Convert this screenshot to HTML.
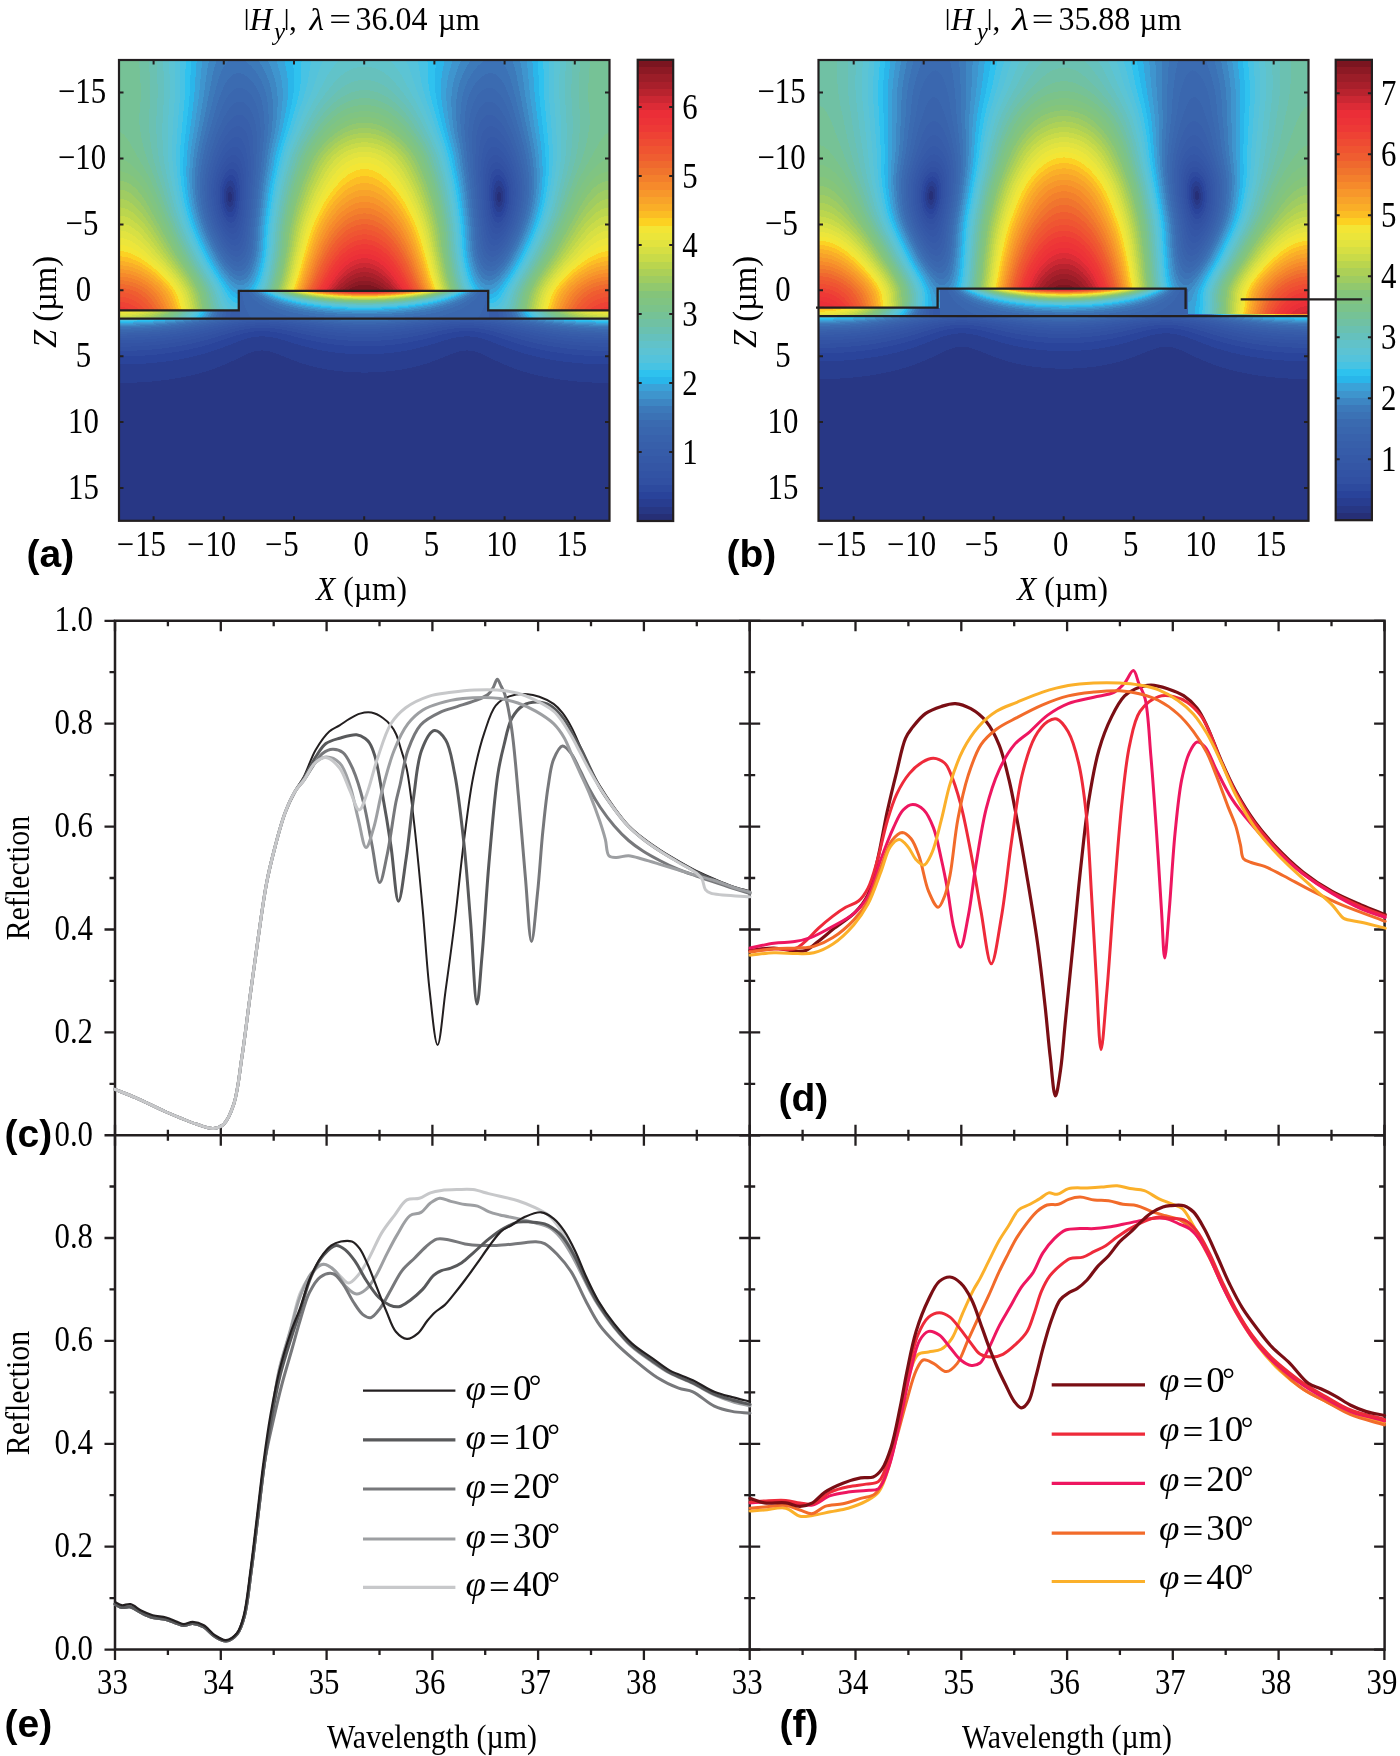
<!DOCTYPE html>
<html><head><meta charset="utf-8"><title>Figure</title>
<style>html,body{margin:0;padding:0;background:#fff}body{position:relative;width:1400px;height:1756px;overflow:hidden}canvas{position:absolute;display:block}</style>
</head><body>
<svg width="1400" height="1756" style="position:absolute;left:0;top:0" shape-rendering="crispEdges"><path fill="#78c096" d="M119.0 60.0h20.6v10.6h-20.6zM589.5 60.0h20.6v10.6h-20.6zM119.0 70.0h20.6v10.6h-20.6zM589.5 70.0h20.6v10.6h-20.6zM119.0 80.0h20.6v10.6h-20.6zM589.5 80.0h20.6v10.6h-20.6zM119.0 90.1h20.6v10.6h-20.6zM589.5 90.1h20.6v10.6h-20.6zM119.0 100.1h20.6v10.6h-20.6zM589.5 100.1h20.6v10.6h-20.6zM119.0 110.1h20.6v10.6h-20.6zM589.5 110.1h20.6v10.6h-20.6zM119.0 120.1h20.6v10.6h-20.6zM589.5 120.1h20.6v10.6h-20.6zM129.0 130.1h10.6v10.6h-10.6zM309.2 130.1h10.6v10.6h-10.6zM409.3 130.1h10.6v10.6h-10.6zM589.5 130.1h10.6v10.6h-10.6zM129.0 140.1h10.6v10.6h-10.6zM589.5 140.1h10.6v10.6h-10.6zM149.0 180.2h10.6v10.6h-10.6zM569.5 180.2h10.6v10.6h-10.6zM1058.5 80.0h10.6v10.6h-10.6zM818.5 110.1h10.6v10.6h-10.6zM1298.5 110.1h10.6v10.6h-10.6zM818.5 120.1h10.6v10.6h-10.6zM1298.5 120.1h10.6v10.6h-10.6zM818.5 130.1h20.6v10.6h-20.6zM1298.5 130.1h10.6v10.6h-10.6zM828.5 140.1h10.6v10.6h-10.6zM998.5 140.1h10.6v10.6h-10.6zM1288.5 140.1h10.6v10.6h-10.6zM838.5 160.2h10.6v10.6h-10.6zM1278.5 160.2h10.6v10.6h-10.6zM988.5 170.2h10.6v10.6h-10.6zM848.5 180.2h10.6v10.6h-10.6zM1268.5 180.2h10.6v10.6h-10.6zM978.5 210.3h10.6v10.6h-10.6zM878.5 240.3h10.6v10.6h-10.6zM1228.5 260.3h10.6v10.6h-10.6zM637.7 311.4h36.1v6.6h-36.1zM1335.7 310.9h36.8v6.6h-36.8z"/><path fill="#72c0a2" d="M139.0 60.0h10.6v10.6h-10.6zM579.5 60.0h10.6v10.6h-10.6zM139.0 70.0h10.6v10.6h-10.6zM579.5 70.0h10.6v10.6h-10.6zM139.0 80.0h10.6v10.6h-10.6zM579.5 80.0h10.6v10.6h-10.6zM139.0 90.1h10.6v10.6h-10.6zM349.2 90.1h30.6v10.6h-30.6zM579.5 90.1h10.6v10.6h-10.6zM139.0 100.1h10.6v10.6h-10.6zM579.5 100.1h10.6v10.6h-10.6zM139.0 110.1h10.6v10.6h-10.6zM319.2 110.1h10.6v10.6h-10.6zM399.3 110.1h10.6v10.6h-10.6zM579.5 110.1h10.6v10.6h-10.6zM139.0 120.1h10.6v10.6h-10.6zM579.5 120.1h10.6v10.6h-10.6zM139.0 130.1h10.6v10.6h-10.6zM579.5 130.1h10.6v10.6h-10.6zM139.0 140.1h10.6v10.6h-10.6zM299.2 140.1h10.6v10.6h-10.6zM419.3 140.1h10.6v10.6h-10.6zM579.5 140.1h10.6v10.6h-10.6zM149.0 170.2h10.6v10.6h-10.6zM569.5 170.2h10.6v10.6h-10.6zM269.2 270.4h10.6v10.6h-10.6zM449.3 270.4h10.6v10.6h-10.6zM818.5 60.0h10.6v10.6h-10.6zM1298.5 60.0h10.6v10.6h-10.6zM818.5 70.0h10.6v10.6h-10.6zM1048.5 70.0h30.6v10.6h-30.6zM1298.5 70.0h10.6v10.6h-10.6zM818.5 80.0h20.6v10.6h-20.6zM1038.5 80.0h10.6v10.6h-10.6zM1078.5 80.0h10.6v10.6h-10.6zM1298.5 80.0h10.6v10.6h-10.6zM818.5 90.1h20.6v10.6h-20.6zM1288.5 90.1h20.6v10.6h-20.6zM818.5 100.1h20.6v10.6h-20.6zM1288.5 100.1h20.6v10.6h-20.6zM828.5 110.1h10.6v10.6h-10.6zM1008.5 110.1h10.6v10.6h-10.6zM1288.5 110.1h10.6v10.6h-10.6zM1288.5 120.1h10.6v10.6h-10.6zM998.5 130.1h10.6v10.6h-10.6zM838.5 140.1h10.6v10.6h-10.6zM1278.5 140.1h10.6v10.6h-10.6zM988.5 160.2h10.6v10.6h-10.6zM1128.5 160.2h10.6v10.6h-10.6zM848.5 170.2h10.6v10.6h-10.6zM1268.5 170.2h10.6v10.6h-10.6zM978.5 200.2h10.6v10.6h-10.6zM1248.5 220.3h10.6v10.6h-10.6zM898.5 270.4h10.6v10.6h-10.6zM1148.5 270.4h10.6v10.6h-10.6zM1148.5 280.4h10.6v10.6h-10.6zM637.7 317.4h36.1v6.6h-36.1z"/><path fill="#6cc0b4" d="M149.0 60.0h10.6v10.6h-10.6zM569.5 60.0h10.6v10.6h-10.6zM149.0 70.0h10.6v10.6h-10.6zM569.5 70.0h10.6v10.6h-10.6zM149.0 80.0h10.6v10.6h-10.6zM349.2 80.0h30.6v10.6h-30.6zM569.5 80.0h10.6v10.6h-10.6zM149.0 90.1h10.6v10.6h-10.6zM329.2 90.1h10.6v10.6h-10.6zM389.3 90.1h10.6v10.6h-10.6zM569.5 90.1h10.6v10.6h-10.6zM149.0 100.1h10.6v10.6h-10.6zM319.2 100.1h10.6v10.6h-10.6zM399.3 100.1h10.6v10.6h-10.6zM569.5 100.1h10.6v10.6h-10.6zM149.0 110.1h10.6v10.6h-10.6zM569.5 110.1h10.6v10.6h-10.6zM149.0 120.1h10.6v10.6h-10.6zM569.5 120.1h10.6v10.6h-10.6zM149.0 130.1h10.6v10.6h-10.6zM569.5 130.1h10.6v10.6h-10.6zM149.0 140.1h10.6v10.6h-10.6zM569.5 140.1h10.6v10.6h-10.6zM159.0 180.2h10.6v10.6h-10.6zM559.4 180.2h10.6v10.6h-10.6zM279.2 190.2h10.6v10.6h-10.6zM439.3 190.2h10.6v10.6h-10.6zM838.5 60.0h10.6v10.6h-10.6zM1038.5 60.0h10.6v10.6h-10.6zM1078.5 60.0h10.6v10.6h-10.6zM1278.5 60.0h10.6v10.6h-10.6zM838.5 70.0h10.6v10.6h-10.6zM1028.5 70.0h10.6v10.6h-10.6zM1088.5 70.0h10.6v10.6h-10.6zM1278.5 70.0h10.6v10.6h-10.6zM838.5 80.0h10.6v10.6h-10.6zM1278.5 80.0h10.6v10.6h-10.6zM838.5 90.1h10.6v10.6h-10.6zM1278.5 90.1h10.6v10.6h-10.6zM1008.5 100.1h10.6v10.6h-10.6zM848.5 140.1h10.6v10.6h-10.6zM1268.5 140.1h10.6v10.6h-10.6zM858.5 180.2h10.6v10.6h-10.6zM1258.5 180.2h10.6v10.6h-10.6zM868.5 210.3h10.6v10.6h-10.6zM1248.5 210.3h10.6v10.6h-10.6zM878.5 230.3h10.6v10.6h-10.6zM1228.5 250.3h10.6v10.6h-10.6zM908.5 290.4h10.6v10.6h-10.6zM637.7 329.3h36.1v6.6h-36.1zM1335.7 328.9h36.8v6.6h-36.8z"/><path fill="#60c0c6" d="M159.0 60.0h10.6v10.6h-10.6zM349.2 60.0h30.6v10.6h-30.6zM559.4 60.0h10.6v10.6h-10.6zM329.2 70.0h10.6v10.6h-10.6zM389.3 70.0h10.6v10.6h-10.6zM159.0 100.1h10.6v10.6h-10.6zM309.2 100.1h10.6v10.6h-10.6zM409.3 100.1h10.6v10.6h-10.6zM559.4 100.1h10.6v10.6h-10.6zM159.0 110.1h10.6v10.6h-10.6zM559.4 110.1h10.6v10.6h-10.6zM159.0 120.1h10.6v10.6h-10.6zM299.2 120.1h10.6v10.6h-10.6zM419.3 120.1h10.6v10.6h-10.6zM559.4 120.1h10.6v10.6h-10.6zM159.0 130.1h10.6v10.6h-10.6zM559.4 130.1h10.6v10.6h-10.6zM159.0 140.1h10.6v10.6h-10.6zM289.2 140.1h10.6v10.6h-10.6zM429.3 140.1h10.6v10.6h-10.6zM559.4 140.1h10.6v10.6h-10.6zM159.0 150.2h10.6v10.6h-10.6zM559.4 150.2h10.6v10.6h-10.6zM169.1 200.2h10.6v10.6h-10.6zM549.4 200.2h10.6v10.6h-10.6zM269.2 230.3h10.6v10.6h-10.6zM449.3 230.3h10.6v10.6h-10.6zM1018.5 60.0h10.6v10.6h-10.6zM1098.5 60.0h10.6v10.6h-10.6zM1008.5 80.0h10.6v10.6h-10.6zM1108.5 80.0h10.6v10.6h-10.6zM998.5 100.1h10.6v10.6h-10.6zM1118.5 100.1h10.6v10.6h-10.6zM988.5 130.1h10.6v10.6h-10.6zM858.5 140.1h10.6v10.6h-10.6zM1258.5 140.1h10.6v10.6h-10.6zM1258.5 150.2h10.6v10.6h-10.6zM978.5 170.2h10.6v10.6h-10.6zM1138.5 170.2h10.6v10.6h-10.6zM878.5 220.3h10.6v10.6h-10.6zM968.5 220.3h10.6v10.6h-10.6zM888.5 240.3h10.6v10.6h-10.6zM898.5 260.3h10.6v10.6h-10.6zM1208.5 280.4h10.6v10.6h-10.6z"/><path fill="#5ac6d8" d="M169.1 60.0h10.6v10.6h-10.6zM549.4 60.0h10.6v10.6h-10.6zM169.1 70.0h10.6v10.6h-10.6zM549.4 70.0h10.6v10.6h-10.6zM169.1 80.0h10.6v10.6h-10.6zM309.2 80.0h10.6v10.6h-10.6zM409.3 80.0h10.6v10.6h-10.6zM549.4 80.0h10.6v10.6h-10.6zM169.1 90.1h10.6v10.6h-10.6zM549.4 90.1h10.6v10.6h-10.6zM169.1 100.1h10.6v10.6h-10.6zM549.4 100.1h10.6v10.6h-10.6zM169.1 110.1h10.6v10.6h-10.6zM549.4 110.1h10.6v10.6h-10.6zM289.2 130.1h10.6v10.6h-10.6zM429.3 130.1h10.6v10.6h-10.6zM199.1 260.3h10.6v10.6h-10.6zM519.4 260.3h10.6v10.6h-10.6zM998.5 80.0h10.6v10.6h-10.6zM1118.5 80.0h10.6v10.6h-10.6zM988.5 110.1h10.6v10.6h-10.6zM1138.5 150.2h10.6v10.6h-10.6zM868.5 160.2h10.6v10.6h-10.6zM1248.5 170.2h10.6v10.6h-10.6z"/><path fill="#42c0ea" d="M179.1 60.0h10.6v10.6h-10.6zM539.4 60.0h10.6v10.6h-10.6zM988.5 80.0h10.6v10.6h-10.6z"/><path fill="#30b4e4" d="M189.1 60.0h10.6v10.6h-10.6zM529.4 60.0h10.6v10.6h-10.6zM279.2 120.1h10.6v10.6h-10.6zM439.3 120.1h10.6v10.6h-10.6zM179.1 170.2h10.6v10.6h-10.6zM539.4 170.2h10.6v10.6h-10.6zM978.5 80.0h10.6v10.6h-10.6z"/><path fill="#3c96cc" d="M199.1 60.0h10.6v10.6h-10.6zM269.2 60.0h10.6v10.6h-10.6zM449.3 60.0h10.6v10.6h-10.6zM519.4 60.0h10.6v10.6h-10.6zM239.1 280.4h10.6v10.6h-10.6zM479.4 280.4h10.6v10.6h-10.6zM289.2 300.4h10.6v10.6h-10.6zM429.3 300.4h10.6v10.6h-10.6zM1148.5 70.0h10.6v10.6h-10.6zM1148.5 80.0h10.6v10.6h-10.6zM968.5 90.1h10.6v10.6h-10.6zM1228.5 90.1h10.6v10.6h-10.6zM1228.5 100.1h10.6v10.6h-10.6zM1228.5 110.1h10.6v10.6h-10.6zM1228.5 120.1h10.6v10.6h-10.6zM1228.5 130.1h10.6v10.6h-10.6zM1228.5 140.1h10.6v10.6h-10.6zM888.5 150.2h10.6v10.6h-10.6zM888.5 190.2h10.6v10.6h-10.6zM1228.5 200.2h10.6v10.6h-10.6zM1218.5 230.3h10.6v10.6h-10.6z"/><path fill="#3c84c0" d="M209.1 60.0h10.6v10.6h-10.6zM259.1 60.0h10.6v10.6h-10.6zM459.3 60.0h10.6v10.6h-10.6zM509.4 60.0h10.6v10.6h-10.6zM269.2 90.1h10.6v10.6h-10.6zM449.3 90.1h10.6v10.6h-10.6zM269.2 100.1h10.6v10.6h-10.6zM449.3 100.1h10.6v10.6h-10.6zM199.1 110.1h10.6v10.6h-10.6zM269.2 110.1h10.6v10.6h-10.6zM449.3 110.1h10.6v10.6h-10.6zM519.4 110.1h10.6v10.6h-10.6zM189.1 160.2h10.6v10.6h-10.6zM529.4 160.2h10.6v10.6h-10.6zM189.1 170.2h10.6v10.6h-10.6zM259.1 170.2h10.6v10.6h-10.6zM459.3 170.2h10.6v10.6h-10.6zM529.4 170.2h10.6v10.6h-10.6zM189.1 180.2h10.6v10.6h-10.6zM529.4 180.2h10.6v10.6h-10.6zM279.2 300.4h10.6v10.6h-10.6zM439.3 300.4h10.6v10.6h-10.6zM898.5 60.0h10.6v10.6h-10.6zM1218.5 60.0h10.6v10.6h-10.6zM898.5 70.0h10.6v10.6h-10.6zM1158.5 170.2h10.6v10.6h-10.6zM958.5 180.2h10.6v10.6h-10.6zM898.5 220.3h10.6v10.6h-10.6zM1168.5 250.3h10.6v10.6h-10.6zM918.5 260.3h10.6v10.6h-10.6zM948.5 260.3h10.6v10.6h-10.6zM1198.5 310.4h10.6v10.6h-10.6zM637.7 401.2h36.1v6.6h-36.1zM1335.7 400.6h36.8v6.6h-36.8z"/><path fill="#3c78ba" d="M219.1 60.0h10.6v10.6h-10.6zM249.1 60.0h10.6v10.6h-10.6zM469.4 60.0h10.6v10.6h-10.6zM499.4 60.0h10.6v10.6h-10.6zM209.1 80.0h10.6v10.6h-10.6zM259.1 80.0h10.6v10.6h-10.6zM459.3 80.0h10.6v10.6h-10.6zM509.4 80.0h10.6v10.6h-10.6zM209.1 90.1h10.6v10.6h-10.6zM509.4 90.1h10.6v10.6h-10.6zM199.1 130.1h10.6v10.6h-10.6zM519.4 130.1h10.6v10.6h-10.6zM259.1 150.2h10.6v10.6h-10.6zM459.3 150.2h10.6v10.6h-10.6zM259.1 160.2h10.6v10.6h-10.6zM459.3 160.2h10.6v10.6h-10.6zM199.1 220.3h10.6v10.6h-10.6zM519.4 220.3h10.6v10.6h-10.6zM249.1 240.3h10.6v10.6h-10.6zM469.4 240.3h10.6v10.6h-10.6zM219.1 260.3h10.6v10.6h-10.6zM499.4 260.3h10.6v10.6h-10.6zM229.1 270.4h20.6v10.6h-20.6zM479.4 270.4h20.6v10.6h-20.6zM319.2 310.4h20.6v10.6h-20.6zM389.3 310.4h20.6v10.6h-20.6zM159.0 320.5h10.6v10.6h-10.6zM559.4 320.5h10.6v10.6h-10.6zM1218.5 100.1h10.6v10.6h-10.6zM898.5 110.1h10.6v10.6h-10.6zM1218.5 110.1h10.6v10.6h-10.6zM898.5 120.1h10.6v10.6h-10.6zM1218.5 120.1h10.6v10.6h-10.6zM898.5 130.1h10.6v10.6h-10.6zM958.5 130.1h10.6v10.6h-10.6zM898.5 140.1h10.6v10.6h-10.6zM958.5 140.1h10.6v10.6h-10.6zM958.5 150.2h10.6v10.6h-10.6zM958.5 160.2h10.6v10.6h-10.6zM1168.5 230.3h10.6v10.6h-10.6zM948.5 240.3h10.6v10.6h-10.6zM1208.5 240.3h10.6v10.6h-10.6zM928.5 270.4h10.6v10.6h-10.6zM1188.5 270.4h10.6v10.6h-10.6zM958.5 290.4h10.6v10.6h-10.6zM1158.5 290.4h10.6v10.6h-10.6zM1058.5 310.4h10.6v10.6h-10.6zM637.7 407.2h36.1v6.6h-36.1zM1335.7 406.6h36.8v6.6h-36.8z"/><path fill="#3c72b4" d="M229.1 60.0h20.6v10.6h-20.6zM479.4 60.0h20.6v10.6h-20.6zM219.1 70.0h10.6v10.6h-10.6zM249.1 70.0h10.6v10.6h-10.6zM469.4 70.0h10.6v10.6h-10.6zM499.4 70.0h10.6v10.6h-10.6zM259.1 90.1h10.6v10.6h-10.6zM459.3 90.1h10.6v10.6h-10.6zM209.1 100.1h10.6v10.6h-10.6zM259.1 100.1h10.6v10.6h-10.6zM459.3 100.1h10.6v10.6h-10.6zM509.4 100.1h10.6v10.6h-10.6zM259.1 110.1h10.6v10.6h-10.6zM459.3 110.1h10.6v10.6h-10.6zM259.1 130.1h10.6v10.6h-10.6zM459.3 130.1h10.6v10.6h-10.6zM199.1 140.1h10.6v10.6h-10.6zM259.1 140.1h10.6v10.6h-10.6zM459.3 140.1h10.6v10.6h-10.6zM519.4 140.1h10.6v10.6h-10.6zM249.1 220.3h10.6v10.6h-10.6zM469.4 220.3h10.6v10.6h-10.6zM249.1 230.3h10.6v10.6h-10.6zM469.4 230.3h10.6v10.6h-10.6zM209.1 240.3h10.6v10.6h-10.6zM509.4 240.3h10.6v10.6h-10.6zM249.1 290.4h10.6v10.6h-10.6zM469.4 290.4h10.6v10.6h-10.6zM269.2 300.4h10.6v10.6h-10.6zM449.3 300.4h10.6v10.6h-10.6zM209.1 310.4h10.6v10.6h-10.6zM309.2 310.4h10.6v10.6h-10.6zM409.3 310.4h10.6v10.6h-10.6zM509.4 310.4h10.6v10.6h-10.6zM169.1 320.5h10.6v10.6h-10.6zM549.4 320.5h10.6v10.6h-10.6zM948.5 60.0h10.6v10.6h-10.6zM1168.5 60.0h10.6v10.6h-10.6zM908.5 70.0h10.6v10.6h-10.6zM948.5 70.0h10.6v10.6h-10.6zM1168.5 70.0h10.6v10.6h-10.6zM1208.5 70.0h10.6v10.6h-10.6zM908.5 80.0h10.6v10.6h-10.6zM1218.5 140.1h10.6v10.6h-10.6zM898.5 150.2h10.6v10.6h-10.6zM1218.5 150.2h10.6v10.6h-10.6zM898.5 210.3h10.6v10.6h-10.6zM1218.5 210.3h10.6v10.6h-10.6zM948.5 220.3h10.6v10.6h-10.6zM938.5 270.4h10.6v10.6h-10.6zM1178.5 270.4h10.6v10.6h-10.6zM978.5 300.4h10.6v10.6h-10.6zM1138.5 300.4h10.6v10.6h-10.6zM908.5 310.4h10.6v10.6h-10.6zM1028.5 310.4h30.6v10.6h-30.6zM1068.5 310.4h30.6v10.6h-30.6zM828.5 320.5h20.6v10.6h-20.6zM1278.5 320.5h20.6v10.6h-20.6zM637.7 413.2h36.1v6.6h-36.1zM1335.7 412.6h36.8v6.6h-36.8z"/><path fill="#36a8de" d="M279.2 60.0h10.6v10.6h-10.6zM439.3 60.0h10.6v10.6h-10.6zM279.2 70.0h10.6v10.6h-10.6zM439.3 70.0h10.6v10.6h-10.6zM189.1 100.1h10.6v10.6h-10.6zM529.4 100.1h10.6v10.6h-10.6zM279.2 110.1h10.6v10.6h-10.6zM439.3 110.1h10.6v10.6h-10.6zM269.2 150.2h10.6v10.6h-10.6zM449.3 150.2h10.6v10.6h-10.6zM199.1 240.3h10.6v10.6h-10.6zM519.4 240.3h10.6v10.6h-10.6zM978.5 60.0h10.6v10.6h-10.6zM1148.5 120.1h10.6v10.6h-10.6zM1148.5 130.1h10.6v10.6h-10.6zM968.5 140.1h10.6v10.6h-10.6zM888.5 210.3h10.6v10.6h-10.6zM1188.5 300.4h10.6v10.6h-10.6z"/><path fill="#30c0f0" d="M289.2 60.0h10.6v10.6h-10.6zM429.3 60.0h10.6v10.6h-10.6zM637.7 371.3h36.1v6.6h-36.1zM1335.7 370.7h36.8v6.6h-36.8z"/><path fill="#42c0e4" d="M299.2 60.0h10.6v10.6h-10.6zM419.3 60.0h10.6v10.6h-10.6zM289.2 110.1h10.6v10.6h-10.6zM429.3 110.1h10.6v10.6h-10.6zM279.2 140.1h10.6v10.6h-10.6zM439.3 140.1h10.6v10.6h-10.6zM179.1 200.2h10.6v10.6h-10.6zM539.4 200.2h10.6v10.6h-10.6zM189.1 230.3h10.6v10.6h-10.6zM529.4 230.3h10.6v10.6h-10.6zM259.1 260.3h10.6v10.6h-10.6zM459.3 260.3h10.6v10.6h-10.6zM209.1 270.4h10.6v10.6h-10.6zM509.4 270.4h10.6v10.6h-10.6zM1128.5 80.0h10.6v10.6h-10.6zM1138.5 120.1h10.6v10.6h-10.6zM1148.5 180.2h10.6v10.6h-10.6zM1238.5 200.2h10.6v10.6h-10.6zM1158.5 250.3h10.6v10.6h-10.6zM1158.5 260.3h10.6v10.6h-10.6zM958.5 270.4h10.6v10.6h-10.6zM918.5 290.4h10.6v10.6h-10.6zM1198.5 290.4h10.6v10.6h-10.6zM1198.5 300.4h10.6v10.6h-10.6zM637.7 365.3h36.1v6.6h-36.1zM1335.7 364.7h36.8v6.6h-36.8z"/><path fill="#54c0de" d="M309.2 60.0h10.6v10.6h-10.6zM409.3 60.0h10.6v10.6h-10.6z"/><path fill="#5ac6d2" d="M319.2 60.0h10.6v10.6h-10.6zM399.3 60.0h10.6v10.6h-10.6zM319.2 70.0h10.6v10.6h-10.6zM399.3 70.0h10.6v10.6h-10.6zM309.2 90.1h10.6v10.6h-10.6zM409.3 90.1h10.6v10.6h-10.6zM299.2 110.1h10.6v10.6h-10.6zM419.3 110.1h10.6v10.6h-10.6zM279.2 160.2h10.6v10.6h-10.6zM439.3 160.2h10.6v10.6h-10.6zM169.1 180.2h10.6v10.6h-10.6zM549.4 180.2h10.6v10.6h-10.6zM179.1 220.3h10.6v10.6h-10.6zM539.4 220.3h10.6v10.6h-10.6zM219.1 300.4h10.6v10.6h-10.6zM499.4 300.4h10.6v10.6h-10.6zM1008.5 60.0h10.6v10.6h-10.6zM1108.5 60.0h10.6v10.6h-10.6zM1258.5 70.0h10.6v10.6h-10.6zM1258.5 80.0h10.6v10.6h-10.6zM998.5 90.1h10.6v10.6h-10.6zM1258.5 90.1h10.6v10.6h-10.6zM1128.5 110.1h10.6v10.6h-10.6zM978.5 160.2h10.6v10.6h-10.6zM868.5 170.2h10.6v10.6h-10.6zM868.5 180.2h10.6v10.6h-10.6zM1248.5 180.2h10.6v10.6h-10.6z"/><path fill="#60c6cc" d="M329.2 60.0h10.6v10.6h-10.6zM389.3 60.0h10.6v10.6h-10.6zM319.2 80.0h10.6v10.6h-10.6zM399.3 80.0h10.6v10.6h-10.6zM169.1 190.2h10.6v10.6h-10.6zM549.4 190.2h10.6v10.6h-10.6zM1008.5 70.0h10.6v10.6h-10.6zM1108.5 70.0h10.6v10.6h-10.6zM858.5 110.1h10.6v10.6h-10.6zM858.5 120.1h10.6v10.6h-10.6zM988.5 120.1h10.6v10.6h-10.6zM1128.5 120.1h10.6v10.6h-10.6zM1258.5 120.1h10.6v10.6h-10.6zM1258.5 130.1h10.6v10.6h-10.6z"/><path fill="#60c0cc" d="M339.2 60.0h10.6v10.6h-10.6zM379.3 60.0h10.6v10.6h-10.6zM279.2 170.2h10.6v10.6h-10.6zM439.3 170.2h10.6v10.6h-10.6zM269.2 220.3h10.6v10.6h-10.6zM449.3 220.3h10.6v10.6h-10.6zM259.1 280.4h10.6v10.6h-10.6zM459.3 280.4h10.6v10.6h-10.6zM858.5 130.1h10.6v10.6h-10.6zM1138.5 160.2h10.6v10.6h-10.6zM868.5 190.2h10.6v10.6h-10.6zM1248.5 190.2h10.6v10.6h-10.6zM1148.5 210.3h10.6v10.6h-10.6zM1238.5 220.3h10.6v10.6h-10.6zM1228.5 240.3h10.6v10.6h-10.6zM1218.5 260.3h10.6v10.6h-10.6zM637.7 341.3h36.1v6.6h-36.1zM1335.7 340.8h36.8v6.6h-36.8z"/><path fill="#66c0c6" d="M159.0 70.0h10.6v10.6h-10.6zM559.4 70.0h10.6v10.6h-10.6zM159.0 80.0h10.6v10.6h-10.6zM559.4 80.0h10.6v10.6h-10.6zM159.0 90.1h10.6v10.6h-10.6zM559.4 90.1h10.6v10.6h-10.6zM858.5 150.2h10.6v10.6h-10.6zM1248.5 200.2h10.6v10.6h-10.6z"/><path fill="#3cc0ea" d="M179.1 70.0h10.6v10.6h-10.6zM539.4 70.0h10.6v10.6h-10.6zM179.1 80.0h10.6v10.6h-10.6zM539.4 80.0h10.6v10.6h-10.6zM179.1 90.1h10.6v10.6h-10.6zM539.4 90.1h10.6v10.6h-10.6zM179.1 100.1h10.6v10.6h-10.6zM539.4 100.1h10.6v10.6h-10.6zM1128.5 70.0h10.6v10.6h-10.6zM1138.5 110.1h10.6v10.6h-10.6zM978.5 120.1h10.6v10.6h-10.6zM1238.5 190.2h10.6v10.6h-10.6z"/><path fill="#30aee4" d="M189.1 70.0h10.6v10.6h-10.6zM529.4 70.0h10.6v10.6h-10.6zM189.1 80.0h10.6v10.6h-10.6zM529.4 80.0h10.6v10.6h-10.6zM1138.5 60.0h10.6v10.6h-10.6zM978.5 70.0h10.6v10.6h-10.6zM1138.5 70.0h10.6v10.6h-10.6z"/><path fill="#3c90cc" d="M199.1 70.0h10.6v10.6h-10.6zM269.2 70.0h10.6v10.6h-10.6zM449.3 70.0h10.6v10.6h-10.6zM519.4 70.0h10.6v10.6h-10.6zM199.1 80.0h10.6v10.6h-10.6zM519.4 80.0h10.6v10.6h-10.6zM269.2 130.1h10.6v10.6h-10.6zM449.3 130.1h10.6v10.6h-10.6zM189.1 140.1h10.6v10.6h-10.6zM529.4 140.1h10.6v10.6h-10.6zM259.1 190.2h10.6v10.6h-10.6zM459.3 190.2h10.6v10.6h-10.6zM189.1 200.2h10.6v10.6h-10.6zM529.4 200.2h10.6v10.6h-10.6zM259.1 290.4h10.6v10.6h-10.6zM459.3 290.4h10.6v10.6h-10.6zM968.5 60.0h10.6v10.6h-10.6zM1148.5 60.0h10.6v10.6h-10.6zM968.5 70.0h10.6v10.6h-10.6zM968.5 80.0h10.6v10.6h-10.6zM1228.5 150.2h10.6v10.6h-10.6zM888.5 160.2h10.6v10.6h-10.6zM888.5 170.2h10.6v10.6h-10.6zM888.5 180.2h10.6v10.6h-10.6zM1158.5 190.2h10.6v10.6h-10.6zM1208.5 250.3h10.6v10.6h-10.6zM1168.5 270.4h10.6v10.6h-10.6zM928.5 280.4h10.6v10.6h-10.6zM998.5 300.4h10.6v10.6h-10.6zM1118.5 300.4h10.6v10.6h-10.6zM637.7 395.2h36.1v6.6h-36.1zM1335.7 394.6h36.8v6.6h-36.8z"/><path fill="#3c7eba" d="M209.1 70.0h10.6v10.6h-10.6zM259.1 70.0h10.6v10.6h-10.6zM459.3 70.0h10.6v10.6h-10.6zM509.4 70.0h10.6v10.6h-10.6zM199.1 120.1h10.6v10.6h-10.6zM519.4 120.1h10.6v10.6h-10.6zM249.1 250.3h10.6v10.6h-10.6zM469.4 250.3h10.6v10.6h-10.6zM339.2 310.4h10.6v10.6h-10.6zM379.3 310.4h10.6v10.6h-10.6zM958.5 60.0h10.6v10.6h-10.6zM958.5 70.0h10.6v10.6h-10.6zM958.5 80.0h10.6v10.6h-10.6zM1158.5 80.0h10.6v10.6h-10.6zM1218.5 80.0h10.6v10.6h-10.6zM898.5 90.1h10.6v10.6h-10.6zM958.5 90.1h10.6v10.6h-10.6zM1158.5 90.1h10.6v10.6h-10.6zM1218.5 90.1h10.6v10.6h-10.6zM898.5 100.1h10.6v10.6h-10.6zM958.5 100.1h10.6v10.6h-10.6zM1158.5 100.1h10.6v10.6h-10.6zM958.5 110.1h10.6v10.6h-10.6zM958.5 120.1h10.6v10.6h-10.6zM1158.5 130.1h10.6v10.6h-10.6zM1158.5 140.1h10.6v10.6h-10.6zM1158.5 150.2h10.6v10.6h-10.6zM1158.5 160.2h10.6v10.6h-10.6zM958.5 170.2h10.6v10.6h-10.6zM1218.5 220.3h10.6v10.6h-10.6zM908.5 240.3h10.6v10.6h-10.6zM1168.5 240.3h10.6v10.6h-10.6zM948.5 250.3h10.6v10.6h-10.6z"/><path fill="#3c6cb4" d="M229.1 70.0h20.6v10.6h-20.6zM479.4 70.0h20.6v10.6h-20.6zM219.1 80.0h10.6v10.6h-10.6zM249.1 80.0h10.6v10.6h-10.6zM469.4 80.0h10.6v10.6h-10.6zM499.4 80.0h10.6v10.6h-10.6zM219.1 90.1h10.6v10.6h-10.6zM499.4 90.1h10.6v10.6h-10.6zM209.1 110.1h10.6v10.6h-10.6zM509.4 110.1h10.6v10.6h-10.6zM259.1 120.1h10.6v10.6h-10.6zM459.3 120.1h10.6v10.6h-10.6zM199.1 150.2h10.6v10.6h-10.6zM519.4 150.2h10.6v10.6h-10.6zM199.1 210.3h10.6v10.6h-10.6zM249.1 210.3h10.6v10.6h-10.6zM469.4 210.3h10.6v10.6h-10.6zM519.4 210.3h10.6v10.6h-10.6zM239.1 260.3h10.6v10.6h-10.6zM479.4 260.3h10.6v10.6h-10.6zM259.1 300.4h10.6v10.6h-10.6zM459.3 300.4h10.6v10.6h-10.6zM289.2 310.4h20.6v10.6h-20.6zM419.3 310.4h20.6v10.6h-20.6zM179.1 320.5h10.6v10.6h-10.6zM539.4 320.5h10.6v10.6h-10.6zM918.5 60.0h30.6v10.6h-30.6zM1178.5 60.0h30.6v10.6h-30.6zM948.5 80.0h10.6v10.6h-10.6zM1168.5 80.0h10.6v10.6h-10.6zM1208.5 80.0h10.6v10.6h-10.6zM908.5 90.1h10.6v10.6h-10.6zM948.5 90.1h10.6v10.6h-10.6zM1168.5 90.1h10.6v10.6h-10.6zM1208.5 90.1h10.6v10.6h-10.6zM908.5 100.1h10.6v10.6h-10.6zM948.5 100.1h10.6v10.6h-10.6zM1168.5 100.1h10.6v10.6h-10.6zM1208.5 100.1h10.6v10.6h-10.6zM908.5 110.1h10.6v10.6h-10.6zM948.5 110.1h10.6v10.6h-10.6zM1168.5 110.1h10.6v10.6h-10.6zM898.5 160.2h10.6v10.6h-10.6zM1218.5 160.2h10.6v10.6h-10.6zM898.5 170.2h10.6v10.6h-10.6zM898.5 200.2h10.6v10.6h-10.6zM1218.5 200.2h10.6v10.6h-10.6zM948.5 210.3h10.6v10.6h-10.6zM1168.5 210.3h10.6v10.6h-10.6zM908.5 230.3h10.6v10.6h-10.6zM918.5 250.3h10.6v10.6h-10.6zM1198.5 250.3h10.6v10.6h-10.6zM1178.5 260.3h10.6v10.6h-10.6zM968.5 300.4h10.6v10.6h-10.6zM1148.5 300.4h10.6v10.6h-10.6zM1018.5 310.4h10.6v10.6h-10.6zM1098.5 310.4h10.6v10.6h-10.6zM848.5 320.5h10.6v10.6h-10.6zM1268.5 320.5h10.6v10.6h-10.6z"/><path fill="#2abaea" d="M289.2 70.0h10.6v10.6h-10.6zM429.3 70.0h10.6v10.6h-10.6zM289.2 80.0h10.6v10.6h-10.6zM429.3 80.0h10.6v10.6h-10.6zM1238.5 60.0h10.6v10.6h-10.6zM878.5 70.0h10.6v10.6h-10.6zM1238.5 70.0h10.6v10.6h-10.6zM878.5 80.0h10.6v10.6h-10.6zM878.5 90.1h10.6v10.6h-10.6zM1138.5 90.1h10.6v10.6h-10.6zM878.5 100.1h10.6v10.6h-10.6zM878.5 110.1h10.6v10.6h-10.6z"/><path fill="#48c0e4" d="M299.2 70.0h10.6v10.6h-10.6zM419.3 70.0h10.6v10.6h-10.6zM299.2 80.0h10.6v10.6h-10.6zM419.3 80.0h10.6v10.6h-10.6zM229.1 300.4h10.6v10.6h-10.6zM489.4 300.4h10.6v10.6h-10.6zM1248.5 80.0h10.6v10.6h-10.6zM988.5 90.1h10.6v10.6h-10.6zM1248.5 90.1h10.6v10.6h-10.6zM978.5 130.1h10.6v10.6h-10.6zM968.5 190.2h10.6v10.6h-10.6zM878.5 200.2h10.6v10.6h-10.6z"/><path fill="#54c6d8" d="M309.2 70.0h10.6v10.6h-10.6zM409.3 70.0h10.6v10.6h-10.6zM299.2 100.1h10.6v10.6h-10.6zM419.3 100.1h10.6v10.6h-10.6zM169.1 120.1h10.6v10.6h-10.6zM549.4 120.1h10.6v10.6h-10.6zM169.1 170.2h10.6v10.6h-10.6zM549.4 170.2h10.6v10.6h-10.6zM269.2 200.2h10.6v10.6h-10.6zM449.3 200.2h10.6v10.6h-10.6zM189.1 240.3h10.6v10.6h-10.6zM529.4 240.3h10.6v10.6h-10.6zM1118.5 70.0h10.6v10.6h-10.6zM1128.5 100.1h10.6v10.6h-10.6zM868.5 140.1h10.6v10.6h-10.6zM868.5 150.2h10.6v10.6h-10.6zM978.5 150.2h10.6v10.6h-10.6zM1248.5 150.2h10.6v10.6h-10.6zM1248.5 160.2h10.6v10.6h-10.6zM968.5 200.2h10.6v10.6h-10.6zM878.5 210.3h10.6v10.6h-10.6z"/><path fill="#66c0c0" d="M339.2 70.0h50.7v10.6h-50.7zM329.2 80.0h10.6v10.6h-10.6zM389.3 80.0h10.6v10.6h-10.6zM319.2 90.1h10.6v10.6h-10.6zM399.3 90.1h10.6v10.6h-10.6zM159.0 160.2h10.6v10.6h-10.6zM559.4 160.2h10.6v10.6h-10.6zM279.2 180.2h10.6v10.6h-10.6zM439.3 180.2h10.6v10.6h-10.6zM179.1 230.3h10.6v10.6h-10.6zM539.4 230.3h10.6v10.6h-10.6zM269.2 240.3h10.6v10.6h-10.6zM449.3 240.3h10.6v10.6h-10.6zM189.1 250.3h10.6v10.6h-10.6zM529.4 250.3h10.6v10.6h-10.6zM848.5 60.0h10.6v10.6h-10.6zM1268.5 60.0h10.6v10.6h-10.6zM848.5 70.0h10.6v10.6h-10.6zM1018.5 70.0h10.6v10.6h-10.6zM1098.5 70.0h10.6v10.6h-10.6zM1268.5 70.0h10.6v10.6h-10.6zM848.5 80.0h10.6v10.6h-10.6zM1268.5 80.0h10.6v10.6h-10.6zM848.5 90.1h10.6v10.6h-10.6zM1008.5 90.1h10.6v10.6h-10.6zM1268.5 90.1h10.6v10.6h-10.6zM848.5 100.1h10.6v10.6h-10.6zM1268.5 100.1h10.6v10.6h-10.6zM1128.5 130.1h10.6v10.6h-10.6zM858.5 160.2h10.6v10.6h-10.6zM1258.5 160.2h10.6v10.6h-10.6zM978.5 180.2h10.6v10.6h-10.6zM868.5 200.2h10.6v10.6h-10.6zM1148.5 220.3h10.6v10.6h-10.6zM968.5 230.3h10.6v10.6h-10.6zM908.5 280.4h10.6v10.6h-10.6zM637.7 335.3h36.1v6.6h-36.1zM1335.7 334.8h36.8v6.6h-36.8z"/><path fill="#3c6cae" d="M229.1 80.0h20.6v10.6h-20.6zM479.4 80.0h20.6v10.6h-20.6zM249.1 90.1h10.6v10.6h-10.6zM469.4 90.1h10.6v10.6h-10.6zM209.1 120.1h10.6v10.6h-10.6zM509.4 120.1h10.6v10.6h-10.6zM199.1 160.2h10.6v10.6h-10.6zM519.4 160.2h10.6v10.6h-10.6zM249.1 200.2h10.6v10.6h-10.6zM469.4 200.2h10.6v10.6h-10.6zM219.1 250.3h10.6v10.6h-10.6zM499.4 250.3h10.6v10.6h-10.6zM229.1 260.3h10.6v10.6h-10.6zM489.4 260.3h10.6v10.6h-10.6zM918.5 70.0h10.6v10.6h-10.6zM938.5 70.0h10.6v10.6h-10.6zM1178.5 70.0h10.6v10.6h-10.6zM1198.5 70.0h10.6v10.6h-10.6zM1208.5 110.1h10.6v10.6h-10.6zM908.5 120.1h10.6v10.6h-10.6zM948.5 120.1h10.6v10.6h-10.6zM1168.5 120.1h10.6v10.6h-10.6zM1218.5 170.2h10.6v10.6h-10.6zM898.5 180.2h10.6v10.6h-10.6zM898.5 190.2h10.6v10.6h-10.6zM1168.5 200.2h10.6v10.6h-10.6zM1208.5 230.3h10.6v10.6h-10.6zM928.5 260.3h20.6v10.6h-20.6zM1188.5 260.3h10.6v10.6h-10.6zM1008.5 310.4h10.6v10.6h-10.6zM1108.5 310.4h10.6v10.6h-10.6zM637.7 419.2h36.1v6.6h-36.1zM1335.7 418.6h36.8v6.6h-36.8z"/><path fill="#3c8ac6" d="M269.2 80.0h10.6v10.6h-10.6zM449.3 80.0h10.6v10.6h-10.6zM199.1 90.1h10.6v10.6h-10.6zM519.4 90.1h10.6v10.6h-10.6zM269.2 120.1h10.6v10.6h-10.6zM449.3 120.1h10.6v10.6h-10.6zM189.1 150.2h10.6v10.6h-10.6zM529.4 150.2h10.6v10.6h-10.6zM259.1 180.2h10.6v10.6h-10.6zM459.3 180.2h10.6v10.6h-10.6zM189.1 190.2h10.6v10.6h-10.6zM529.4 190.2h10.6v10.6h-10.6zM199.1 230.3h10.6v10.6h-10.6zM519.4 230.3h10.6v10.6h-10.6zM209.1 250.3h10.6v10.6h-10.6zM509.4 250.3h10.6v10.6h-10.6zM249.1 260.3h10.6v10.6h-10.6zM469.4 260.3h10.6v10.6h-10.6zM129.0 320.5h10.6v10.6h-10.6zM589.5 320.5h10.6v10.6h-10.6zM1228.5 160.2h10.6v10.6h-10.6zM1228.5 170.2h10.6v10.6h-10.6zM1158.5 180.2h10.6v10.6h-10.6zM1228.5 180.2h10.6v10.6h-10.6zM958.5 190.2h10.6v10.6h-10.6zM1168.5 260.3h10.6v10.6h-10.6z"/><path fill="#3ca2d8" d="M279.2 80.0h10.6v10.6h-10.6zM439.3 80.0h10.6v10.6h-10.6zM279.2 90.1h10.6v10.6h-10.6zM439.3 90.1h10.6v10.6h-10.6zM888.5 60.0h10.6v10.6h-10.6zM637.7 383.2h36.1v6.6h-36.1zM1335.7 382.7h36.8v6.6h-36.8z"/><path fill="#66c0ba" d="M339.2 80.0h10.6v10.6h-10.6zM379.3 80.0h10.6v10.6h-10.6zM309.2 110.1h10.6v10.6h-10.6zM409.3 110.1h10.6v10.6h-10.6zM299.2 130.1h10.6v10.6h-10.6zM419.3 130.1h10.6v10.6h-10.6zM289.2 150.2h10.6v10.6h-10.6zM429.3 150.2h10.6v10.6h-10.6zM159.0 170.2h10.6v10.6h-10.6zM559.4 170.2h10.6v10.6h-10.6zM169.1 210.3h10.6v10.6h-10.6zM549.4 210.3h10.6v10.6h-10.6zM269.2 250.3h10.6v10.6h-10.6zM449.3 250.3h10.6v10.6h-10.6zM199.1 270.4h10.6v10.6h-10.6zM519.4 270.4h10.6v10.6h-10.6zM209.1 290.4h10.6v10.6h-10.6zM509.4 290.4h10.6v10.6h-10.6zM179.1 310.4h10.6v10.6h-10.6zM539.4 310.4h10.6v10.6h-10.6zM1028.5 60.0h10.6v10.6h-10.6zM1088.5 60.0h10.6v10.6h-10.6zM1018.5 80.0h10.6v10.6h-10.6zM1108.5 90.1h10.6v10.6h-10.6zM848.5 110.1h10.6v10.6h-10.6zM998.5 110.1h10.6v10.6h-10.6zM1118.5 110.1h10.6v10.6h-10.6zM1268.5 110.1h10.6v10.6h-10.6zM848.5 120.1h10.6v10.6h-10.6zM1268.5 120.1h10.6v10.6h-10.6zM1268.5 130.1h10.6v10.6h-10.6zM988.5 140.1h10.6v10.6h-10.6zM1128.5 140.1h10.6v10.6h-10.6zM858.5 170.2h10.6v10.6h-10.6zM1258.5 170.2h10.6v10.6h-10.6zM1138.5 180.2h10.6v10.6h-10.6zM1148.5 230.3h10.6v10.6h-10.6zM968.5 240.3h10.6v10.6h-10.6zM1208.5 290.4h10.6v10.6h-10.6zM1208.5 300.4h10.6v10.6h-10.6z"/><path fill="#30aede" d="M189.1 90.1h10.6v10.6h-10.6zM529.4 90.1h10.6v10.6h-10.6z"/><path fill="#3c66ae" d="M229.1 90.1h20.6v10.6h-20.6zM479.4 90.1h20.6v10.6h-20.6zM219.1 100.1h40.6v10.6h-40.6zM469.4 100.1h40.6v10.6h-40.6zM219.1 110.1h10.6v10.6h-10.6zM249.1 110.1h10.6v10.6h-10.6zM469.4 110.1h10.6v10.6h-10.6zM499.4 110.1h10.6v10.6h-10.6zM249.1 120.1h10.6v10.6h-10.6zM469.4 120.1h10.6v10.6h-10.6zM209.1 130.1h10.6v10.6h-10.6zM509.4 130.1h10.6v10.6h-10.6zM209.1 140.1h10.6v10.6h-10.6zM509.4 140.1h10.6v10.6h-10.6zM199.1 170.2h10.6v10.6h-10.6zM249.1 170.2h10.6v10.6h-10.6zM469.4 170.2h10.6v10.6h-10.6zM519.4 170.2h10.6v10.6h-10.6zM199.1 180.2h10.6v10.6h-10.6zM249.1 180.2h10.6v10.6h-10.6zM469.4 180.2h10.6v10.6h-10.6zM519.4 180.2h10.6v10.6h-10.6zM199.1 190.2h10.6v10.6h-10.6zM249.1 190.2h10.6v10.6h-10.6zM469.4 190.2h10.6v10.6h-10.6zM519.4 190.2h10.6v10.6h-10.6zM199.1 200.2h10.6v10.6h-10.6zM519.4 200.2h10.6v10.6h-10.6zM209.1 230.3h10.6v10.6h-10.6zM509.4 230.3h10.6v10.6h-10.6zM239.1 250.3h10.6v10.6h-10.6zM479.4 250.3h10.6v10.6h-10.6zM239.1 290.4h10.6v10.6h-10.6zM479.4 290.4h10.6v10.6h-10.6zM239.1 300.4h20.6v10.6h-20.6zM469.4 300.4h20.6v10.6h-20.6zM249.1 310.4h40.6v10.6h-40.6zM439.3 310.4h40.6v10.6h-40.6zM189.1 320.5h10.6v10.6h-10.6zM529.4 320.5h10.6v10.6h-10.6zM928.5 70.0h10.6v10.6h-10.6zM1188.5 70.0h10.6v10.6h-10.6zM918.5 80.0h30.6v10.6h-30.6zM1178.5 80.0h30.6v10.6h-30.6zM918.5 90.1h30.6v10.6h-30.6zM1178.5 90.1h30.6v10.6h-30.6zM918.5 100.1h10.6v10.6h-10.6zM938.5 100.1h10.6v10.6h-10.6zM1178.5 100.1h10.6v10.6h-10.6zM1198.5 100.1h10.6v10.6h-10.6zM918.5 110.1h10.6v10.6h-10.6zM938.5 110.1h10.6v10.6h-10.6zM1178.5 110.1h10.6v10.6h-10.6zM1198.5 110.1h10.6v10.6h-10.6zM1208.5 120.1h10.6v10.6h-10.6zM908.5 130.1h10.6v10.6h-10.6zM948.5 130.1h10.6v10.6h-10.6zM1168.5 130.1h10.6v10.6h-10.6zM1208.5 130.1h10.6v10.6h-10.6zM908.5 140.1h10.6v10.6h-10.6zM948.5 140.1h10.6v10.6h-10.6zM1168.5 140.1h10.6v10.6h-10.6zM1208.5 140.1h10.6v10.6h-10.6zM908.5 150.2h10.6v10.6h-10.6zM948.5 150.2h10.6v10.6h-10.6zM1168.5 150.2h10.6v10.6h-10.6zM1168.5 160.2h10.6v10.6h-10.6zM1168.5 180.2h10.6v10.6h-10.6zM1218.5 180.2h10.6v10.6h-10.6zM948.5 190.2h10.6v10.6h-10.6zM1168.5 190.2h10.6v10.6h-10.6zM1218.5 190.2h10.6v10.6h-10.6zM948.5 200.2h10.6v10.6h-10.6zM908.5 220.3h10.6v10.6h-10.6zM918.5 240.3h10.6v10.6h-10.6zM938.5 250.3h10.6v10.6h-10.6zM1178.5 250.3h10.6v10.6h-10.6zM938.5 290.4h20.6v10.6h-20.6zM1168.5 290.4h20.6v10.6h-20.6zM938.5 300.4h30.6v10.6h-30.6zM1158.5 300.4h20.6v10.6h-20.6zM918.5 310.4h10.6v10.6h-10.6zM988.5 310.4h20.6v10.6h-20.6zM1118.5 310.4h20.6v10.6h-20.6zM858.5 320.5h20.6v10.6h-20.6zM1248.5 320.5h20.6v10.6h-20.6zM637.7 425.2h36.1v6.6h-36.1zM1335.7 424.5h36.8v6.6h-36.8z"/><path fill="#30c0ea" d="M289.2 90.1h10.6v10.6h-10.6zM429.3 90.1h10.6v10.6h-10.6zM179.1 130.1h10.6v10.6h-10.6zM539.4 130.1h10.6v10.6h-10.6zM878.5 60.0h10.6v10.6h-10.6zM988.5 60.0h10.6v10.6h-10.6zM1138.5 100.1h10.6v10.6h-10.6zM878.5 140.1h10.6v10.6h-10.6zM878.5 150.2h10.6v10.6h-10.6zM878.5 160.2h10.6v10.6h-10.6z"/><path fill="#4ec6de" d="M299.2 90.1h10.6v10.6h-10.6zM419.3 90.1h10.6v10.6h-10.6zM289.2 120.1h10.6v10.6h-10.6zM429.3 120.1h10.6v10.6h-10.6zM279.2 150.2h10.6v10.6h-10.6zM439.3 150.2h10.6v10.6h-10.6zM179.1 210.3h10.6v10.6h-10.6zM539.4 210.3h10.6v10.6h-10.6zM868.5 110.1h10.6v10.6h-10.6zM1248.5 130.1h10.6v10.6h-10.6zM978.5 140.1h10.6v10.6h-10.6z"/><path fill="#6cc0a8" d="M339.2 90.1h10.6v10.6h-10.6zM379.3 90.1h10.6v10.6h-10.6zM149.0 160.2h10.6v10.6h-10.6zM289.2 160.2h10.6v10.6h-10.6zM429.3 160.2h10.6v10.6h-10.6zM569.5 160.2h10.6v10.6h-10.6zM159.0 190.2h10.6v10.6h-10.6zM559.4 190.2h10.6v10.6h-10.6zM179.1 240.3h10.6v10.6h-10.6zM539.4 240.3h10.6v10.6h-10.6zM1288.5 60.0h10.6v10.6h-10.6zM1078.5 70.0h10.6v10.6h-10.6zM1288.5 70.0h10.6v10.6h-10.6zM1088.5 80.0h10.6v10.6h-10.6zM1098.5 90.1h10.6v10.6h-10.6zM838.5 120.1h10.6v10.6h-10.6zM1278.5 120.1h10.6v10.6h-10.6zM1278.5 130.1h10.6v10.6h-10.6zM848.5 160.2h10.6v10.6h-10.6zM1268.5 160.2h10.6v10.6h-10.6zM1138.5 190.2h10.6v10.6h-10.6zM1258.5 190.2h10.6v10.6h-10.6zM1148.5 260.3h10.6v10.6h-10.6zM968.5 270.4h10.6v10.6h-10.6zM1218.5 270.4h10.6v10.6h-10.6zM637.7 323.3h36.1v6.6h-36.1zM1335.7 322.9h36.8v6.6h-36.8z"/><path fill="#3c84c6" d="M199.1 100.1h10.6v10.6h-10.6zM519.4 100.1h10.6v10.6h-10.6zM139.0 320.5h10.6v10.6h-10.6zM579.5 320.5h10.6v10.6h-10.6z"/><path fill="#36a2d8" d="M279.2 100.1h10.6v10.6h-10.6zM439.3 100.1h10.6v10.6h-10.6zM189.1 110.1h10.6v10.6h-10.6zM529.4 110.1h10.6v10.6h-10.6zM189.1 210.3h10.6v10.6h-10.6zM259.1 210.3h10.6v10.6h-10.6zM459.3 210.3h10.6v10.6h-10.6zM529.4 210.3h10.6v10.6h-10.6zM199.1 310.4h10.6v10.6h-10.6zM519.4 310.4h10.6v10.6h-10.6zM1148.5 110.1h10.6v10.6h-10.6zM968.5 120.1h10.6v10.6h-10.6zM968.5 130.1h10.6v10.6h-10.6zM958.5 210.3h10.6v10.6h-10.6zM1228.5 210.3h10.6v10.6h-10.6zM918.5 270.4h10.6v10.6h-10.6zM928.5 290.4h10.6v10.6h-10.6z"/><path fill="#36c0ea" d="M289.2 100.1h10.6v10.6h-10.6zM429.3 100.1h10.6v10.6h-10.6zM179.1 110.1h10.6v10.6h-10.6zM539.4 110.1h10.6v10.6h-10.6zM179.1 120.1h10.6v10.6h-10.6zM539.4 120.1h10.6v10.6h-10.6zM1128.5 60.0h10.6v10.6h-10.6zM988.5 70.0h10.6v10.6h-10.6zM978.5 110.1h10.6v10.6h-10.6zM878.5 170.2h10.6v10.6h-10.6zM878.5 180.2h10.6v10.6h-10.6z"/><path fill="#72c0a8" d="M329.2 100.1h10.6v10.6h-10.6zM389.3 100.1h10.6v10.6h-10.6zM279.2 200.2h10.6v10.6h-10.6zM439.3 200.2h10.6v10.6h-10.6zM169.1 220.3h10.6v10.6h-10.6zM549.4 220.3h10.6v10.6h-10.6zM189.1 260.3h10.6v10.6h-10.6zM529.4 260.3h10.6v10.6h-10.6zM828.5 60.0h10.6v10.6h-10.6zM828.5 70.0h10.6v10.6h-10.6zM1288.5 80.0h10.6v10.6h-10.6zM838.5 130.1h10.6v10.6h-10.6zM858.5 190.2h10.6v10.6h-10.6zM968.5 280.4h10.6v10.6h-10.6z"/><path fill="#72c096" d="M339.2 100.1h10.6v10.6h-10.6zM379.3 100.1h10.6v10.6h-10.6zM169.1 310.4h10.6v10.6h-10.6zM549.4 310.4h10.6v10.6h-10.6zM1068.5 80.0h10.6v10.6h-10.6z"/><path fill="#78c090" d="M349.2 100.1h30.6v10.6h-30.6zM329.2 110.1h10.6v10.6h-10.6zM389.3 110.1h10.6v10.6h-10.6zM319.2 120.1h10.6v10.6h-10.6zM399.3 120.1h10.6v10.6h-10.6zM119.0 130.1h10.6v10.6h-10.6zM599.5 130.1h10.6v10.6h-10.6zM299.2 150.2h10.6v10.6h-10.6zM419.3 150.2h10.6v10.6h-10.6zM139.0 160.2h10.6v10.6h-10.6zM579.5 160.2h10.6v10.6h-10.6zM289.2 180.2h10.6v10.6h-10.6zM429.3 180.2h10.6v10.6h-10.6zM159.0 210.3h10.6v10.6h-10.6zM559.4 210.3h10.6v10.6h-10.6zM279.2 220.3h10.6v10.6h-10.6zM439.3 220.3h10.6v10.6h-10.6zM169.1 230.3h10.6v10.6h-10.6zM549.4 230.3h10.6v10.6h-10.6zM179.1 250.3h10.6v10.6h-10.6zM539.4 250.3h10.6v10.6h-10.6zM269.2 280.4h10.6v10.6h-10.6zM449.3 280.4h10.6v10.6h-10.6zM1038.5 90.1h10.6v10.6h-10.6zM1078.5 90.1h10.6v10.6h-10.6zM1008.5 120.1h10.6v10.6h-10.6zM1108.5 120.1h10.6v10.6h-10.6zM818.5 140.1h10.6v10.6h-10.6zM1118.5 140.1h10.6v10.6h-10.6zM1298.5 140.1h10.6v10.6h-10.6zM828.5 150.2h10.6v10.6h-10.6zM1288.5 150.2h10.6v10.6h-10.6zM1128.5 170.2h10.6v10.6h-10.6zM1278.5 170.2h10.6v10.6h-10.6zM1138.5 210.3h10.6v10.6h-10.6zM1258.5 210.3h10.6v10.6h-10.6zM888.5 260.3h10.6v10.6h-10.6zM1218.5 280.4h10.6v10.6h-10.6z"/><path fill="#3660ae" d="M229.1 110.1h20.6v10.6h-20.6zM479.4 110.1h20.6v10.6h-20.6zM219.1 120.1h10.6v10.6h-10.6zM499.4 120.1h10.6v10.6h-10.6zM249.1 130.1h10.6v10.6h-10.6zM469.4 130.1h10.6v10.6h-10.6zM249.1 140.1h10.6v10.6h-10.6zM469.4 140.1h10.6v10.6h-10.6zM249.1 150.2h10.6v10.6h-10.6zM469.4 150.2h10.6v10.6h-10.6zM249.1 160.2h10.6v10.6h-10.6zM469.4 160.2h10.6v10.6h-10.6zM209.1 220.3h10.6v10.6h-10.6zM509.4 220.3h10.6v10.6h-10.6zM219.1 240.3h10.6v10.6h-10.6zM239.1 240.3h10.6v10.6h-10.6zM479.4 240.3h10.6v10.6h-10.6zM499.4 240.3h10.6v10.6h-10.6zM229.1 250.3h10.6v10.6h-10.6zM489.4 250.3h10.6v10.6h-10.6zM219.1 310.4h10.6v10.6h-10.6zM239.1 310.4h10.6v10.6h-10.6zM479.4 310.4h10.6v10.6h-10.6zM499.4 310.4h10.6v10.6h-10.6zM199.1 320.5h10.6v10.6h-10.6zM339.2 320.5h50.7v10.6h-50.7zM519.4 320.5h10.6v10.6h-10.6zM918.5 120.1h30.6v10.6h-30.6zM1178.5 120.1h30.6v10.6h-30.6zM918.5 130.1h10.6v10.6h-10.6zM938.5 130.1h10.6v10.6h-10.6zM1178.5 130.1h10.6v10.6h-10.6zM1198.5 130.1h10.6v10.6h-10.6zM1208.5 150.2h10.6v10.6h-10.6zM948.5 160.2h10.6v10.6h-10.6zM948.5 170.2h10.6v10.6h-10.6zM1168.5 170.2h10.6v10.6h-10.6zM948.5 180.2h10.6v10.6h-10.6zM1208.5 220.3h10.6v10.6h-10.6zM938.5 240.3h10.6v10.6h-10.6zM1178.5 240.3h10.6v10.6h-10.6zM1198.5 240.3h10.6v10.6h-10.6zM928.5 250.3h10.6v10.6h-10.6zM1188.5 250.3h10.6v10.6h-10.6zM968.5 310.4h20.6v10.6h-20.6zM1138.5 310.4h20.6v10.6h-20.6zM878.5 320.5h10.6v10.6h-10.6zM1238.5 320.5h10.6v10.6h-10.6zM637.7 437.1h36.1v6.6h-36.1zM1335.7 436.5h36.8v6.6h-36.8z"/><path fill="#7ec684" d="M339.2 110.1h20.6v10.6h-20.6zM369.3 110.1h20.6v10.6h-20.6zM329.2 120.1h10.6v10.6h-10.6zM389.3 120.1h10.6v10.6h-10.6zM319.2 130.1h10.6v10.6h-10.6zM399.3 130.1h10.6v10.6h-10.6zM309.2 140.1h10.6v10.6h-10.6zM409.3 140.1h10.6v10.6h-10.6zM119.0 160.2h10.6v10.6h-10.6zM299.2 160.2h10.6v10.6h-10.6zM419.3 160.2h10.6v10.6h-10.6zM599.5 160.2h10.6v10.6h-10.6zM139.0 180.2h10.6v10.6h-10.6zM579.5 180.2h10.6v10.6h-10.6zM289.2 190.2h10.6v10.6h-10.6zM429.3 190.2h10.6v10.6h-10.6zM149.0 200.2h10.6v10.6h-10.6zM569.5 200.2h10.6v10.6h-10.6zM159.0 220.3h10.6v10.6h-10.6zM559.4 220.3h10.6v10.6h-10.6zM169.1 240.3h10.6v10.6h-10.6zM279.2 240.3h10.6v10.6h-10.6zM439.3 240.3h10.6v10.6h-10.6zM549.4 240.3h10.6v10.6h-10.6zM1038.5 100.1h10.6v10.6h-10.6zM1078.5 100.1h10.6v10.6h-10.6zM1008.5 130.1h10.6v10.6h-10.6zM1108.5 130.1h10.6v10.6h-10.6zM1118.5 150.2h10.6v10.6h-10.6zM818.5 160.2h10.6v10.6h-10.6zM1298.5 160.2h10.6v10.6h-10.6zM828.5 170.2h10.6v10.6h-10.6zM1288.5 170.2h10.6v10.6h-10.6zM838.5 180.2h10.6v10.6h-10.6zM1128.5 180.2h10.6v10.6h-10.6zM1278.5 180.2h10.6v10.6h-10.6zM1268.5 200.2h10.6v10.6h-10.6zM1138.5 220.3h10.6v10.6h-10.6zM868.5 230.3h10.6v10.6h-10.6zM978.5 230.3h10.6v10.6h-10.6zM637.7 299.4h36.1v6.6h-36.1zM1335.7 299.0h36.8v6.6h-36.8z"/><path fill="#84c67e" d="M359.2 110.1h10.6v10.6h-10.6zM119.0 170.2h20.6v10.6h-20.6zM589.5 170.2h20.6v10.6h-20.6zM279.2 250.3h10.6v10.6h-10.6zM439.3 250.3h10.6v10.6h-10.6zM199.1 300.4h10.6v10.6h-10.6zM519.4 300.4h10.6v10.6h-10.6zM159.0 310.4h10.6v10.6h-10.6zM559.4 310.4h10.6v10.6h-10.6zM1048.5 100.1h30.6v10.6h-30.6zM1028.5 110.1h10.6v10.6h-10.6zM1088.5 110.1h10.6v10.6h-10.6zM1018.5 120.1h10.6v10.6h-10.6zM1098.5 120.1h10.6v10.6h-10.6zM998.5 160.2h10.6v10.6h-10.6zM818.5 170.2h10.6v10.6h-10.6zM1298.5 170.2h10.6v10.6h-10.6zM828.5 180.2h10.6v10.6h-10.6zM1288.5 180.2h10.6v10.6h-10.6zM838.5 190.2h10.6v10.6h-10.6zM988.5 190.2h10.6v10.6h-10.6zM1278.5 190.2h10.6v10.6h-10.6zM858.5 220.3h10.6v10.6h-10.6zM1258.5 220.3h10.6v10.6h-10.6zM1138.5 230.3h10.6v10.6h-10.6zM978.5 240.3h10.6v10.6h-10.6zM878.5 250.3h10.6v10.6h-10.6zM898.5 290.4h10.6v10.6h-10.6zM1218.5 300.4h10.6v10.6h-10.6zM637.7 293.4h36.1v6.6h-36.1zM1335.7 293.0h36.8v6.6h-36.8z"/><path fill="#3c9cd2" d="M189.1 120.1h10.6v10.6h-10.6zM529.4 120.1h10.6v10.6h-10.6zM269.2 140.1h10.6v10.6h-10.6zM449.3 140.1h10.6v10.6h-10.6zM219.1 270.4h10.6v10.6h-10.6zM249.1 270.4h10.6v10.6h-10.6zM469.4 270.4h10.6v10.6h-10.6zM499.4 270.4h10.6v10.6h-10.6zM1228.5 60.0h10.6v10.6h-10.6zM888.5 70.0h10.6v10.6h-10.6zM1228.5 70.0h10.6v10.6h-10.6zM888.5 80.0h10.6v10.6h-10.6zM1148.5 100.1h10.6v10.6h-10.6zM968.5 110.1h10.6v10.6h-10.6zM888.5 200.2h10.6v10.6h-10.6zM908.5 250.3h10.6v10.6h-10.6zM968.5 290.4h10.6v10.6h-10.6zM1008.5 300.4h10.6v10.6h-10.6zM1108.5 300.4h10.6v10.6h-10.6zM1335.7 388.7h36.8v6.6h-36.8z"/><path fill="#3660a8" d="M229.1 120.1h20.6v10.6h-20.6zM479.4 120.1h20.6v10.6h-20.6zM219.1 130.1h10.6v10.6h-10.6zM499.4 130.1h10.6v10.6h-10.6zM209.1 150.2h10.6v10.6h-10.6zM509.4 150.2h10.6v10.6h-10.6zM239.1 230.3h10.6v10.6h-10.6zM479.4 230.3h10.6v10.6h-10.6zM329.2 320.5h10.6v10.6h-10.6zM389.3 320.5h10.6v10.6h-10.6zM119.0 330.5h30.6v10.6h-30.6zM579.5 330.5h30.6v10.6h-30.6zM928.5 130.1h10.6v10.6h-10.6zM1188.5 130.1h10.6v10.6h-10.6zM918.5 140.1h10.6v10.6h-10.6zM938.5 140.1h10.6v10.6h-10.6zM1178.5 140.1h10.6v10.6h-10.6zM1198.5 140.1h10.6v10.6h-10.6zM908.5 160.2h10.6v10.6h-10.6zM1208.5 160.2h10.6v10.6h-10.6zM908.5 210.3h10.6v10.6h-10.6zM938.5 230.3h10.6v10.6h-10.6zM1178.5 230.3h10.6v10.6h-10.6zM938.5 310.4h30.6v10.6h-30.6zM1158.5 310.4h30.6v10.6h-30.6zM888.5 320.5h10.6v10.6h-10.6zM1228.5 320.5h10.6v10.6h-10.6zM637.7 443.1h36.1v6.6h-36.1zM1335.7 442.5h36.8v6.6h-36.8z"/><path fill="#6cc0ae" d="M309.2 120.1h10.6v10.6h-10.6zM409.3 120.1h10.6v10.6h-10.6zM149.0 150.2h10.6v10.6h-10.6zM569.5 150.2h10.6v10.6h-10.6zM269.2 260.3h10.6v10.6h-10.6zM449.3 260.3h10.6v10.6h-10.6zM209.1 300.4h10.6v10.6h-10.6zM509.4 300.4h10.6v10.6h-10.6zM1048.5 60.0h30.6v10.6h-30.6zM1038.5 70.0h10.6v10.6h-10.6zM1028.5 80.0h10.6v10.6h-10.6zM1018.5 90.1h10.6v10.6h-10.6zM838.5 100.1h10.6v10.6h-10.6zM1108.5 100.1h10.6v10.6h-10.6zM1278.5 100.1h10.6v10.6h-10.6zM838.5 110.1h10.6v10.6h-10.6zM1278.5 110.1h10.6v10.6h-10.6zM998.5 120.1h10.6v10.6h-10.6zM1118.5 120.1h10.6v10.6h-10.6zM848.5 150.2h10.6v10.6h-10.6zM988.5 150.2h10.6v10.6h-10.6zM1128.5 150.2h10.6v10.6h-10.6zM1268.5 150.2h10.6v10.6h-10.6zM978.5 190.2h10.6v10.6h-10.6zM888.5 250.3h10.6v10.6h-10.6zM1148.5 250.3h10.6v10.6h-10.6zM968.5 260.3h10.6v10.6h-10.6z"/><path fill="#8ac678" d="M339.2 120.1h10.6v10.6h-10.6zM379.3 120.1h10.6v10.6h-10.6zM309.2 150.2h10.6v10.6h-10.6zM409.3 150.2h10.6v10.6h-10.6zM299.2 170.2h10.6v10.6h-10.6zM419.3 170.2h10.6v10.6h-10.6zM129.0 180.2h10.6v10.6h-10.6zM589.5 180.2h10.6v10.6h-10.6zM289.2 200.2h10.6v10.6h-10.6zM429.3 200.2h10.6v10.6h-10.6zM149.0 210.3h10.6v10.6h-10.6zM569.5 210.3h10.6v10.6h-10.6zM1008.5 140.1h10.6v10.6h-10.6zM1118.5 160.2h10.6v10.6h-10.6zM818.5 180.2h10.6v10.6h-10.6zM1298.5 180.2h10.6v10.6h-10.6zM1128.5 190.2h10.6v10.6h-10.6zM1268.5 210.3h10.6v10.6h-10.6zM1138.5 240.3h10.6v10.6h-10.6zM978.5 250.3h10.6v10.6h-10.6zM1228.5 270.4h10.6v10.6h-10.6z"/><path fill="#90c672" d="M349.2 120.1h10.6v10.6h-10.6zM369.3 120.1h10.6v10.6h-10.6zM329.2 130.1h10.6v10.6h-10.6zM389.3 130.1h10.6v10.6h-10.6zM119.0 180.2h10.6v10.6h-10.6zM599.5 180.2h10.6v10.6h-10.6zM279.2 260.3h10.6v10.6h-10.6zM439.3 260.3h10.6v10.6h-10.6zM189.1 280.4h10.6v10.6h-10.6zM529.4 280.4h10.6v10.6h-10.6zM1288.5 190.2h10.6v10.6h-10.6zM988.5 200.2h10.6v10.6h-10.6zM1278.5 200.2h10.6v10.6h-10.6zM868.5 240.3h10.6v10.6h-10.6zM1248.5 240.3h10.6v10.6h-10.6zM1138.5 250.3h10.6v10.6h-10.6zM978.5 260.3h10.6v10.6h-10.6zM888.5 270.4h10.6v10.6h-10.6z"/><path fill="#90c66c" d="M359.2 120.1h10.6v10.6h-10.6zM319.2 140.1h10.6v10.6h-10.6zM399.3 140.1h10.6v10.6h-10.6zM169.1 250.3h10.6v10.6h-10.6zM549.4 250.3h10.6v10.6h-10.6zM1028.5 120.1h10.6v10.6h-10.6zM1018.5 130.1h10.6v10.6h-10.6zM998.5 170.2h10.6v10.6h-10.6zM828.5 190.2h10.6v10.6h-10.6zM838.5 200.2h10.6v10.6h-10.6z"/><path fill="#54c6de" d="M169.1 130.1h10.6v10.6h-10.6zM549.4 130.1h10.6v10.6h-10.6zM169.1 140.1h10.6v10.6h-10.6zM549.4 140.1h10.6v10.6h-10.6zM169.1 150.2h10.6v10.6h-10.6zM549.4 150.2h10.6v10.6h-10.6zM169.1 160.2h10.6v10.6h-10.6zM549.4 160.2h10.6v10.6h-10.6zM998.5 70.0h10.6v10.6h-10.6zM988.5 100.1h10.6v10.6h-10.6zM868.5 120.1h10.6v10.6h-10.6zM868.5 130.1h10.6v10.6h-10.6zM1138.5 140.1h10.6v10.6h-10.6zM1248.5 140.1h10.6v10.6h-10.6zM1238.5 210.3h10.6v10.6h-10.6z"/><path fill="#3c96d2" d="M189.1 130.1h10.6v10.6h-10.6zM529.4 130.1h10.6v10.6h-10.6zM229.1 280.4h10.6v10.6h-10.6zM489.4 280.4h10.6v10.6h-10.6zM1228.5 80.0h10.6v10.6h-10.6zM888.5 90.1h10.6v10.6h-10.6zM1148.5 90.1h10.6v10.6h-10.6zM888.5 100.1h10.6v10.6h-10.6zM968.5 100.1h10.6v10.6h-10.6zM888.5 110.1h10.6v10.6h-10.6zM888.5 120.1h10.6v10.6h-10.6zM888.5 130.1h10.6v10.6h-10.6zM888.5 140.1h10.6v10.6h-10.6zM958.5 200.2h10.6v10.6h-10.6zM948.5 280.4h10.6v10.6h-10.6zM637.7 389.2h36.1v6.6h-36.1z"/><path fill="#365aa8" d="M229.1 130.1h20.6v10.6h-20.6zM479.4 130.1h20.6v10.6h-20.6zM219.1 140.1h30.6v10.6h-30.6zM479.4 140.1h30.6v10.6h-30.6zM219.1 150.2h10.6v10.6h-10.6zM239.1 150.2h10.6v10.6h-10.6zM479.4 150.2h10.6v10.6h-10.6zM499.4 150.2h10.6v10.6h-10.6zM209.1 160.2h10.6v10.6h-10.6zM509.4 160.2h10.6v10.6h-10.6zM209.1 170.2h10.6v10.6h-10.6zM509.4 170.2h10.6v10.6h-10.6zM209.1 200.2h10.6v10.6h-10.6zM509.4 200.2h10.6v10.6h-10.6zM209.1 210.3h10.6v10.6h-10.6zM239.1 210.3h10.6v10.6h-10.6zM479.4 210.3h10.6v10.6h-10.6zM509.4 210.3h10.6v10.6h-10.6zM239.1 220.3h10.6v10.6h-10.6zM479.4 220.3h10.6v10.6h-10.6zM219.1 230.3h10.6v10.6h-10.6zM499.4 230.3h10.6v10.6h-10.6zM229.1 240.3h10.6v10.6h-10.6zM489.4 240.3h10.6v10.6h-10.6zM229.1 310.4h10.6v10.6h-10.6zM489.4 310.4h10.6v10.6h-10.6zM209.1 320.5h20.6v10.6h-20.6zM299.2 320.5h30.6v10.6h-30.6zM399.3 320.5h30.6v10.6h-30.6zM499.4 320.5h20.6v10.6h-20.6zM149.0 330.5h30.6v10.6h-30.6zM549.4 330.5h30.6v10.6h-30.6zM928.5 140.1h10.6v10.6h-10.6zM1188.5 140.1h10.6v10.6h-10.6zM918.5 150.2h30.6v10.6h-30.6zM1178.5 150.2h30.6v10.6h-30.6zM1178.5 160.2h10.6v10.6h-10.6zM908.5 170.2h10.6v10.6h-10.6zM1208.5 170.2h10.6v10.6h-10.6zM908.5 180.2h10.6v10.6h-10.6zM1208.5 180.2h10.6v10.6h-10.6zM908.5 190.2h10.6v10.6h-10.6zM1208.5 190.2h10.6v10.6h-10.6zM908.5 200.2h10.6v10.6h-10.6zM1208.5 200.2h10.6v10.6h-10.6zM938.5 210.3h10.6v10.6h-10.6zM1178.5 210.3h10.6v10.6h-10.6zM1208.5 210.3h10.6v10.6h-10.6zM938.5 220.3h10.6v10.6h-10.6zM1178.5 220.3h10.6v10.6h-10.6zM918.5 230.3h20.6v10.6h-20.6zM1188.5 230.3h20.6v10.6h-20.6zM928.5 240.3h10.6v10.6h-10.6zM1188.5 240.3h10.6v10.6h-10.6zM928.5 310.4h10.6v10.6h-10.6zM898.5 320.5h20.6v10.6h-20.6zM1018.5 320.5h90.6v10.6h-90.6zM1208.5 320.5h20.6v10.6h-20.6zM818.5 330.5h40.6v10.6h-40.6zM1268.5 330.5h40.6v10.6h-40.6zM637.7 449.1h36.1v6.6h-36.1zM637.7 455.1h36.1v6.6h-36.1zM1335.7 448.4h36.8v6.6h-36.8zM1335.7 454.4h36.8v6.6h-36.8zM1335.7 460.4h36.8v6.6h-36.8z"/><path fill="#36baea" d="M279.2 130.1h10.6v10.6h-10.6zM439.3 130.1h10.6v10.6h-10.6zM179.1 190.2h10.6v10.6h-10.6zM539.4 190.2h10.6v10.6h-10.6zM219.1 280.4h10.6v10.6h-10.6zM499.4 280.4h10.6v10.6h-10.6zM1238.5 180.2h10.6v10.6h-10.6z"/><path fill="#a2cc60" d="M339.2 130.1h10.6v10.6h-10.6zM379.3 130.1h10.6v10.6h-10.6zM119.0 190.2h10.6v10.6h-10.6zM599.5 190.2h10.6v10.6h-10.6zM139.0 210.3h10.6v10.6h-10.6zM579.5 210.3h10.6v10.6h-10.6zM289.2 220.3h10.6v10.6h-10.6zM429.3 220.3h10.6v10.6h-10.6zM159.0 240.3h10.6v10.6h-10.6zM559.4 240.3h10.6v10.6h-10.6zM179.1 270.4h10.6v10.6h-10.6zM539.4 270.4h10.6v10.6h-10.6zM1038.5 120.1h10.6v10.6h-10.6zM1078.5 120.1h10.6v10.6h-10.6zM998.5 180.2h10.6v10.6h-10.6zM828.5 200.2h10.6v10.6h-10.6zM1288.5 200.2h10.6v10.6h-10.6zM838.5 210.3h10.6v10.6h-10.6zM1128.5 210.3h10.6v10.6h-10.6zM1278.5 210.3h10.6v10.6h-10.6zM848.5 220.3h10.6v10.6h-10.6zM878.5 260.3h10.6v10.6h-10.6z"/><path fill="#a8d25a" d="M349.2 130.1h10.6v10.6h-10.6zM369.3 130.1h10.6v10.6h-10.6zM329.2 140.1h10.6v10.6h-10.6zM389.3 140.1h10.6v10.6h-10.6zM319.2 150.2h10.6v10.6h-10.6zM399.3 150.2h10.6v10.6h-10.6zM189.1 290.4h10.6v10.6h-10.6zM529.4 290.4h10.6v10.6h-10.6zM1028.5 130.1h10.6v10.6h-10.6zM1098.5 140.1h10.6v10.6h-10.6zM1008.5 160.2h10.6v10.6h-10.6zM1118.5 180.2h10.6v10.6h-10.6zM818.5 200.2h10.6v10.6h-10.6zM1298.5 200.2h10.6v10.6h-10.6zM1248.5 250.3h10.6v10.6h-10.6z"/><path fill="#aed25a" d="M359.2 130.1h10.6v10.6h-10.6zM289.2 230.3h10.6v10.6h-10.6zM429.3 230.3h10.6v10.6h-10.6zM1048.5 120.1h10.6v10.6h-10.6zM1068.5 120.1h10.6v10.6h-10.6zM1088.5 130.1h10.6v10.6h-10.6zM988.5 220.3h10.6v10.6h-10.6zM888.5 280.4h10.6v10.6h-10.6z"/><path fill="#78c08a" d="M119.0 140.1h10.6v10.6h-10.6zM599.5 140.1h10.6v10.6h-10.6zM129.0 150.2h10.6v10.6h-10.6zM589.5 150.2h10.6v10.6h-10.6zM1048.5 90.1h10.6v10.6h-10.6zM1068.5 90.1h10.6v10.6h-10.6zM1028.5 100.1h10.6v10.6h-10.6zM1018.5 110.1h10.6v10.6h-10.6zM818.5 150.2h10.6v10.6h-10.6zM1298.5 150.2h10.6v10.6h-10.6zM1288.5 160.2h10.6v10.6h-10.6zM838.5 170.2h10.6v10.6h-10.6zM1268.5 190.2h10.6v10.6h-10.6zM858.5 210.3h10.6v10.6h-10.6zM637.7 305.4h36.1v6.6h-36.1zM1335.7 304.9h36.8v6.6h-36.8z"/><path fill="#30baea" d="M179.1 140.1h10.6v10.6h-10.6zM539.4 140.1h10.6v10.6h-10.6zM1238.5 80.0h10.6v10.6h-10.6zM1238.5 90.1h10.6v10.6h-10.6zM978.5 100.1h10.6v10.6h-10.6zM1238.5 100.1h10.6v10.6h-10.6zM1238.5 110.1h10.6v10.6h-10.6zM878.5 120.1h10.6v10.6h-10.6zM1238.5 120.1h10.6v10.6h-10.6zM878.5 130.1h10.6v10.6h-10.6zM1238.5 130.1h10.6v10.6h-10.6zM1238.5 140.1h10.6v10.6h-10.6zM1238.5 150.2h10.6v10.6h-10.6zM1238.5 160.2h10.6v10.6h-10.6zM1238.5 170.2h10.6v10.6h-10.6z"/><path fill="#bad84e" d="M339.2 140.1h10.6v10.6h-10.6zM379.3 140.1h10.6v10.6h-10.6zM159.0 250.3h10.6v10.6h-10.6zM559.4 250.3h10.6v10.6h-10.6zM1038.5 130.1h10.6v10.6h-10.6zM1018.5 150.2h10.6v10.6h-10.6zM1118.5 190.2h10.6v10.6h-10.6zM838.5 220.3h10.6v10.6h-10.6zM1278.5 220.3h10.6v10.6h-10.6zM1268.5 230.3h10.6v10.6h-10.6zM858.5 240.3h10.6v10.6h-10.6zM637.7 263.4h36.1v6.6h-36.1z"/><path fill="#c6d848" d="M349.2 140.1h10.6v10.6h-10.6zM369.3 140.1h10.6v10.6h-10.6zM329.2 150.2h10.6v10.6h-10.6zM389.3 150.2h10.6v10.6h-10.6zM289.2 250.3h10.6v10.6h-10.6zM429.3 250.3h10.6v10.6h-10.6zM179.1 280.4h10.6v10.6h-10.6zM539.4 280.4h10.6v10.6h-10.6zM1048.5 130.1h10.6v10.6h-10.6zM1068.5 130.1h10.6v10.6h-10.6zM1088.5 140.1h10.6v10.6h-10.6zM998.5 200.2h10.6v10.6h-10.6zM637.7 257.5h36.1v6.6h-36.1z"/><path fill="#ccde48" d="M359.2 140.1h10.6v10.6h-10.6zM299.2 210.3h10.6v10.6h-10.6zM419.3 210.3h10.6v10.6h-10.6zM139.0 230.3h10.6v10.6h-10.6zM579.5 230.3h10.6v10.6h-10.6zM1058.5 130.1h10.6v10.6h-10.6zM1118.5 200.2h10.6v10.6h-10.6zM1288.5 220.3h10.6v10.6h-10.6zM988.5 250.3h10.6v10.6h-10.6zM1248.5 260.3h10.6v10.6h-10.6zM637.7 251.5h36.1v6.6h-36.1zM1335.7 251.1h36.8v6.6h-36.8z"/><path fill="#7ec68a" d="M119.0 150.2h10.6v10.6h-10.6zM599.5 150.2h10.6v10.6h-10.6zM129.0 160.2h10.6v10.6h-10.6zM589.5 160.2h10.6v10.6h-10.6zM139.0 170.2h10.6v10.6h-10.6zM579.5 170.2h10.6v10.6h-10.6zM149.0 190.2h10.6v10.6h-10.6zM569.5 190.2h10.6v10.6h-10.6zM279.2 230.3h10.6v10.6h-10.6zM439.3 230.3h10.6v10.6h-10.6zM189.1 270.4h10.6v10.6h-10.6zM529.4 270.4h10.6v10.6h-10.6zM199.1 290.4h10.6v10.6h-10.6zM519.4 290.4h10.6v10.6h-10.6zM1058.5 90.1h10.6v10.6h-10.6zM1088.5 100.1h10.6v10.6h-10.6zM1098.5 110.1h10.6v10.6h-10.6zM998.5 150.2h10.6v10.6h-10.6zM828.5 160.2h10.6v10.6h-10.6zM988.5 180.2h10.6v10.6h-10.6zM848.5 190.2h10.6v10.6h-10.6zM978.5 220.3h10.6v10.6h-10.6zM1248.5 230.3h10.6v10.6h-10.6zM898.5 280.4h10.6v10.6h-10.6z"/><path fill="#72c09c" d="M139.0 150.2h10.6v10.6h-10.6zM579.5 150.2h10.6v10.6h-10.6zM289.2 170.2h10.6v10.6h-10.6zM429.3 170.2h10.6v10.6h-10.6zM159.0 200.2h10.6v10.6h-10.6zM559.4 200.2h10.6v10.6h-10.6zM279.2 210.3h10.6v10.6h-10.6zM439.3 210.3h10.6v10.6h-10.6zM199.1 280.4h10.6v10.6h-10.6zM519.4 280.4h10.6v10.6h-10.6zM1048.5 80.0h10.6v10.6h-10.6zM1028.5 90.1h10.6v10.6h-10.6zM1088.5 90.1h10.6v10.6h-10.6zM1018.5 100.1h10.6v10.6h-10.6zM1098.5 100.1h10.6v10.6h-10.6zM1108.5 110.1h10.6v10.6h-10.6zM828.5 120.1h10.6v10.6h-10.6zM1118.5 130.1h10.6v10.6h-10.6zM1288.5 130.1h10.6v10.6h-10.6zM838.5 150.2h10.6v10.6h-10.6zM1278.5 150.2h10.6v10.6h-10.6zM858.5 200.2h10.6v10.6h-10.6zM1138.5 200.2h10.6v10.6h-10.6zM1258.5 200.2h10.6v10.6h-10.6zM868.5 220.3h10.6v10.6h-10.6zM1238.5 240.3h10.6v10.6h-10.6zM1335.7 316.9h36.8v6.6h-36.8z"/><path fill="#30b4ea" d="M179.1 150.2h10.6v10.6h-10.6zM539.4 150.2h10.6v10.6h-10.6zM179.1 160.2h10.6v10.6h-10.6zM539.4 160.2h10.6v10.6h-10.6zM229.1 290.4h10.6v10.6h-10.6zM489.4 290.4h10.6v10.6h-10.6zM1138.5 80.0h10.6v10.6h-10.6zM978.5 90.1h10.6v10.6h-10.6z"/><path fill="#3654a8" d="M229.1 150.2h10.6v10.6h-10.6zM489.4 150.2h10.6v10.6h-10.6zM239.1 160.2h10.6v10.6h-10.6zM479.4 160.2h10.6v10.6h-10.6zM239.1 170.2h10.6v10.6h-10.6zM479.4 170.2h10.6v10.6h-10.6zM209.1 180.2h10.6v10.6h-10.6zM239.1 180.2h10.6v10.6h-10.6zM479.4 180.2h10.6v10.6h-10.6zM509.4 180.2h10.6v10.6h-10.6zM209.1 190.2h10.6v10.6h-10.6zM239.1 190.2h10.6v10.6h-10.6zM479.4 190.2h10.6v10.6h-10.6zM509.4 190.2h10.6v10.6h-10.6zM239.1 200.2h10.6v10.6h-10.6zM479.4 200.2h10.6v10.6h-10.6zM229.1 230.3h10.6v10.6h-10.6zM489.4 230.3h10.6v10.6h-10.6zM229.1 320.5h10.6v10.6h-10.6zM289.2 320.5h10.6v10.6h-10.6zM429.3 320.5h10.6v10.6h-10.6zM489.4 320.5h10.6v10.6h-10.6zM179.1 330.5h20.6v10.6h-20.6zM529.4 330.5h20.6v10.6h-20.6zM918.5 160.2h10.6v10.6h-10.6zM938.5 160.2h10.6v10.6h-10.6zM1198.5 160.2h10.6v10.6h-10.6zM1178.5 170.2h10.6v10.6h-10.6zM938.5 200.2h10.6v10.6h-10.6zM1178.5 200.2h10.6v10.6h-10.6zM918.5 220.3h10.6v10.6h-10.6zM1198.5 220.3h10.6v10.6h-10.6zM918.5 320.5h10.6v10.6h-10.6zM1008.5 320.5h10.6v10.6h-10.6zM1108.5 320.5h10.6v10.6h-10.6zM858.5 330.5h20.6v10.6h-20.6zM1248.5 330.5h20.6v10.6h-20.6zM637.7 461.1h36.1v6.6h-36.1z"/><path fill="#d8de42" d="M339.2 150.2h10.6v10.6h-10.6zM379.3 150.2h10.6v10.6h-10.6zM329.2 160.2h10.6v10.6h-10.6zM389.3 160.2h10.6v10.6h-10.6zM299.2 220.3h10.6v10.6h-10.6zM419.3 220.3h10.6v10.6h-10.6zM159.0 260.3h10.6v10.6h-10.6zM289.2 260.3h10.6v10.6h-10.6zM429.3 260.3h10.6v10.6h-10.6zM559.4 260.3h10.6v10.6h-10.6zM1038.5 140.1h10.6v10.6h-10.6zM1078.5 140.1h10.6v10.6h-10.6zM1028.5 150.2h10.6v10.6h-10.6zM1098.5 160.2h10.6v10.6h-10.6zM1108.5 180.2h10.6v10.6h-10.6zM998.5 210.3h10.6v10.6h-10.6zM818.5 220.3h10.6v10.6h-10.6zM1298.5 220.3h10.6v10.6h-10.6zM838.5 230.3h10.6v10.6h-10.6zM1278.5 230.3h10.6v10.6h-10.6zM1268.5 240.3h10.6v10.6h-10.6zM858.5 250.3h10.6v10.6h-10.6zM1258.5 250.3h10.6v10.6h-10.6zM988.5 260.3h10.6v10.6h-10.6zM637.7 245.5h36.1v6.6h-36.1zM1335.7 245.2h36.8v6.6h-36.8z"/><path fill="#dee442" d="M349.2 150.2h10.6v10.6h-10.6zM369.3 150.2h10.6v10.6h-10.6zM129.0 230.3h10.6v10.6h-10.6zM589.5 230.3h10.6v10.6h-10.6zM139.0 240.3h10.6v10.6h-10.6zM579.5 240.3h10.6v10.6h-10.6zM179.1 290.4h10.6v10.6h-10.6zM539.4 290.4h10.6v10.6h-10.6zM1048.5 140.1h10.6v10.6h-10.6zM1068.5 140.1h10.6v10.6h-10.6zM1088.5 150.2h10.6v10.6h-10.6zM848.5 240.3h10.6v10.6h-10.6zM1128.5 260.3h10.6v10.6h-10.6zM1238.5 280.4h10.6v10.6h-10.6z"/><path fill="#e4e43c" d="M359.2 150.2h10.6v10.6h-10.6zM299.2 230.3h10.6v10.6h-10.6zM419.3 230.3h10.6v10.6h-10.6zM289.2 270.4h10.6v10.6h-10.6zM429.3 270.4h10.6v10.6h-10.6zM1058.5 140.1h10.6v10.6h-10.6zM1018.5 170.2h10.6v10.6h-10.6zM1098.5 170.2h10.6v10.6h-10.6zM1008.5 190.2h10.6v10.6h-10.6zM1108.5 190.2h10.6v10.6h-10.6zM998.5 220.3h10.6v10.6h-10.6zM1288.5 230.3h10.6v10.6h-10.6zM878.5 280.4h10.6v10.6h-10.6zM637.7 239.5h36.1v6.6h-36.1zM1335.7 239.2h36.8v6.6h-36.8z"/><path fill="#3054a2" d="M219.1 160.2h10.6v10.6h-10.6zM499.4 160.2h10.6v10.6h-10.6zM229.1 220.3h10.6v10.6h-10.6zM489.4 220.3h10.6v10.6h-10.6zM239.1 320.5h40.6v10.6h-40.6zM449.3 320.5h40.6v10.6h-40.6zM199.1 330.5h10.6v10.6h-10.6zM329.2 330.5h70.7v10.6h-70.7zM519.4 330.5h10.6v10.6h-10.6zM119.0 340.5h40.6v10.6h-40.6zM569.5 340.5h40.6v10.6h-40.6zM928.5 160.2h10.6v10.6h-10.6zM1188.5 160.2h10.6v10.6h-10.6zM938.5 180.2h10.6v10.6h-10.6zM1178.5 180.2h10.6v10.6h-10.6zM938.5 190.2h10.6v10.6h-10.6zM1178.5 190.2h10.6v10.6h-10.6zM928.5 220.3h10.6v10.6h-10.6zM1188.5 220.3h10.6v10.6h-10.6zM928.5 320.5h10.6v10.6h-10.6zM988.5 320.5h10.6v10.6h-10.6zM1128.5 320.5h10.6v10.6h-10.6zM1188.5 320.5h10.6v10.6h-10.6zM888.5 330.5h10.6v10.6h-10.6zM1228.5 330.5h20.6v10.6h-20.6zM637.7 473.1h36.1v6.6h-36.1zM1335.7 472.4h36.8v6.6h-36.8z"/><path fill="#304ea2" d="M229.1 160.2h10.6v10.6h-10.6zM489.4 160.2h10.6v10.6h-10.6zM219.1 170.2h10.6v10.6h-10.6zM499.4 170.2h10.6v10.6h-10.6zM219.1 210.3h10.6v10.6h-10.6zM499.4 210.3h10.6v10.6h-10.6zM209.1 330.5h20.6v10.6h-20.6zM299.2 330.5h30.6v10.6h-30.6zM399.3 330.5h30.6v10.6h-30.6zM499.4 330.5h20.6v10.6h-20.6zM159.0 340.5h30.6v10.6h-30.6zM539.4 340.5h30.6v10.6h-30.6zM918.5 170.2h10.6v10.6h-10.6zM1198.5 170.2h10.6v10.6h-10.6zM918.5 210.3h20.6v10.6h-20.6zM1188.5 210.3h20.6v10.6h-20.6zM938.5 320.5h50.6v10.6h-50.6zM1138.5 320.5h50.6v10.6h-50.6zM898.5 330.5h20.6v10.6h-20.6zM1018.5 330.5h90.6v10.6h-90.6zM1208.5 330.5h20.6v10.6h-20.6zM818.5 340.5h60.6v10.6h-60.6zM1248.5 340.5h60.6v10.6h-60.6zM637.7 479.1h36.1v6.6h-36.1zM1335.7 478.3h36.8v6.6h-36.8z"/><path fill="#36aee4" d="M269.2 160.2h10.6v10.6h-10.6zM449.3 160.2h10.6v10.6h-10.6zM1148.5 150.2h10.6v10.6h-10.6zM968.5 160.2h10.6v10.6h-10.6z"/><path fill="#9ccc66" d="M309.2 160.2h10.6v10.6h-10.6zM409.3 160.2h10.6v10.6h-10.6zM149.0 220.3h10.6v10.6h-10.6zM569.5 220.3h10.6v10.6h-10.6zM279.2 270.4h10.6v10.6h-10.6zM439.3 270.4h10.6v10.6h-10.6zM1108.5 150.2h10.6v10.6h-10.6zM988.5 210.3h10.6v10.6h-10.6zM858.5 230.3h10.6v10.6h-10.6zM1238.5 260.3h10.6v10.6h-10.6zM1138.5 270.4h10.6v10.6h-10.6zM978.5 280.4h10.6v10.6h-10.6z"/><path fill="#c0d84e" d="M319.2 160.2h10.6v10.6h-10.6zM399.3 160.2h10.6v10.6h-10.6zM309.2 180.2h10.6v10.6h-10.6zM409.3 180.2h10.6v10.6h-10.6zM119.0 210.3h10.6v10.6h-10.6zM599.5 210.3h10.6v10.6h-10.6zM1078.5 130.1h10.6v10.6h-10.6zM1028.5 140.1h10.6v10.6h-10.6zM1098.5 150.2h10.6v10.6h-10.6zM1008.5 170.2h10.6v10.6h-10.6zM818.5 210.3h10.6v10.6h-10.6zM1298.5 210.3h10.6v10.6h-10.6zM848.5 230.3h10.6v10.6h-10.6zM1128.5 230.3h10.6v10.6h-10.6zM988.5 240.3h10.6v10.6h-10.6zM1238.5 270.4h10.6v10.6h-10.6zM888.5 290.4h10.6v10.6h-10.6zM1228.5 300.4h10.6v10.6h-10.6z"/><path fill="#eae43c" d="M339.2 160.2h10.6v10.6h-10.6zM379.3 160.2h10.6v10.6h-10.6zM329.2 170.2h10.6v10.6h-10.6zM389.3 170.2h10.6v10.6h-10.6zM129.0 240.3h10.6v10.6h-10.6zM589.5 240.3h10.6v10.6h-10.6zM179.1 300.4h10.6v10.6h-10.6zM539.4 300.4h10.6v10.6h-10.6zM1038.5 150.2h10.6v10.6h-10.6zM1078.5 150.2h10.6v10.6h-10.6zM1028.5 160.2h10.6v10.6h-10.6zM1088.5 160.2h10.6v10.6h-10.6zM1118.5 220.3h10.6v10.6h-10.6zM828.5 230.3h10.6v10.6h-10.6zM1298.5 230.3h10.6v10.6h-10.6zM637.7 233.5h36.1v6.6h-36.1zM1335.7 233.2h36.8v6.6h-36.8z"/><path fill="#f0e436" d="M349.2 160.2h30.6v10.6h-30.6zM319.2 190.2h10.6v10.6h-10.6zM399.3 190.2h10.6v10.6h-10.6zM309.2 210.3h10.6v10.6h-10.6zM409.3 210.3h10.6v10.6h-10.6zM119.0 240.3h10.6v10.6h-10.6zM599.5 240.3h10.6v10.6h-10.6zM139.0 250.3h10.6v10.6h-10.6zM579.5 250.3h10.6v10.6h-10.6zM149.0 260.3h10.6v10.6h-10.6zM569.5 260.3h10.6v10.6h-10.6zM169.1 280.4h10.6v10.6h-10.6zM549.4 280.4h10.6v10.6h-10.6zM1048.5 150.2h10.6v10.6h-10.6zM1068.5 150.2h10.6v10.6h-10.6zM1008.5 200.2h10.6v10.6h-10.6zM838.5 240.3h10.6v10.6h-10.6zM1278.5 240.3h10.6v10.6h-10.6zM1268.5 250.3h10.6v10.6h-10.6zM1238.5 290.4h10.6v10.6h-10.6zM637.7 227.5h36.1v6.6h-36.1zM1335.7 227.2h36.8v6.6h-36.8z"/><path fill="#30489c" d="M229.1 170.2h10.6v10.6h-10.6zM489.4 170.2h10.6v10.6h-10.6zM229.1 210.3h10.6v10.6h-10.6zM489.4 210.3h10.6v10.6h-10.6zM189.1 340.5h10.6v10.6h-10.6zM529.4 340.5h10.6v10.6h-10.6zM928.5 170.2h10.6v10.6h-10.6zM1188.5 170.2h10.6v10.6h-10.6zM918.5 180.2h10.6v10.6h-10.6zM918.5 200.2h10.6v10.6h-10.6zM1008.5 330.5h10.6v10.6h-10.6zM878.5 340.5h10.6v10.6h-10.6zM1238.5 340.5h10.6v10.6h-10.6zM637.7 485.1h36.1v6.6h-36.1zM1335.7 484.3h36.8v6.6h-36.8z"/><path fill="#36bae4" d="M269.2 170.2h10.6v10.6h-10.6zM449.3 170.2h10.6v10.6h-10.6zM179.1 180.2h10.6v10.6h-10.6zM539.4 180.2h10.6v10.6h-10.6zM968.5 170.2h10.6v10.6h-10.6zM888.5 220.3h10.6v10.6h-10.6zM1198.5 280.4h10.6v10.6h-10.6z"/><path fill="#aed254" d="M309.2 170.2h10.6v10.6h-10.6zM409.3 170.2h10.6v10.6h-10.6zM119.0 200.2h10.6v10.6h-10.6zM599.5 200.2h10.6v10.6h-10.6zM149.0 230.3h10.6v10.6h-10.6zM569.5 230.3h10.6v10.6h-10.6zM1058.5 120.1h10.6v10.6h-10.6zM1108.5 160.2h10.6v10.6h-10.6zM868.5 250.3h10.6v10.6h-10.6zM637.7 269.4h36.1v6.6h-36.1zM1335.7 269.1h36.8v6.6h-36.8z"/><path fill="#d2de48" d="M319.2 170.2h10.6v10.6h-10.6zM399.3 170.2h10.6v10.6h-10.6zM309.2 190.2h10.6v10.6h-10.6zM409.3 190.2h10.6v10.6h-10.6zM119.0 220.3h10.6v10.6h-10.6zM599.5 220.3h10.6v10.6h-10.6zM169.1 270.4h10.6v10.6h-10.6zM549.4 270.4h10.6v10.6h-10.6zM1018.5 160.2h10.6v10.6h-10.6zM1008.5 180.2h10.6v10.6h-10.6zM828.5 220.3h10.6v10.6h-10.6zM868.5 260.3h10.6v10.6h-10.6z"/><path fill="#f6de30" d="M339.2 170.2h10.6v10.6h-10.6zM379.3 170.2h10.6v10.6h-10.6zM329.2 180.2h10.6v10.6h-10.6zM389.3 180.2h10.6v10.6h-10.6zM1098.5 180.2h10.6v10.6h-10.6zM848.5 250.3h10.6v10.6h-10.6z"/><path fill="#fcd224" d="M349.2 170.2h10.6v10.6h-10.6zM369.3 170.2h10.6v10.6h-10.6z"/><path fill="#fccc24" d="M359.2 170.2h10.6v10.6h-10.6zM119.0 250.3h10.6v10.6h-10.6zM599.5 250.3h10.6v10.6h-10.6zM637.7 215.5h36.1v6.6h-36.1zM1335.7 215.3h36.8v6.6h-36.8z"/><path fill="#2a4296" d="M219.1 180.2h20.6v10.6h-20.6zM489.4 180.2h20.6v10.6h-20.6zM219.1 200.2h20.6v10.6h-20.6zM489.4 200.2h20.6v10.6h-20.6zM249.1 330.5h30.6v10.6h-30.6zM449.3 330.5h30.6v10.6h-30.6zM219.1 340.5h10.6v10.6h-10.6zM289.2 340.5h20.6v10.6h-20.6zM419.3 340.5h20.6v10.6h-20.6zM499.4 340.5h10.6v10.6h-10.6zM189.1 350.5h20.6v10.6h-20.6zM349.2 350.5h30.6v10.6h-30.6zM519.4 350.5h20.6v10.6h-20.6zM119.0 360.5h30.6v10.6h-30.6zM579.5 360.5h30.6v10.6h-30.6zM1198.5 190.2h10.6v10.6h-10.6zM928.5 200.2h10.6v10.6h-10.6zM1188.5 200.2h10.6v10.6h-10.6zM938.5 330.5h20.6v10.6h-20.6zM968.5 330.5h20.6v10.6h-20.6zM1138.5 330.5h20.6v10.6h-20.6zM1168.5 330.5h20.6v10.6h-20.6zM908.5 340.5h20.6v10.6h-20.6zM1008.5 340.5h20.6v10.6h-20.6zM1098.5 340.5h20.6v10.6h-20.6zM1198.5 340.5h20.6v10.6h-20.6zM868.5 350.5h20.6v10.6h-20.6zM1238.5 350.5h20.6v10.6h-20.6z"/><path fill="#3cc0e4" d="M269.2 180.2h10.6v10.6h-10.6zM449.3 180.2h10.6v10.6h-10.6zM199.1 250.3h10.6v10.6h-10.6zM519.4 250.3h10.6v10.6h-10.6zM968.5 180.2h10.6v10.6h-10.6zM878.5 190.2h10.6v10.6h-10.6z"/><path fill="#96cc6c" d="M299.2 180.2h10.6v10.6h-10.6zM419.3 180.2h10.6v10.6h-10.6zM129.0 190.2h10.6v10.6h-10.6zM589.5 190.2h10.6v10.6h-10.6zM1068.5 110.1h10.6v10.6h-10.6zM1118.5 170.2h10.6v10.6h-10.6zM1128.5 200.2h10.6v10.6h-10.6zM1138.5 260.3h10.6v10.6h-10.6zM978.5 270.4h10.6v10.6h-10.6z"/><path fill="#e4e442" d="M319.2 180.2h10.6v10.6h-10.6zM399.3 180.2h10.6v10.6h-10.6zM309.2 200.2h10.6v10.6h-10.6zM409.3 200.2h10.6v10.6h-10.6zM119.0 230.3h10.6v10.6h-10.6zM599.5 230.3h10.6v10.6h-10.6z"/><path fill="#fcc624" d="M339.2 180.2h10.6v10.6h-10.6zM379.3 180.2h10.6v10.6h-10.6zM329.2 190.2h10.6v10.6h-10.6zM389.3 190.2h10.6v10.6h-10.6zM139.0 260.3h10.6v10.6h-10.6zM579.5 260.3h10.6v10.6h-10.6zM1048.5 160.2h10.6v10.6h-10.6zM1068.5 160.2h10.6v10.6h-10.6zM1098.5 190.2h10.6v10.6h-10.6zM818.5 240.3h10.6v10.6h-10.6zM1298.5 240.3h10.6v10.6h-10.6z"/><path fill="#fcb424" d="M349.2 180.2h10.6v10.6h-10.6zM369.3 180.2h10.6v10.6h-10.6zM169.1 300.4h10.6v10.6h-10.6zM549.4 300.4h10.6v10.6h-10.6zM1018.5 200.2h10.6v10.6h-10.6zM848.5 260.3h10.6v10.6h-10.6z"/><path fill="#fcb42a" d="M359.2 180.2h10.6v10.6h-10.6zM129.0 260.3h10.6v10.6h-10.6zM589.5 260.3h10.6v10.6h-10.6zM1118.5 260.3h10.6v10.6h-10.6zM858.5 270.4h10.6v10.6h-10.6z"/><path fill="#84c678" d="M139.0 190.2h10.6v10.6h-10.6zM579.5 190.2h10.6v10.6h-10.6zM179.1 260.3h10.6v10.6h-10.6zM539.4 260.3h10.6v10.6h-10.6z"/><path fill="#2a3c90" d="M219.1 190.2h10.6v10.6h-10.6zM499.4 190.2h10.6v10.6h-10.6zM239.1 340.5h50.7v10.6h-50.7zM439.3 340.5h50.7v10.6h-50.7zM209.1 350.5h30.6v10.6h-30.6zM289.2 350.5h50.7v10.6h-50.7zM389.3 350.5h50.7v10.6h-50.7zM489.4 350.5h30.6v10.6h-30.6zM159.0 360.5h60.7v10.6h-60.7zM319.2 360.5h90.7v10.6h-90.7zM509.4 360.5h60.7v10.6h-60.7zM119.0 370.5h60.7v10.6h-60.7zM549.4 370.5h60.7v10.6h-60.7zM928.5 180.2h10.6v10.6h-10.6zM928.5 340.5h30.6v10.6h-30.6zM968.5 340.5h30.6v10.6h-30.6zM1128.5 340.5h30.6v10.6h-30.6zM1168.5 340.5h30.6v10.6h-30.6zM898.5 350.5h30.6v10.6h-30.6zM998.5 350.5h130.6v10.6h-130.6zM1198.5 350.5h30.6v10.6h-30.6zM818.5 360.5h90.6v10.6h-90.6zM1038.5 360.5h50.6v10.6h-50.6zM1218.5 360.5h90.6v10.6h-90.6zM818.5 370.5h30.6v10.6h-30.6zM1278.5 370.5h30.6v10.6h-30.6zM637.7 497.0h36.1v6.6h-36.1zM1335.7 496.3h36.8v6.6h-36.8z"/><path fill="#2a3c8a" d="M229.1 190.2h10.6v10.6h-10.6zM489.4 190.2h10.6v10.6h-10.6zM239.1 350.5h10.6v10.6h-10.6zM279.2 350.5h10.6v10.6h-10.6zM439.3 350.5h10.6v10.6h-10.6zM479.4 350.5h10.6v10.6h-10.6zM219.1 360.5h10.6v10.6h-10.6zM299.2 360.5h20.6v10.6h-20.6zM409.3 360.5h20.6v10.6h-20.6zM499.4 360.5h10.6v10.6h-10.6zM179.1 370.5h20.6v10.6h-20.6zM529.4 370.5h20.6v10.6h-20.6zM1188.5 190.2h10.6v10.6h-10.6zM958.5 340.5h10.6v10.6h-10.6zM1158.5 340.5h10.6v10.6h-10.6zM928.5 350.5h10.6v10.6h-10.6zM988.5 350.5h10.6v10.6h-10.6zM1128.5 350.5h10.6v10.6h-10.6zM1188.5 350.5h10.6v10.6h-10.6zM908.5 360.5h10.6v10.6h-10.6zM1018.5 360.5h20.6v10.6h-20.6zM1088.5 360.5h20.6v10.6h-20.6zM1208.5 360.5h10.6v10.6h-10.6zM848.5 370.5h30.6v10.6h-30.6zM1248.5 370.5h30.6v10.6h-30.6zM637.7 503.0h36.1v6.6h-36.1zM1335.7 502.3h36.8v6.6h-36.8z"/><path fill="#48c0de" d="M269.2 190.2h10.6v10.6h-10.6zM449.3 190.2h10.6v10.6h-10.6zM1228.5 230.3h10.6v10.6h-10.6zM1218.5 250.3h10.6v10.6h-10.6zM1158.5 270.4h10.6v10.6h-10.6zM958.5 280.4h10.6v10.6h-10.6z"/><path fill="#a8cc5a" d="M299.2 190.2h10.6v10.6h-10.6zM419.3 190.2h10.6v10.6h-10.6zM1018.5 140.1h10.6v10.6h-10.6z"/><path fill="#fcae2a" d="M339.2 190.2h10.6v10.6h-10.6zM379.3 190.2h10.6v10.6h-10.6zM329.2 200.2h10.6v10.6h-10.6zM389.3 200.2h10.6v10.6h-10.6zM1098.5 200.2h10.6v10.6h-10.6zM1008.5 230.3h10.6v10.6h-10.6zM828.5 250.3h10.6v10.6h-10.6zM1288.5 250.3h10.6v10.6h-10.6zM1248.5 290.4h10.6v10.6h-10.6z"/><path fill="#f6a22a" d="M349.2 190.2h10.6v10.6h-10.6zM369.3 190.2h10.6v10.6h-10.6zM319.2 220.3h10.6v10.6h-10.6zM399.3 220.3h10.6v10.6h-10.6zM139.0 270.4h10.6v10.6h-10.6zM579.5 270.4h10.6v10.6h-10.6zM1038.5 180.2h10.6v10.6h-10.6zM1078.5 180.2h10.6v10.6h-10.6zM1088.5 190.2h10.6v10.6h-10.6zM1018.5 210.3h10.6v10.6h-10.6zM1098.5 210.3h10.6v10.6h-10.6zM818.5 250.3h10.6v10.6h-10.6zM1298.5 250.3h10.6v10.6h-10.6zM1118.5 270.4h10.6v10.6h-10.6zM998.5 280.4h10.6v10.6h-10.6zM1248.5 300.4h10.6v10.6h-10.6zM637.7 197.6h36.1v6.6h-36.1zM1335.7 197.3h36.8v6.6h-36.8z"/><path fill="#f69c2a" d="M359.2 190.2h10.6v10.6h-10.6zM339.2 200.2h10.6v10.6h-10.6zM379.3 200.2h10.6v10.6h-10.6zM329.2 210.3h10.6v10.6h-10.6zM389.3 210.3h10.6v10.6h-10.6zM159.0 290.4h10.6v10.6h-10.6zM559.4 290.4h10.6v10.6h-10.6zM1008.5 240.3h10.6v10.6h-10.6zM838.5 260.3h10.6v10.6h-10.6zM1278.5 260.3h10.6v10.6h-10.6zM1118.5 280.4h10.6v10.6h-10.6z"/><path fill="#a8cc60" d="M129.0 200.2h10.6v10.6h-10.6zM589.5 200.2h10.6v10.6h-10.6zM1138.5 280.4h10.6v10.6h-10.6zM1228.5 280.4h10.6v10.6h-10.6z"/><path fill="#96c66c" d="M139.0 200.2h10.6v10.6h-10.6zM579.5 200.2h10.6v10.6h-10.6zM289.2 210.3h10.6v10.6h-10.6zM429.3 210.3h10.6v10.6h-10.6zM1048.5 110.1h10.6v10.6h-10.6zM1088.5 120.1h10.6v10.6h-10.6zM1098.5 130.1h10.6v10.6h-10.6zM637.7 281.4h36.1v6.6h-36.1zM1335.7 281.0h36.8v6.6h-36.8z"/><path fill="#369cd2" d="M259.1 200.2h10.6v10.6h-10.6zM459.3 200.2h10.6v10.6h-10.6zM898.5 230.3h10.6v10.6h-10.6zM1168.5 280.4h10.6v10.6h-10.6z"/><path fill="#bad254" d="M299.2 200.2h10.6v10.6h-10.6zM419.3 200.2h10.6v10.6h-10.6zM988.5 230.3h10.6v10.6h-10.6zM1228.5 290.4h10.6v10.6h-10.6z"/><path fill="#fcd22a" d="M319.2 200.2h10.6v10.6h-10.6zM399.3 200.2h10.6v10.6h-10.6zM828.5 240.3h10.6v10.6h-10.6z"/><path fill="#f6902a" d="M349.2 200.2h10.6v10.6h-10.6zM369.3 200.2h10.6v10.6h-10.6zM319.2 230.3h10.6v10.6h-10.6zM399.3 230.3h10.6v10.6h-10.6zM129.0 270.4h10.6v10.6h-10.6zM589.5 270.4h10.6v10.6h-10.6zM299.2 280.4h10.6v10.6h-10.6zM419.3 280.4h10.6v10.6h-10.6zM1058.5 180.2h10.6v10.6h-10.6zM1038.5 190.2h10.6v10.6h-10.6zM1078.5 190.2h10.6v10.6h-10.6zM1088.5 200.2h10.6v10.6h-10.6zM1018.5 220.3h10.6v10.6h-10.6zM1098.5 220.3h10.6v10.6h-10.6zM1288.5 260.3h10.6v10.6h-10.6zM1335.7 185.4h36.8v6.6h-36.8z"/><path fill="#f68a2a" d="M359.2 200.2h10.6v10.6h-10.6zM119.0 270.4h10.6v10.6h-10.6zM599.5 270.4h10.6v10.6h-10.6zM159.0 300.4h10.6v10.6h-10.6zM559.4 300.4h10.6v10.6h-10.6zM1008.5 250.3h10.6v10.6h-10.6zM1108.5 250.3h10.6v10.6h-10.6zM828.5 260.3h10.6v10.6h-10.6zM637.7 185.6h36.1v6.6h-36.1z"/><path fill="#b4d254" d="M129.0 210.3h10.6v10.6h-10.6zM589.5 210.3h10.6v10.6h-10.6zM139.0 220.3h10.6v10.6h-10.6zM579.5 220.3h10.6v10.6h-10.6zM169.1 260.3h10.6v10.6h-10.6zM549.4 260.3h10.6v10.6h-10.6zM279.2 280.4h10.6v10.6h-10.6zM439.3 280.4h10.6v10.6h-10.6zM189.1 300.4h10.6v10.6h-10.6zM529.4 300.4h10.6v10.6h-10.6zM998.5 190.2h10.6v10.6h-10.6zM828.5 210.3h10.6v10.6h-10.6zM1288.5 210.3h10.6v10.6h-10.6zM1128.5 220.3h10.6v10.6h-10.6zM1258.5 240.3h10.6v10.6h-10.6z"/><path fill="#5ac0d2" d="M269.2 210.3h10.6v10.6h-10.6zM449.3 210.3h10.6v10.6h-10.6zM968.5 210.3h10.6v10.6h-10.6zM637.7 347.3h36.1v6.6h-36.1z"/><path fill="#fcba24" d="M319.2 210.3h10.6v10.6h-10.6zM399.3 210.3h10.6v10.6h-10.6zM309.2 230.3h10.6v10.6h-10.6zM409.3 230.3h10.6v10.6h-10.6zM149.0 270.4h10.6v10.6h-10.6zM569.5 270.4h10.6v10.6h-10.6zM159.0 280.4h10.6v10.6h-10.6zM559.4 280.4h10.6v10.6h-10.6zM1038.5 170.2h10.6v10.6h-10.6zM1078.5 170.2h10.6v10.6h-10.6zM1028.5 180.2h10.6v10.6h-10.6zM1088.5 180.2h10.6v10.6h-10.6zM1108.5 220.3h10.6v10.6h-10.6zM1268.5 260.3h10.6v10.6h-10.6zM1258.5 270.4h10.6v10.6h-10.6zM637.7 209.5h36.1v6.6h-36.1zM1335.7 209.3h36.8v6.6h-36.8z"/><path fill="#f6842a" d="M339.2 210.3h10.6v10.6h-10.6zM379.3 210.3h10.6v10.6h-10.6zM329.2 220.3h10.6v10.6h-10.6zM389.3 220.3h10.6v10.6h-10.6zM309.2 260.3h10.6v10.6h-10.6zM409.3 260.3h10.6v10.6h-10.6zM139.0 280.4h10.6v10.6h-10.6zM579.5 280.4h10.6v10.6h-10.6zM1048.5 190.2h10.6v10.6h-10.6zM1068.5 190.2h10.6v10.6h-10.6zM1028.5 210.3h10.6v10.6h-10.6zM1088.5 210.3h10.6v10.6h-10.6zM1018.5 230.3h10.6v10.6h-10.6zM818.5 260.3h10.6v10.6h-10.6zM1298.5 260.3h10.6v10.6h-10.6zM1258.5 290.4h10.6v10.6h-10.6zM637.7 179.6h36.1v6.6h-36.1zM1335.7 179.4h36.8v6.6h-36.8z"/><path fill="#f07830" d="M349.2 210.3h30.6v10.6h-30.6zM1108.5 260.3h10.6v10.6h-10.6zM848.5 280.4h10.6v10.6h-10.6zM1268.5 280.4h10.6v10.6h-10.6z"/><path fill="#ccd848" d="M129.0 220.3h10.6v10.6h-10.6zM589.5 220.3h10.6v10.6h-10.6zM1128.5 240.3h10.6v10.6h-10.6z"/><path fill="#36b4e4" d="M189.1 220.3h10.6v10.6h-10.6zM529.4 220.3h10.6v10.6h-10.6zM259.1 240.3h10.6v10.6h-10.6zM459.3 240.3h10.6v10.6h-10.6zM249.1 280.4h10.6v10.6h-10.6zM469.4 280.4h10.6v10.6h-10.6zM1148.5 160.2h10.6v10.6h-10.6zM1228.5 220.3h10.6v10.6h-10.6zM958.5 230.3h10.6v10.6h-10.6zM898.5 240.3h10.6v10.6h-10.6zM1218.5 240.3h10.6v10.6h-10.6zM1208.5 260.3h10.6v10.6h-10.6z"/><path fill="#3654a2" d="M219.1 220.3h10.6v10.6h-10.6zM499.4 220.3h10.6v10.6h-10.6zM279.2 320.5h10.6v10.6h-10.6zM439.3 320.5h10.6v10.6h-10.6zM938.5 170.2h10.6v10.6h-10.6zM998.5 320.5h10.6v10.6h-10.6zM1118.5 320.5h10.6v10.6h-10.6zM1198.5 320.5h10.6v10.6h-10.6zM878.5 330.5h10.6v10.6h-10.6zM637.7 467.1h36.1v6.6h-36.1zM1335.7 466.4h36.8v6.6h-36.8z"/><path fill="#36aede" d="M259.1 220.3h10.6v10.6h-10.6zM459.3 220.3h10.6v10.6h-10.6zM259.1 230.3h10.6v10.6h-10.6zM459.3 230.3h10.6v10.6h-10.6zM209.1 260.3h10.6v10.6h-10.6zM509.4 260.3h10.6v10.6h-10.6zM1148.5 140.1h10.6v10.6h-10.6zM968.5 150.2h10.6v10.6h-10.6zM1158.5 210.3h10.6v10.6h-10.6zM958.5 220.3h10.6v10.6h-10.6z"/><path fill="#f6d22a" d="M309.2 220.3h10.6v10.6h-10.6zM409.3 220.3h10.6v10.6h-10.6zM1008.5 210.3h10.6v10.6h-10.6zM1118.5 240.3h10.6v10.6h-10.6z"/><path fill="#f07230" d="M339.2 220.3h10.6v10.6h-10.6zM379.3 220.3h10.6v10.6h-10.6zM329.2 230.3h10.6v10.6h-10.6zM389.3 230.3h10.6v10.6h-10.6zM309.2 270.4h10.6v10.6h-10.6zM409.3 270.4h10.6v10.6h-10.6zM129.0 280.4h10.6v10.6h-10.6zM589.5 280.4h10.6v10.6h-10.6zM1048.5 200.2h10.6v10.6h-10.6zM1068.5 200.2h10.6v10.6h-10.6zM1038.5 210.3h10.6v10.6h-10.6zM1028.5 220.3h10.6v10.6h-10.6zM1088.5 220.3h10.6v10.6h-10.6zM1018.5 240.3h10.6v10.6h-10.6zM1008.5 270.4h10.6v10.6h-10.6zM1288.5 270.4h10.6v10.6h-10.6zM1258.5 300.4h10.6v10.6h-10.6zM637.7 167.6h36.1v6.6h-36.1zM1335.7 167.4h36.8v6.6h-36.8z"/><path fill="#f06630" d="M349.2 220.3h10.6v10.6h-10.6zM369.3 220.3h10.6v10.6h-10.6zM139.0 290.4h10.6v10.6h-10.6zM579.5 290.4h10.6v10.6h-10.6zM818.5 270.4h10.6v10.6h-10.6zM1298.5 270.4h10.6v10.6h-10.6zM1008.5 280.4h10.6v10.6h-10.6z"/><path fill="#f06030" d="M359.2 220.3h10.6v10.6h-10.6zM329.2 240.3h10.6v10.6h-10.6zM389.3 240.3h10.6v10.6h-10.6zM1048.5 210.3h30.6v10.6h-30.6zM1038.5 220.3h10.6v10.6h-10.6zM1028.5 230.3h10.6v10.6h-10.6zM1088.5 230.3h10.6v10.6h-10.6zM1018.5 250.3h10.6v10.6h-10.6zM1098.5 250.3h10.6v10.6h-10.6zM838.5 280.4h10.6v10.6h-10.6zM1108.5 280.4h10.6v10.6h-10.6zM1278.5 280.4h10.6v10.6h-10.6zM848.5 290.4h10.6v10.6h-10.6zM1268.5 290.4h10.6v10.6h-10.6zM637.7 155.6h36.1v6.6h-36.1zM1335.7 155.5h36.8v6.6h-36.8z"/><path fill="#8ac672" d="M159.0 230.3h10.6v10.6h-10.6zM559.4 230.3h10.6v10.6h-10.6zM1038.5 110.1h10.6v10.6h-10.6zM1078.5 110.1h10.6v10.6h-10.6zM1108.5 140.1h10.6v10.6h-10.6zM848.5 210.3h10.6v10.6h-10.6zM637.7 287.4h36.1v6.6h-36.1zM1335.7 287.0h36.8v6.6h-36.8z"/><path fill="#f05a30" d="M339.2 230.3h10.6v10.6h-10.6zM379.3 230.3h10.6v10.6h-10.6zM319.2 260.3h10.6v10.6h-10.6zM399.3 260.3h10.6v10.6h-10.6zM309.2 280.4h10.6v10.6h-10.6zM409.3 280.4h10.6v10.6h-10.6zM129.0 290.4h10.6v10.6h-10.6zM589.5 290.4h10.6v10.6h-10.6zM1078.5 220.3h10.6v10.6h-10.6zM1335.7 149.5h36.8v6.6h-36.8z"/><path fill="#f05430" d="M349.2 230.3h10.6v10.6h-10.6zM369.3 230.3h10.6v10.6h-10.6zM119.0 290.4h10.6v10.6h-10.6zM599.5 290.4h10.6v10.6h-10.6zM139.0 300.4h10.6v10.6h-10.6zM579.5 300.4h10.6v10.6h-10.6zM1048.5 220.3h10.6v10.6h-10.6zM1068.5 220.3h10.6v10.6h-10.6zM1028.5 240.3h10.6v10.6h-10.6zM1018.5 260.3h10.6v10.6h-10.6zM828.5 280.4h10.6v10.6h-10.6zM1288.5 280.4h10.6v10.6h-10.6zM1268.5 300.4h10.6v10.6h-10.6zM637.7 149.6h36.1v6.6h-36.1z"/><path fill="#f04e30" d="M359.2 230.3h10.6v10.6h-10.6zM1058.5 220.3h10.6v10.6h-10.6zM1038.5 230.3h10.6v10.6h-10.6zM1078.5 230.3h10.6v10.6h-10.6zM1088.5 240.3h10.6v10.6h-10.6zM1098.5 260.3h10.6v10.6h-10.6zM1298.5 280.4h10.6v10.6h-10.6zM637.7 143.7h36.1v6.6h-36.1zM1335.7 143.5h36.8v6.6h-36.8z"/><path fill="#c6d84e" d="M149.0 240.3h10.6v10.6h-10.6zM569.5 240.3h10.6v10.6h-10.6zM1108.5 170.2h10.6v10.6h-10.6zM878.5 270.4h10.6v10.6h-10.6z"/><path fill="#bad854" d="M289.2 240.3h10.6v10.6h-10.6zM429.3 240.3h10.6v10.6h-10.6z"/><path fill="#f0de36" d="M299.2 240.3h10.6v10.6h-10.6zM419.3 240.3h10.6v10.6h-10.6zM1018.5 180.2h10.6v10.6h-10.6zM998.5 230.3h10.6v10.6h-10.6zM1258.5 260.3h10.6v10.6h-10.6zM868.5 270.4h10.6v10.6h-10.6zM878.5 290.4h10.6v10.6h-10.6z"/><path fill="#fca82a" d="M309.2 240.3h10.6v10.6h-10.6zM409.3 240.3h10.6v10.6h-10.6zM119.0 260.3h10.6v10.6h-10.6zM599.5 260.3h10.6v10.6h-10.6zM1048.5 170.2h10.6v10.6h-10.6zM1068.5 170.2h10.6v10.6h-10.6zM998.5 270.4h10.6v10.6h-10.6z"/><path fill="#f07e2a" d="M319.2 240.3h10.6v10.6h-10.6zM399.3 240.3h10.6v10.6h-10.6zM149.0 290.4h10.6v10.6h-10.6zM569.5 290.4h10.6v10.6h-10.6zM1058.5 190.2h10.6v10.6h-10.6zM1038.5 200.2h10.6v10.6h-10.6zM1078.5 200.2h10.6v10.6h-10.6zM1098.5 230.3h10.6v10.6h-10.6zM1008.5 260.3h10.6v10.6h-10.6zM838.5 270.4h10.6v10.6h-10.6zM1278.5 270.4h10.6v10.6h-10.6zM858.5 290.4h10.6v10.6h-10.6zM637.7 173.6h36.1v6.6h-36.1zM1335.7 173.4h36.8v6.6h-36.8z"/><path fill="#f04836" d="M339.2 240.3h10.6v10.6h-10.6zM379.3 240.3h10.6v10.6h-10.6zM319.2 270.4h10.6v10.6h-10.6zM399.3 270.4h10.6v10.6h-10.6zM129.0 300.4h10.6v10.6h-10.6zM589.5 300.4h10.6v10.6h-10.6zM1018.5 270.4h10.6v10.6h-10.6zM838.5 290.4h10.6v10.6h-10.6zM637.7 137.7h36.1v6.6h-36.1zM1335.7 137.5h36.8v6.6h-36.8z"/><path fill="#f04236" d="M349.2 240.3h10.6v10.6h-10.6zM369.3 240.3h10.6v10.6h-10.6zM119.0 300.4h10.6v10.6h-10.6zM599.5 300.4h10.6v10.6h-10.6zM1048.5 230.3h10.6v10.6h-10.6zM1068.5 230.3h10.6v10.6h-10.6zM1038.5 240.3h10.6v10.6h-10.6zM1028.5 250.3h10.6v10.6h-10.6zM1088.5 250.3h10.6v10.6h-10.6zM1098.5 270.4h10.6v10.6h-10.6zM637.7 131.7h36.1v6.6h-36.1zM1335.7 131.6h36.8v6.6h-36.8z"/><path fill="#f03c36" d="M359.2 240.3h10.6v10.6h-10.6zM339.2 250.3h10.6v10.6h-10.6zM379.3 250.3h10.6v10.6h-10.6zM329.2 260.3h10.6v10.6h-10.6zM389.3 260.3h10.6v10.6h-10.6zM1058.5 230.3h10.6v10.6h-10.6zM1078.5 240.3h10.6v10.6h-10.6zM1018.5 280.4h10.6v10.6h-10.6zM1098.5 280.4h10.6v10.6h-10.6zM828.5 290.4h10.6v10.6h-10.6zM1288.5 290.4h10.6v10.6h-10.6zM1278.5 300.4h10.6v10.6h-10.6zM637.7 125.7h36.1v6.6h-36.1zM1335.7 125.6h36.8v6.6h-36.8z"/><path fill="#f6d82a" d="M129.0 250.3h10.6v10.6h-10.6zM589.5 250.3h10.6v10.6h-10.6zM1038.5 160.2h10.6v10.6h-10.6zM1078.5 160.2h10.6v10.6h-10.6zM1028.5 170.2h10.6v10.6h-10.6zM1088.5 170.2h10.6v10.6h-10.6zM1288.5 240.3h10.6v10.6h-10.6zM1335.7 221.2h36.8v6.6h-36.8z"/><path fill="#dede42" d="M149.0 250.3h10.6v10.6h-10.6zM569.5 250.3h10.6v10.6h-10.6zM1118.5 210.3h10.6v10.6h-10.6z"/><path fill="#3cbae4" d="M259.1 250.3h10.6v10.6h-10.6zM459.3 250.3h10.6v10.6h-10.6zM1148.5 170.2h10.6v10.6h-10.6zM1158.5 230.3h10.6v10.6h-10.6zM1158.5 240.3h10.6v10.6h-10.6zM958.5 250.3h10.6v10.6h-10.6zM908.5 260.3h10.6v10.6h-10.6zM958.5 260.3h10.6v10.6h-10.6zM918.5 280.4h10.6v10.6h-10.6z"/><path fill="#f6d230" d="M299.2 250.3h10.6v10.6h-10.6zM419.3 250.3h10.6v10.6h-10.6z"/><path fill="#f6962a" d="M309.2 250.3h10.6v10.6h-10.6zM409.3 250.3h10.6v10.6h-10.6zM149.0 280.4h10.6v10.6h-10.6zM569.5 280.4h10.6v10.6h-10.6zM1048.5 180.2h10.6v10.6h-10.6zM1068.5 180.2h10.6v10.6h-10.6zM1028.5 200.2h10.6v10.6h-10.6zM1108.5 240.3h10.6v10.6h-10.6zM848.5 270.4h10.6v10.6h-10.6zM1268.5 270.4h10.6v10.6h-10.6zM858.5 280.4h10.6v10.6h-10.6zM1258.5 280.4h10.6v10.6h-10.6zM637.7 191.6h36.1v6.6h-36.1zM1335.7 191.3h36.8v6.6h-36.8z"/><path fill="#f06c30" d="M319.2 250.3h10.6v10.6h-10.6zM399.3 250.3h10.6v10.6h-10.6zM119.0 280.4h10.6v10.6h-10.6zM599.5 280.4h10.6v10.6h-10.6zM149.0 300.4h10.6v10.6h-10.6zM569.5 300.4h10.6v10.6h-10.6zM1058.5 200.2h10.6v10.6h-10.6zM1078.5 210.3h10.6v10.6h-10.6zM1098.5 240.3h10.6v10.6h-10.6zM828.5 270.4h10.6v10.6h-10.6zM1108.5 270.4h10.6v10.6h-10.6zM637.7 161.6h36.1v6.6h-36.1zM1335.7 161.4h36.8v6.6h-36.8z"/><path fill="#f04e36" d="M329.2 250.3h10.6v10.6h-10.6zM389.3 250.3h10.6v10.6h-10.6zM818.5 280.4h10.6v10.6h-10.6zM1278.5 290.4h10.6v10.6h-10.6z"/><path fill="#ea3036" d="M349.2 250.3h30.6v10.6h-30.6zM329.2 270.4h10.6v10.6h-10.6zM389.3 270.4h10.6v10.6h-10.6zM1078.5 250.3h10.6v10.6h-10.6zM1288.5 300.4h10.6v10.6h-10.6zM637.7 113.7h36.1v6.6h-36.1zM637.7 119.7h36.1v6.6h-36.1zM1335.7 113.6h36.8v6.6h-36.8zM1335.7 119.6h36.8v6.6h-36.8z"/><path fill="#fcc02a" d="M299.2 260.3h10.6v10.6h-10.6zM419.3 260.3h10.6v10.6h-10.6zM868.5 280.4h10.6v10.6h-10.6z"/><path fill="#e43036" d="M339.2 260.3h10.6v10.6h-10.6zM379.3 260.3h10.6v10.6h-10.6zM1048.5 250.3h10.6v10.6h-10.6zM1068.5 250.3h10.6v10.6h-10.6zM1028.5 270.4h10.6v10.6h-10.6zM1088.5 270.4h10.6v10.6h-10.6zM1298.5 300.4h10.6v10.6h-10.6z"/><path fill="#d22a36" d="M349.2 260.3h10.6v10.6h-10.6zM369.3 260.3h10.6v10.6h-10.6zM1028.5 280.4h10.6v10.6h-10.6zM1088.5 280.4h10.6v10.6h-10.6z"/><path fill="#cc2a30" d="M359.2 260.3h10.6v10.6h-10.6z"/><path fill="#f0de30" d="M159.0 270.4h10.6v10.6h-10.6zM559.4 270.4h10.6v10.6h-10.6zM1108.5 200.2h10.6v10.6h-10.6zM1118.5 230.3h10.6v10.6h-10.6zM858.5 260.3h10.6v10.6h-10.6zM1238.5 300.4h10.6v10.6h-10.6z"/><path fill="#4ec0de" d="M259.1 270.4h10.6v10.6h-10.6zM459.3 270.4h10.6v10.6h-10.6zM219.1 290.4h10.6v10.6h-10.6zM499.4 290.4h10.6v10.6h-10.6zM868.5 60.0h10.6v10.6h-10.6zM998.5 60.0h10.6v10.6h-10.6zM1118.5 60.0h10.6v10.6h-10.6zM1248.5 60.0h10.6v10.6h-10.6zM868.5 70.0h10.6v10.6h-10.6zM1248.5 70.0h10.6v10.6h-10.6zM868.5 80.0h10.6v10.6h-10.6zM868.5 90.1h10.6v10.6h-10.6zM1128.5 90.1h10.6v10.6h-10.6zM868.5 100.1h10.6v10.6h-10.6zM1248.5 110.1h10.6v10.6h-10.6zM1248.5 120.1h10.6v10.6h-10.6zM1138.5 130.1h10.6v10.6h-10.6zM1148.5 190.2h10.6v10.6h-10.6zM888.5 230.3h10.6v10.6h-10.6zM898.5 250.3h10.6v10.6h-10.6zM1208.5 270.4h10.6v10.6h-10.6zM637.7 359.3h36.1v6.6h-36.1zM1335.7 358.8h36.8v6.6h-36.8z"/><path fill="#f6a82a" d="M299.2 270.4h10.6v10.6h-10.6zM419.3 270.4h10.6v10.6h-10.6zM1058.5 170.2h10.6v10.6h-10.6zM1028.5 190.2h10.6v10.6h-10.6zM1108.5 230.3h10.6v10.6h-10.6zM868.5 290.4h10.6v10.6h-10.6z"/><path fill="#c62430" d="M339.2 270.4h10.6v10.6h-10.6zM379.3 270.4h10.6v10.6h-10.6zM1048.5 260.3h10.6v10.6h-10.6zM1068.5 260.3h10.6v10.6h-10.6z"/><path fill="#ae1e2a" d="M349.2 270.4h10.6v10.6h-10.6zM369.3 270.4h10.6v10.6h-10.6z"/><path fill="#a81e2a" d="M359.2 270.4h10.6v10.6h-10.6zM1048.5 270.4h10.6v10.6h-10.6zM1078.5 280.4h10.6v10.6h-10.6zM637.7 83.8h36.1v6.6h-36.1zM1335.7 83.7h36.8v6.6h-36.8z"/><path fill="#5ac0cc" d="M209.1 280.4h10.6v10.6h-10.6zM509.4 280.4h10.6v10.6h-10.6z"/><path fill="#f0d830" d="M289.2 280.4h10.6v10.6h-10.6zM429.3 280.4h10.6v10.6h-10.6z"/><path fill="#ea3636" d="M319.2 280.4h10.6v10.6h-10.6zM399.3 280.4h10.6v10.6h-10.6zM1058.5 240.3h10.6v10.6h-10.6zM1038.5 250.3h10.6v10.6h-10.6z"/><path fill="#c62a30" d="M329.2 280.4h10.6v10.6h-10.6zM389.3 280.4h10.6v10.6h-10.6z"/><path fill="#a21e2a" d="M339.2 280.4h10.6v10.6h-10.6zM379.3 280.4h10.6v10.6h-10.6zM1068.5 270.4h10.6v10.6h-10.6z"/><path fill="#8a1824" d="M349.2 280.4h10.6v10.6h-10.6zM369.3 280.4h10.6v10.6h-10.6zM1058.5 280.4h10.6v10.6h-10.6zM637.7 65.8h36.1v6.6h-36.1zM1335.7 65.8h36.8v6.6h-36.8z"/><path fill="#841824" d="M359.2 280.4h10.6v10.6h-10.6z"/><path fill="#fccc2a" d="M169.1 290.4h10.6v10.6h-10.6zM549.4 290.4h10.6v10.6h-10.6zM1018.5 190.2h10.6v10.6h-10.6zM1108.5 210.3h10.6v10.6h-10.6z"/><path fill="#48b4d8" d="M269.2 290.4h10.6v10.6h-10.6zM449.3 290.4h10.6v10.6h-10.6zM1038.5 300.4h20.6v10.6h-20.6zM1068.5 300.4h20.6v10.6h-20.6z"/><path fill="#60c0c0" d="M279.2 290.4h10.6v10.6h-10.6zM439.3 290.4h10.6v10.6h-10.6zM988.5 290.4h10.6v10.6h-10.6z"/><path fill="#84c696" d="M289.2 290.4h10.6v10.6h-10.6zM429.3 290.4h10.6v10.6h-10.6z"/><path fill="#a2cc72" d="M299.2 290.4h10.6v10.6h-10.6zM419.3 290.4h10.6v10.6h-10.6z"/><path fill="#bac05a" d="M309.2 290.4h10.6v10.6h-10.6zM409.3 290.4h10.6v10.6h-10.6z"/><path fill="#ccb448" d="M319.2 290.4h10.6v10.6h-10.6zM399.3 290.4h10.6v10.6h-10.6zM1058.5 290.4h10.6v10.6h-10.6z"/><path fill="#d8a842" d="M329.2 290.4h10.6v10.6h-10.6zM389.3 290.4h10.6v10.6h-10.6z"/><path fill="#de9c3c" d="M339.2 290.4h10.6v10.6h-10.6zM379.3 290.4h10.6v10.6h-10.6z"/><path fill="#de9636" d="M349.2 290.4h30.6v10.6h-30.6z"/><path fill="#3ca8d8" d="M299.2 300.4h10.6v10.6h-10.6zM419.3 300.4h10.6v10.6h-10.6zM1018.5 300.4h10.6v10.6h-10.6z"/><path fill="#42b4d8" d="M309.2 300.4h10.6v10.6h-10.6zM409.3 300.4h10.6v10.6h-10.6z"/><path fill="#48bad8" d="M319.2 300.4h10.6v10.6h-10.6zM399.3 300.4h10.6v10.6h-10.6zM1058.5 300.4h10.6v10.6h-10.6z"/><path fill="#4ec0d2" d="M329.2 300.4h10.6v10.6h-10.6zM389.3 300.4h10.6v10.6h-10.6z"/><path fill="#54c0cc" d="M339.2 300.4h10.6v10.6h-10.6zM379.3 300.4h10.6v10.6h-10.6z"/><path fill="#54c0c6" d="M349.2 300.4h10.6v10.6h-10.6zM369.3 300.4h10.6v10.6h-10.6z"/><path fill="#5ac0c6" d="M359.2 300.4h10.6v10.6h-10.6z"/><path fill="#ccde54" d="M119.0 310.4h10.6v10.6h-10.6zM599.5 310.4h10.6v10.6h-10.6z"/><path fill="#c0d854" d="M129.0 310.4h10.6v10.6h-10.6zM589.5 310.4h10.6v10.6h-10.6z"/><path fill="#b4d860" d="M139.0 310.4h10.6v10.6h-10.6zM579.5 310.4h10.6v10.6h-10.6z"/><path fill="#9ccc6c" d="M149.0 310.4h10.6v10.6h-10.6zM569.5 310.4h10.6v10.6h-10.6z"/><path fill="#4ebad8" d="M189.1 310.4h10.6v10.6h-10.6zM529.4 310.4h10.6v10.6h-10.6z"/><path fill="#3c7ec0" d="M349.2 310.4h30.6v10.6h-30.6zM149.0 320.5h10.6v10.6h-10.6zM569.5 320.5h10.6v10.6h-10.6zM1158.5 60.0h10.6v10.6h-10.6zM1158.5 70.0h10.6v10.6h-10.6zM1218.5 70.0h10.6v10.6h-10.6zM898.5 80.0h10.6v10.6h-10.6zM1158.5 110.1h10.6v10.6h-10.6zM1158.5 120.1h10.6v10.6h-10.6zM1198.5 260.3h10.6v10.6h-10.6zM938.5 280.4h10.6v10.6h-10.6zM1178.5 280.4h10.6v10.6h-10.6zM988.5 300.4h10.6v10.6h-10.6zM1128.5 300.4h10.6v10.6h-10.6z"/><path fill="#3690cc" d="M119.0 320.5h10.6v10.6h-10.6zM599.5 320.5h10.6v10.6h-10.6z"/><path fill="#2a489c" d="M229.1 330.5h10.6v10.6h-10.6zM279.2 330.5h20.6v10.6h-20.6zM429.3 330.5h20.6v10.6h-20.6zM489.4 330.5h10.6v10.6h-10.6zM199.1 340.5h10.6v10.6h-10.6zM319.2 340.5h90.7v10.6h-90.7zM519.4 340.5h10.6v10.6h-10.6zM119.0 350.5h50.7v10.6h-50.7zM559.4 350.5h50.7v10.6h-50.7zM1198.5 180.2h10.6v10.6h-10.6zM1198.5 200.2h10.6v10.6h-10.6zM918.5 330.5h20.6v10.6h-20.6zM988.5 330.5h20.6v10.6h-20.6zM1118.5 330.5h20.6v10.6h-20.6zM1198.5 330.5h10.6v10.6h-10.6zM888.5 340.5h20.6v10.6h-20.6zM1048.5 340.5h40.6v10.6h-40.6zM1228.5 340.5h10.6v10.6h-10.6zM818.5 350.5h30.6v10.6h-30.6zM1288.5 350.5h20.6v10.6h-20.6z"/><path fill="#2a429c" d="M239.1 330.5h10.6v10.6h-10.6zM479.4 330.5h10.6v10.6h-10.6zM209.1 340.5h10.6v10.6h-10.6zM309.2 340.5h10.6v10.6h-10.6zM409.3 340.5h10.6v10.6h-10.6zM509.4 340.5h10.6v10.6h-10.6zM169.1 350.5h20.6v10.6h-20.6zM539.4 350.5h20.6v10.6h-20.6zM1188.5 330.5h10.6v10.6h-10.6zM1028.5 340.5h20.6v10.6h-20.6zM1088.5 340.5h10.6v10.6h-10.6zM1218.5 340.5h10.6v10.6h-10.6zM848.5 350.5h20.6v10.6h-20.6zM1258.5 350.5h30.6v10.6h-30.6zM637.7 491.1h36.1v6.6h-36.1zM1335.7 490.3h36.8v6.6h-36.8z"/><path fill="#2a4290" d="M229.1 340.5h10.6v10.6h-10.6zM489.4 340.5h10.6v10.6h-10.6zM339.2 350.5h10.6v10.6h-10.6zM379.3 350.5h10.6v10.6h-10.6zM149.0 360.5h10.6v10.6h-10.6zM569.5 360.5h10.6v10.6h-10.6zM1188.5 180.2h10.6v10.6h-10.6zM958.5 330.5h10.6v10.6h-10.6zM1158.5 330.5h10.6v10.6h-10.6zM998.5 340.5h10.6v10.6h-10.6zM1118.5 340.5h10.6v10.6h-10.6zM888.5 350.5h10.6v10.6h-10.6zM1228.5 350.5h10.6v10.6h-10.6z"/><path fill="#2a3684" d="M249.1 350.5h20.6v10.6h-20.6zM459.3 350.5h20.6v10.6h-20.6zM229.1 360.5h70.7v10.6h-70.7zM429.3 360.5h70.7v10.6h-70.7zM199.1 370.5h160.8v10.6h-160.8zM369.3 370.5h160.8v10.6h-160.8zM139.0 380.6h451.1v10.6h-451.1zM119.0 390.6h491.1v10.6h-491.1zM119.0 400.6h491.1v10.6h-491.1zM119.0 410.6h491.1v10.6h-491.1zM119.0 420.6h491.1v10.6h-491.1zM119.0 430.6h491.1v10.6h-491.1zM119.0 440.7h491.1v10.6h-491.1zM119.0 450.7h491.1v10.6h-491.1zM119.0 460.7h491.1v10.6h-491.1zM119.0 470.7h491.1v10.6h-491.1zM119.0 480.7h491.1v10.6h-491.1zM119.0 490.7h491.1v10.6h-491.1zM119.0 500.8h491.1v10.6h-491.1zM119.0 510.8h491.1v10.6h-491.1zM928.5 190.2h10.6v10.6h-10.6zM938.5 350.5h50.6v10.6h-50.6zM1148.5 350.5h40.6v10.6h-40.6zM918.5 360.5h90.6v10.6h-90.6zM1118.5 360.5h90.6v10.6h-90.6zM888.5 370.5h350.6v10.6h-350.6zM818.5 380.6h490.6v10.6h-490.6zM818.5 390.6h490.6v10.6h-490.6zM818.5 400.6h490.6v10.6h-490.6zM818.5 410.6h490.6v10.6h-490.6zM818.5 420.6h490.6v10.6h-490.6zM818.5 430.6h490.6v10.6h-490.6zM818.5 440.7h490.6v10.6h-490.6zM818.5 450.7h490.6v10.6h-490.6zM818.5 460.7h490.6v10.6h-490.6zM818.5 470.7h490.6v10.6h-490.6zM818.5 480.7h490.6v10.6h-490.6zM818.5 490.7h490.6v10.6h-490.6zM818.5 500.8h490.6v10.6h-490.6zM818.5 510.8h490.6v10.6h-490.6z"/><path fill="#2a368a" d="M269.2 350.5h10.6v10.6h-10.6zM449.3 350.5h10.6v10.6h-10.6zM359.2 370.5h10.6v10.6h-10.6zM119.0 380.6h20.6v10.6h-20.6zM589.5 380.6h20.6v10.6h-20.6zM1138.5 350.5h10.6v10.6h-10.6zM1008.5 360.5h10.6v10.6h-10.6zM1108.5 360.5h10.6v10.6h-10.6zM878.5 370.5h10.6v10.6h-10.6zM1238.5 370.5h10.6v10.6h-10.6z"/><path fill="#60c6d2" d="M858.5 60.0h10.6v10.6h-10.6zM1258.5 60.0h10.6v10.6h-10.6zM858.5 70.0h10.6v10.6h-10.6zM858.5 80.0h10.6v10.6h-10.6zM858.5 90.1h10.6v10.6h-10.6zM1118.5 90.1h10.6v10.6h-10.6zM858.5 100.1h10.6v10.6h-10.6zM1258.5 100.1h10.6v10.6h-10.6zM1258.5 110.1h10.6v10.6h-10.6z"/><path fill="#3c72ba" d="M908.5 60.0h10.6v10.6h-10.6zM1208.5 60.0h10.6v10.6h-10.6zM1218.5 130.1h10.6v10.6h-10.6zM1168.5 220.3h10.6v10.6h-10.6zM948.5 230.3h10.6v10.6h-10.6zM818.5 320.5h10.6v10.6h-10.6zM1298.5 320.5h10.6v10.6h-10.6z"/><path fill="#66c0b4" d="M1098.5 80.0h10.6v10.6h-10.6zM848.5 130.1h10.6v10.6h-10.6zM1238.5 230.3h10.6v10.6h-10.6zM1148.5 240.3h10.6v10.6h-10.6zM968.5 250.3h10.6v10.6h-10.6z"/><path fill="#3c60ae" d="M928.5 100.1h10.6v10.6h-10.6zM1188.5 100.1h10.6v10.6h-10.6zM928.5 110.1h10.6v10.6h-10.6zM1188.5 110.1h10.6v10.6h-10.6zM1178.5 300.4h10.6v10.6h-10.6z"/><path fill="#4ec0e4" d="M1248.5 100.1h10.6v10.6h-10.6z"/><path fill="#96cc66" d="M1058.5 110.1h10.6v10.6h-10.6zM1008.5 150.2h10.6v10.6h-10.6zM818.5 190.2h10.6v10.6h-10.6zM1298.5 190.2h10.6v10.6h-10.6zM1258.5 230.3h10.6v10.6h-10.6z"/><path fill="#f6e430" d="M1058.5 150.2h10.6v10.6h-10.6z"/><path fill="#fcc024" d="M1058.5 160.2h10.6v10.6h-10.6zM1008.5 220.3h10.6v10.6h-10.6zM838.5 250.3h10.6v10.6h-10.6zM1278.5 250.3h10.6v10.6h-10.6z"/><path fill="#2a4896" d="M918.5 190.2h10.6v10.6h-10.6z"/><path fill="#3c90c6" d="M1228.5 190.2h10.6v10.6h-10.6zM948.5 270.4h10.6v10.6h-10.6zM1188.5 280.4h10.6v10.6h-10.6z"/><path fill="#7ec67e" d="M848.5 200.2h10.6v10.6h-10.6z"/><path fill="#54c0d8" d="M1148.5 200.2h10.6v10.6h-10.6zM908.5 270.4h10.6v10.6h-10.6zM637.7 353.3h36.1v6.6h-36.1z"/><path fill="#369cd8" d="M1158.5 200.2h10.6v10.6h-10.6zM1198.5 270.4h10.6v10.6h-10.6z"/><path fill="#3cb4e4" d="M1158.5 220.3h10.6v10.6h-10.6zM958.5 240.3h10.6v10.6h-10.6z"/><path fill="#9ccc60" d="M1268.5 220.3h10.6v10.6h-10.6zM637.7 275.4h36.1v6.6h-36.1zM1335.7 275.1h36.8v6.6h-36.8z"/><path fill="#f0e43c" d="M818.5 230.3h10.6v10.6h-10.6z"/><path fill="#f6d830" d="M998.5 240.3h10.6v10.6h-10.6z"/><path fill="#f03636" d="M1048.5 240.3h10.6v10.6h-10.6zM1068.5 240.3h10.6v10.6h-10.6zM1028.5 260.3h10.6v10.6h-10.6zM1088.5 260.3h10.6v10.6h-10.6zM818.5 290.4h10.6v10.6h-10.6zM1298.5 290.4h10.6v10.6h-10.6z"/><path fill="#f6cc2a" d="M998.5 250.3h10.6v10.6h-10.6z"/><path fill="#de2a36" d="M1058.5 250.3h10.6v10.6h-10.6zM1038.5 260.3h10.6v10.6h-10.6zM1078.5 260.3h10.6v10.6h-10.6z"/><path fill="#fcc62a" d="M1118.5 250.3h10.6v10.6h-10.6zM1248.5 280.4h10.6v10.6h-10.6z"/><path fill="#d2de42" d="M1128.5 250.3h10.6v10.6h-10.6z"/><path fill="#84c684" d="M1238.5 250.3h10.6v10.6h-10.6zM1218.5 290.4h10.6v10.6h-10.6z"/><path fill="#fcba2a" d="M998.5 260.3h10.6v10.6h-10.6z"/><path fill="#c02430" d="M1058.5 260.3h10.6v10.6h-10.6zM1038.5 270.4h10.6v10.6h-10.6z"/><path fill="#dee43c" d="M988.5 270.4h10.6v10.6h-10.6z"/><path fill="#9c1e2a" d="M1058.5 270.4h10.6v10.6h-10.6zM637.7 77.8h36.1v6.6h-36.1zM1335.7 77.7h36.8v6.6h-36.8z"/><path fill="#ba2430" d="M1078.5 270.4h10.6v10.6h-10.6zM637.7 89.7h36.1v6.6h-36.1zM1335.7 89.7h36.8v6.6h-36.8z"/><path fill="#e4de3c" d="M1128.5 270.4h10.6v10.6h-10.6zM988.5 280.4h10.6v10.6h-10.6z"/><path fill="#eae436" d="M1248.5 270.4h10.6v10.6h-10.6z"/><path fill="#ae242a" d="M1038.5 280.4h10.6v10.6h-10.6z"/><path fill="#961e24" d="M1048.5 280.4h10.6v10.6h-10.6zM637.7 71.8h36.1v6.6h-36.1zM1335.7 71.8h36.8v6.6h-36.8z"/><path fill="#901e24" d="M1068.5 280.4h10.6v10.6h-10.6z"/><path fill="#eade36" d="M1128.5 280.4h10.6v10.6h-10.6z"/><path fill="#4ec0d8" d="M1158.5 280.4h10.6v10.6h-10.6z"/><path fill="#48b4d2" d="M978.5 290.4h10.6v10.6h-10.6z"/><path fill="#7ec69c" d="M998.5 290.4h10.6v10.6h-10.6z"/><path fill="#96cc7e" d="M1008.5 290.4h10.6v10.6h-10.6zM1108.5 290.4h10.6v10.6h-10.6z"/><path fill="#aecc66" d="M1018.5 290.4h10.6v10.6h-10.6zM1098.5 290.4h10.6v10.6h-10.6z"/><path fill="#bac65a" d="M1028.5 290.4h10.6v10.6h-10.6zM1088.5 290.4h10.6v10.6h-10.6z"/><path fill="#c6c04e" d="M1038.5 290.4h10.6v10.6h-10.6z"/><path fill="#c6ba4e" d="M1048.5 290.4h10.6v10.6h-10.6zM1068.5 290.4h20.6v10.6h-20.6z"/><path fill="#7ec696" d="M1118.5 290.4h10.6v10.6h-10.6z"/><path fill="#60c0ba" d="M1128.5 290.4h10.6v10.6h-10.6z"/><path fill="#4ebad2" d="M1138.5 290.4h10.6v10.6h-10.6z"/><path fill="#3ca2d2" d="M1148.5 290.4h10.6v10.6h-10.6z"/><path fill="#3c9cd8" d="M1188.5 290.4h10.6v10.6h-10.6z"/><path fill="#ea4e36" d="M818.5 300.4h10.6v10.6h-10.6z"/><path fill="#f05436" d="M828.5 300.4h10.6v10.6h-10.6z"/><path fill="#f06036" d="M838.5 300.4h10.6v10.6h-10.6z"/><path fill="#f07236" d="M848.5 300.4h10.6v10.6h-10.6z"/><path fill="#ea8a36" d="M858.5 300.4h10.6v10.6h-10.6z"/><path fill="#e4a836" d="M868.5 300.4h10.6v10.6h-10.6z"/><path fill="#d8d242" d="M878.5 300.4h10.6v10.6h-10.6z"/><path fill="#aed266" d="M888.5 300.4h10.6v10.6h-10.6z"/><path fill="#78c690" d="M898.5 300.4h10.6v10.6h-10.6z"/><path fill="#60b4ba" d="M908.5 300.4h10.6v10.6h-10.6z"/><path fill="#42aed8" d="M918.5 300.4h10.6v10.6h-10.6zM1028.5 300.4h10.6v10.6h-10.6zM1088.5 300.4h10.6v10.6h-10.6z"/><path fill="#3696d2" d="M928.5 300.4h10.6v10.6h-10.6z"/><path fill="#42a8d8" d="M1098.5 300.4h10.6v10.6h-10.6z"/><path fill="#9cd284" d="M818.5 310.4h20.6v10.6h-20.6z"/><path fill="#90cc8a" d="M838.5 310.4h10.6v10.6h-10.6z"/><path fill="#84c690" d="M848.5 310.4h10.6v10.6h-10.6z"/><path fill="#72ba96" d="M858.5 310.4h10.6v10.6h-10.6z"/><path fill="#60b4a2" d="M868.5 310.4h10.6v10.6h-10.6z"/><path fill="#5aa8b4" d="M878.5 310.4h10.6v10.6h-10.6z"/><path fill="#4ea2c6" d="M888.5 310.4h10.6v10.6h-10.6z"/><path fill="#3696cc" d="M898.5 310.4h10.6v10.6h-10.6z"/><path fill="#3678ba" d="M1188.5 310.4h10.6v10.6h-10.6z"/><path fill="#488aba" d="M1208.5 310.4h10.6v10.6h-10.6z"/><path fill="#549cae" d="M1218.5 310.4h10.6v10.6h-10.6z"/><path fill="#72a896" d="M1228.5 310.4h10.6v10.6h-10.6z"/><path fill="#8aae84" d="M1238.5 310.4h10.6v10.6h-10.6z"/><path fill="#90a27e" d="M1248.5 310.4h10.6v10.6h-10.6z"/><path fill="#969c7e" d="M1258.5 310.4h10.6v10.6h-10.6z"/><path fill="#9c9684" d="M1268.5 310.4h10.6v10.6h-10.6z"/><path fill="#a2907e" d="M1278.5 310.4h10.6v10.6h-10.6z"/><path fill="#9c8a7e" d="M1288.5 310.4h10.6v10.6h-10.6z"/><path fill="#968a7e" d="M1298.5 310.4h10.6v10.6h-10.6z"/><path fill="#3048a2" d="M1108.5 330.5h10.6v10.6h-10.6z"/><path fill="#78181e" d="M637.7 59.8h36.1v6.6h-36.1zM1335.7 59.8h36.8v6.6h-36.8z"/><path fill="#cc2430" d="M637.7 95.7h36.1v6.6h-36.1zM1335.7 95.7h36.8v6.6h-36.8z"/><path fill="#d82a36" d="M637.7 101.7h36.1v6.6h-36.1zM1335.7 101.7h36.8v6.6h-36.8z"/><path fill="#e42a36" d="M637.7 107.7h36.1v6.6h-36.1zM1335.7 107.6h36.8v6.6h-36.8z"/><path fill="#fcae24" d="M637.7 203.6h36.1v6.6h-36.1zM1335.7 203.3h36.8v6.6h-36.8z"/><path fill="#fcd824" d="M637.7 221.5h36.1v6.6h-36.1z"/><path fill="#2ab4ea" d="M637.7 377.2h36.1v6.6h-36.1zM1335.7 376.7h36.8v6.6h-36.8z"/><path fill="#3666ae" d="M637.7 431.2h36.1v6.6h-36.1zM1335.7 430.5h36.8v6.6h-36.8z"/><path fill="#243684" d="M637.7 509.0h36.1v6.6h-36.1zM1335.7 508.2h36.8v6.6h-36.8z"/><path fill="#243078" d="M637.7 515.0h36.1v6.6h-36.1zM1335.7 514.2h36.8v6.6h-36.8z"/><path fill="#c0d848" d="M1335.7 257.1h36.8v6.6h-36.8z"/><path fill="#bad24e" d="M1335.7 263.1h36.8v6.6h-36.8z"/><path fill="#60c0d2" d="M1335.7 346.8h36.8v6.6h-36.8z"/><path fill="#5ac0d8" d="M1335.7 352.8h36.8v6.6h-36.8z"/></svg>
<canvas id="ha" width="491" height="461" style="left:119px;top:60px;width:491px;height:461px"></canvas>
<canvas id="hb" width="490" height="461" style="left:818.5px;top:60px;width:490px;height:461px"></canvas>
<canvas id="ca" width="36" height="461" style="left:637.7px;top:59.8px;width:35.5px;height:461.2px"></canvas>
<canvas id="cb" width="36" height="460" style="left:1335.7px;top:59.8px;width:36.2px;height:460.4px"></canvas>
<svg width="1400" height="1756" viewBox="0 0 1400 1756" style="position:absolute;left:0;top:0">
<path d="M119 310.4H238.8V290.8H488.2V310.4H609.5M119 318.6H609.5" fill="none" stroke="#231f20" stroke-width="2.3"/>
<path d="M816 307.6H937.6V288.6H1185.6V309M818.5 316.1H1308.5M1240.7 299.4H1362.2" fill="none" stroke="#231f20" stroke-width="2.3"/>
<rect x="119.0" y="60.0" width="490.5" height="460.8" fill="none" stroke="#231f20" stroke-width="2.2"/>
<path d="M153.6 60.0v4.5M153.6 520.8v-4.5M119.0 92.6h4.5M609.5 92.6h-4.5" stroke="#231f20" stroke-width="2"/>
<text transform="translate(150.6 556.3) scale(0.88 1)" font-size="35" text-anchor="middle" font-family="Liberation Serif, serif">15</text>
<text transform="translate(134.2 556.3) scale(0.88 1)" font-size="35" text-anchor="end" font-family="Liberation Serif, serif">−</text>
<text transform="translate(82.0 103.2) scale(0.88 1)" font-size="35" text-anchor="middle" font-family="Liberation Serif, serif">−15</text>
<path d="M223.8 60.0v4.5M223.8 520.8v-4.5M119.0 158.5h4.5M609.5 158.5h-4.5" stroke="#231f20" stroke-width="2"/>
<text transform="translate(220.8 556.3) scale(0.88 1)" font-size="35" text-anchor="middle" font-family="Liberation Serif, serif">10</text>
<text transform="translate(204.4 556.3) scale(0.88 1)" font-size="35" text-anchor="end" font-family="Liberation Serif, serif">−</text>
<text transform="translate(82.0 169.1) scale(0.88 1)" font-size="35" text-anchor="middle" font-family="Liberation Serif, serif">−10</text>
<path d="M294.0 60.0v4.5M294.0 520.8v-4.5M119.0 224.4h4.5M609.5 224.4h-4.5" stroke="#231f20" stroke-width="2"/>
<text transform="translate(291.0 556.3) scale(0.88 1)" font-size="35" text-anchor="middle" font-family="Liberation Serif, serif">5</text>
<text transform="translate(282.3 556.3) scale(0.88 1)" font-size="35" text-anchor="end" font-family="Liberation Serif, serif">−</text>
<text transform="translate(82.0 235.0) scale(0.88 1)" font-size="35" text-anchor="middle" font-family="Liberation Serif, serif">−5</text>
<path d="M364.2 60.0v4.5M364.2 520.8v-4.5M119.0 290.3h4.5M609.5 290.3h-4.5" stroke="#231f20" stroke-width="2"/>
<text transform="translate(361.2 556.3) scale(0.88 1)" font-size="35" text-anchor="middle" font-family="Liberation Serif, serif">0</text>
<text transform="translate(83.5 300.9) scale(0.88 1)" font-size="35" text-anchor="middle" font-family="Liberation Serif, serif">0</text>
<path d="M434.4 60.0v4.5M434.4 520.8v-4.5M119.0 356.2h4.5M609.5 356.2h-4.5" stroke="#231f20" stroke-width="2"/>
<text transform="translate(431.4 556.3) scale(0.88 1)" font-size="35" text-anchor="middle" font-family="Liberation Serif, serif">5</text>
<text transform="translate(83.5 366.8) scale(0.88 1)" font-size="35" text-anchor="middle" font-family="Liberation Serif, serif">5</text>
<path d="M504.6 60.0v4.5M504.6 520.8v-4.5M119.0 422.1h4.5M609.5 422.1h-4.5" stroke="#231f20" stroke-width="2"/>
<text transform="translate(501.6 556.3) scale(0.88 1)" font-size="35" text-anchor="middle" font-family="Liberation Serif, serif">10</text>
<text transform="translate(83.5 432.7) scale(0.88 1)" font-size="35" text-anchor="middle" font-family="Liberation Serif, serif">10</text>
<path d="M574.8 60.0v4.5M574.8 520.8v-4.5M119.0 488.0h4.5M609.5 488.0h-4.5" stroke="#231f20" stroke-width="2"/>
<text transform="translate(571.8 556.3) scale(0.88 1)" font-size="35" text-anchor="middle" font-family="Liberation Serif, serif">15</text>
<text transform="translate(83.5 498.6) scale(0.88 1)" font-size="35" text-anchor="middle" font-family="Liberation Serif, serif">15</text>
<rect x="637.7" y="59.8" width="35.5" height="461.2" fill="none" stroke="#231f20" stroke-width="2.2"/>
<path d="M637.7 452.0h4M673.2 452.0h-4" stroke="#231f20" stroke-width="2"/>
<text transform="translate(682.2 463.5) scale(0.88 1)" font-size="35" font-family="Liberation Serif, serif">1</text>
<path d="M637.7 383.0h4M673.2 383.0h-4" stroke="#231f20" stroke-width="2"/>
<text transform="translate(682.2 394.5) scale(0.88 1)" font-size="35" font-family="Liberation Serif, serif">2</text>
<path d="M637.7 314.0h4M673.2 314.0h-4" stroke="#231f20" stroke-width="2"/>
<text transform="translate(682.2 325.5) scale(0.88 1)" font-size="35" font-family="Liberation Serif, serif">3</text>
<path d="M637.7 245.0h4M673.2 245.0h-4" stroke="#231f20" stroke-width="2"/>
<text transform="translate(682.2 256.5) scale(0.88 1)" font-size="35" font-family="Liberation Serif, serif">4</text>
<path d="M637.7 176.0h4M673.2 176.0h-4" stroke="#231f20" stroke-width="2"/>
<text transform="translate(682.2 187.5) scale(0.88 1)" font-size="35" font-family="Liberation Serif, serif">5</text>
<path d="M637.7 107.0h4M673.2 107.0h-4" stroke="#231f20" stroke-width="2"/>
<text transform="translate(682.2 118.5) scale(0.88 1)" font-size="35" font-family="Liberation Serif, serif">6</text>
<rect x="818.5" y="60.0" width="490.0" height="460.8" fill="none" stroke="#231f20" stroke-width="2.2"/>
<path d="M853.7 60.0v4.5M853.7 520.8v-4.5M818.5 92.6h4.5M1308.5 92.6h-4.5" stroke="#231f20" stroke-width="2"/>
<text transform="translate(850.7 556.3) scale(0.88 1)" font-size="35" text-anchor="middle" font-family="Liberation Serif, serif">15</text>
<text transform="translate(834.3 556.3) scale(0.88 1)" font-size="35" text-anchor="end" font-family="Liberation Serif, serif">−</text>
<text transform="translate(781.5 103.2) scale(0.88 1)" font-size="35" text-anchor="middle" font-family="Liberation Serif, serif">−15</text>
<path d="M923.7 60.0v4.5M923.7 520.8v-4.5M818.5 158.5h4.5M1308.5 158.5h-4.5" stroke="#231f20" stroke-width="2"/>
<text transform="translate(920.7 556.3) scale(0.88 1)" font-size="35" text-anchor="middle" font-family="Liberation Serif, serif">10</text>
<text transform="translate(904.3 556.3) scale(0.88 1)" font-size="35" text-anchor="end" font-family="Liberation Serif, serif">−</text>
<text transform="translate(781.5 169.1) scale(0.88 1)" font-size="35" text-anchor="middle" font-family="Liberation Serif, serif">−10</text>
<path d="M993.7 60.0v4.5M993.7 520.8v-4.5M818.5 224.4h4.5M1308.5 224.4h-4.5" stroke="#231f20" stroke-width="2"/>
<text transform="translate(990.7 556.3) scale(0.88 1)" font-size="35" text-anchor="middle" font-family="Liberation Serif, serif">5</text>
<text transform="translate(982.0 556.3) scale(0.88 1)" font-size="35" text-anchor="end" font-family="Liberation Serif, serif">−</text>
<text transform="translate(781.5 235.0) scale(0.88 1)" font-size="35" text-anchor="middle" font-family="Liberation Serif, serif">−5</text>
<path d="M1063.7 60.0v4.5M1063.7 520.8v-4.5M818.5 290.3h4.5M1308.5 290.3h-4.5" stroke="#231f20" stroke-width="2"/>
<text transform="translate(1060.7 556.3) scale(0.88 1)" font-size="35" text-anchor="middle" font-family="Liberation Serif, serif">0</text>
<text transform="translate(783.0 300.9) scale(0.88 1)" font-size="35" text-anchor="middle" font-family="Liberation Serif, serif">0</text>
<path d="M1133.7 60.0v4.5M1133.7 520.8v-4.5M818.5 356.2h4.5M1308.5 356.2h-4.5" stroke="#231f20" stroke-width="2"/>
<text transform="translate(1130.7 556.3) scale(0.88 1)" font-size="35" text-anchor="middle" font-family="Liberation Serif, serif">5</text>
<text transform="translate(783.0 366.8) scale(0.88 1)" font-size="35" text-anchor="middle" font-family="Liberation Serif, serif">5</text>
<path d="M1203.7 60.0v4.5M1203.7 520.8v-4.5M818.5 422.1h4.5M1308.5 422.1h-4.5" stroke="#231f20" stroke-width="2"/>
<text transform="translate(1200.7 556.3) scale(0.88 1)" font-size="35" text-anchor="middle" font-family="Liberation Serif, serif">10</text>
<text transform="translate(783.0 432.7) scale(0.88 1)" font-size="35" text-anchor="middle" font-family="Liberation Serif, serif">10</text>
<path d="M1273.7 60.0v4.5M1273.7 520.8v-4.5M818.5 488.0h4.5M1308.5 488.0h-4.5" stroke="#231f20" stroke-width="2"/>
<text transform="translate(1270.7 556.3) scale(0.88 1)" font-size="35" text-anchor="middle" font-family="Liberation Serif, serif">15</text>
<text transform="translate(783.0 498.6) scale(0.88 1)" font-size="35" text-anchor="middle" font-family="Liberation Serif, serif">15</text>
<rect x="1335.7" y="59.8" width="36.2" height="460.4" fill="none" stroke="#231f20" stroke-width="2.2"/>
<path d="M1335.7 459.2h4M1371.9 459.2h-4" stroke="#231f20" stroke-width="2"/>
<text transform="translate(1380.9 470.7) scale(0.88 1)" font-size="35" font-family="Liberation Serif, serif">1</text>
<path d="M1335.7 398.2h4M1371.9 398.2h-4" stroke="#231f20" stroke-width="2"/>
<text transform="translate(1380.9 409.7) scale(0.88 1)" font-size="35" font-family="Liberation Serif, serif">2</text>
<path d="M1335.7 337.2h4M1371.9 337.2h-4" stroke="#231f20" stroke-width="2"/>
<text transform="translate(1380.9 348.7) scale(0.88 1)" font-size="35" font-family="Liberation Serif, serif">3</text>
<path d="M1335.7 276.2h4M1371.9 276.2h-4" stroke="#231f20" stroke-width="2"/>
<text transform="translate(1380.9 287.7) scale(0.88 1)" font-size="35" font-family="Liberation Serif, serif">4</text>
<path d="M1335.7 215.2h4M1371.9 215.2h-4" stroke="#231f20" stroke-width="2"/>
<text transform="translate(1380.9 226.7) scale(0.88 1)" font-size="35" font-family="Liberation Serif, serif">5</text>
<path d="M1335.7 154.2h4M1371.9 154.2h-4" stroke="#231f20" stroke-width="2"/>
<text transform="translate(1380.9 165.7) scale(0.88 1)" font-size="35" font-family="Liberation Serif, serif">6</text>
<path d="M1335.7 93.2h4M1371.9 93.2h-4" stroke="#231f20" stroke-width="2"/>
<text transform="translate(1380.9 104.7) scale(0.88 1)" font-size="35" font-family="Liberation Serif, serif">7</text>
<text transform="translate(243.4 24.9) scale(1 0.77)" font-size="31" font-family="Liberation Serif, serif">|</text>
<text x="249.8" y="30.3" font-size="31" font-style="italic" font-family="Liberation Serif, serif">H</text>
<text x="274.0" y="39.6" font-size="25" font-style="italic" font-family="Liberation Serif, serif">y</text>
<text transform="translate(283.5 24.9) scale(1 0.77)" font-size="31" font-family="Liberation Serif, serif">|</text>
<text x="289.0" y="30.3" font-size="31" font-family="Liberation Serif, serif">,</text>
<text transform="translate(309.5 30.3) scale(1.08 1)" font-size="31" font-style="italic" font-family="Liberation Serif, serif">λ</text>
<text transform="translate(329.2 30.3) scale(1.25 1)" font-size="31" font-family="Liberation Serif, serif">=</text>
<text transform="translate(355.5 30.3) scale(1.0 1.04)" font-size="32" font-family="Liberation Serif, serif">36.04</text>
<text x="438.0" y="30.3" font-size="31" font-family="Liberation Serif, serif">µm</text>
<text transform="translate(944.5 24.9) scale(1 0.77)" font-size="31" font-family="Liberation Serif, serif">|</text>
<text x="950.9" y="30.3" font-size="31" font-style="italic" font-family="Liberation Serif, serif">H</text>
<text x="976.7" y="39.6" font-size="25" font-style="italic" font-family="Liberation Serif, serif">y</text>
<text transform="translate(986.4 24.9) scale(1 0.77)" font-size="31" font-family="Liberation Serif, serif">|</text>
<text x="992.6" y="30.3" font-size="31" font-family="Liberation Serif, serif">,</text>
<text transform="translate(1012.1 30.3) scale(1.25 1)" font-size="31" font-style="italic" font-family="Liberation Serif, serif">λ</text>
<text transform="translate(1031.8 30.3) scale(1.25 1)" font-size="31" font-family="Liberation Serif, serif">=</text>
<text transform="translate(1058.4 30.3) scale(1.0 1.04)" font-size="32" font-family="Liberation Serif, serif">35.88</text>
<text x="1139.6" y="30.3" font-size="31" font-family="Liberation Serif, serif">µm</text>
<text transform="translate(361.5 600.0) scale(0.94 1)" font-size="33.6" text-anchor="middle" font-family="Liberation Serif, serif"><tspan font-style="italic">X</tspan> (µm)</text>
<text transform="translate(1062.5 600.0) scale(0.94 1)" font-size="33.6" text-anchor="middle" font-family="Liberation Serif, serif"><tspan font-style="italic">X</tspan> (µm)</text>
<text transform="translate(56.0 302.0) rotate(-90) scale(0.97 1)" font-size="33.6" text-anchor="middle" font-family="Liberation Serif, serif"><tspan font-style="italic">Z</tspan> (µm)</text>
<text transform="translate(756.0 302.0) rotate(-90) scale(0.97 1)" font-size="33.6" text-anchor="middle" font-family="Liberation Serif, serif"><tspan font-style="italic">Z</tspan> (µm)</text>
<text x="26.5" y="567" font-size="39" font-family="Liberation Sans, sans-serif" font-weight="bold">(a)</text>
<text x="726.5" y="567" font-size="39" font-family="Liberation Sans, sans-serif" font-weight="bold">(b)</text>
<text x="4.5" y="1147" font-size="39" font-family="Liberation Sans, sans-serif" font-weight="bold">(c)</text>
<text x="778.5" y="1110.5" font-size="39" font-family="Liberation Sans, sans-serif" font-weight="bold">(d)</text>
<text x="4.5" y="1736.5" font-size="39" font-family="Liberation Sans, sans-serif" font-weight="bold">(e)</text>
<text x="779.5" y="1736.5" font-size="39" font-family="Liberation Sans, sans-serif" font-weight="bold">(f)</text>
<path d="M115.0 620.8H1384.6V1649.6H115.0ZM749.7 620.8V1649.6M115.0 1135.3H1384.6" fill="none" stroke="#231f20" stroke-width="2.5"/>
<path d="M115.0 620.8v10.5M115.0 1649.6v10.5M115.0 1124.8v21.0M749.7 620.8v10.5M749.7 1649.6v10.5M749.7 1124.8v21.0M167.9 620.8v5.5M167.9 1649.6v5.5M167.9 1129.8v11.0M802.6 620.8v5.5M802.6 1649.6v5.5M802.6 1129.8v11.0M220.8 620.8v10.5M220.8 1649.6v10.5M220.8 1124.8v21.0M855.5 620.8v10.5M855.5 1649.6v10.5M855.5 1124.8v21.0M273.7 620.8v5.5M273.7 1649.6v5.5M273.7 1129.8v11.0M908.4 620.8v5.5M908.4 1649.6v5.5M908.4 1129.8v11.0M326.6 620.8v10.5M326.6 1649.6v10.5M326.6 1124.8v21.0M961.3 620.8v10.5M961.3 1649.6v10.5M961.3 1124.8v21.0M379.5 620.8v5.5M379.5 1649.6v5.5M379.5 1129.8v11.0M1014.2 620.8v5.5M1014.2 1649.6v5.5M1014.2 1129.8v11.0M432.4 620.8v10.5M432.4 1649.6v10.5M432.4 1124.8v21.0M1067.1 620.8v10.5M1067.1 1649.6v10.5M1067.1 1124.8v21.0M485.2 620.8v5.5M485.2 1649.6v5.5M485.2 1129.8v11.0M1119.9 620.8v5.5M1119.9 1649.6v5.5M1119.9 1129.8v11.0M538.1 620.8v10.5M538.1 1649.6v10.5M538.1 1124.8v21.0M1172.8 620.8v10.5M1172.8 1649.6v10.5M1172.8 1124.8v21.0M591.0 620.8v5.5M591.0 1649.6v5.5M591.0 1129.8v11.0M1225.7 620.8v5.5M1225.7 1649.6v5.5M1225.7 1129.8v11.0M643.9 620.8v10.5M643.9 1649.6v10.5M643.9 1124.8v21.0M1278.6 620.8v10.5M1278.6 1649.6v10.5M1278.6 1124.8v21.0M696.8 620.8v5.5M696.8 1649.6v5.5M696.8 1129.8v11.0M1331.5 620.8v5.5M1331.5 1649.6v5.5M1331.5 1129.8v11.0M749.7 620.8v10.5M749.7 1649.6v10.5M749.7 1124.8v21.0M1384.4 620.8v10.5M1384.4 1649.6v10.5M1384.4 1124.8v21.0M104.5 1135.3h10.5M739.2 1135.3h21.0M1384.6 1135.3h-10.5M104.5 1649.6h10.5M739.2 1649.6h21.0M1384.6 1649.6h-10.5M109.5 1083.8h5.5M744.2 1083.8h11.0M1384.6 1083.8h-5.5M109.5 1598.1h5.5M744.2 1598.1h11.0M1384.6 1598.1h-5.5M104.5 1032.4h10.5M739.2 1032.4h21.0M1384.6 1032.4h-10.5M104.5 1546.7h10.5M739.2 1546.7h21.0M1384.6 1546.7h-10.5M109.5 980.9h5.5M744.2 980.9h11.0M1384.6 980.9h-5.5M109.5 1495.2h5.5M744.2 1495.2h11.0M1384.6 1495.2h-5.5M104.5 929.5h10.5M739.2 929.5h21.0M1384.6 929.5h-10.5M104.5 1443.8h10.5M739.2 1443.8h21.0M1384.6 1443.8h-10.5M109.5 878.0h5.5M744.2 878.0h11.0M1384.6 878.0h-5.5M109.5 1392.3h5.5M744.2 1392.3h11.0M1384.6 1392.3h-5.5M104.5 826.6h10.5M739.2 826.6h21.0M1384.6 826.6h-10.5M104.5 1340.9h10.5M739.2 1340.9h21.0M1384.6 1340.9h-10.5M109.5 775.1h5.5M744.2 775.1h11.0M1384.6 775.1h-5.5M109.5 1289.4h5.5M744.2 1289.4h11.0M1384.6 1289.4h-5.5M104.5 723.7h10.5M739.2 723.7h21.0M1384.6 723.7h-10.5M104.5 1238.0h10.5M739.2 1238.0h21.0M1384.6 1238.0h-10.5M109.5 672.2h5.5M744.2 672.2h11.0M1384.6 672.2h-5.5M109.5 1186.5h5.5M744.2 1186.5h11.0M1384.6 1186.5h-5.5M104.5 620.8h10.5M739.2 620.8h21.0M1384.6 620.8h-10.5M104.5 1135.1h10.5M739.2 1135.1h21.0M1384.6 1135.1h-10.5" stroke="#231f20" stroke-width="2.3"/>
<text transform="translate(93.0 1145.6) scale(0.88 1)" font-size="35" text-anchor="end" font-family="Liberation Serif, serif">0.0</text>
<text transform="translate(93.0 1042.7) scale(0.88 1)" font-size="35" text-anchor="end" font-family="Liberation Serif, serif">0.2</text>
<text transform="translate(93.0 939.8) scale(0.88 1)" font-size="35" text-anchor="end" font-family="Liberation Serif, serif">0.4</text>
<text transform="translate(93.0 836.9) scale(0.88 1)" font-size="35" text-anchor="end" font-family="Liberation Serif, serif">0.6</text>
<text transform="translate(93.0 734.0) scale(0.88 1)" font-size="35" text-anchor="end" font-family="Liberation Serif, serif">0.8</text>
<text transform="translate(93.0 631.1) scale(0.88 1)" font-size="35" text-anchor="end" font-family="Liberation Serif, serif">1.0</text>
<text transform="translate(93.0 1659.9) scale(0.88 1)" font-size="35" text-anchor="end" font-family="Liberation Serif, serif">0.0</text>
<text transform="translate(93.0 1557.0) scale(0.88 1)" font-size="35" text-anchor="end" font-family="Liberation Serif, serif">0.2</text>
<text transform="translate(93.0 1454.1) scale(0.88 1)" font-size="35" text-anchor="end" font-family="Liberation Serif, serif">0.4</text>
<text transform="translate(93.0 1351.2) scale(0.88 1)" font-size="35" text-anchor="end" font-family="Liberation Serif, serif">0.6</text>
<text transform="translate(93.0 1248.3) scale(0.88 1)" font-size="35" text-anchor="end" font-family="Liberation Serif, serif">0.8</text>
<text transform="translate(112.5 1693.8) scale(0.88 1)" font-size="35" text-anchor="middle" font-family="Liberation Serif, serif">33</text>
<text transform="translate(218.3 1693.8) scale(0.88 1)" font-size="35" text-anchor="middle" font-family="Liberation Serif, serif">34</text>
<text transform="translate(324.1 1693.8) scale(0.88 1)" font-size="35" text-anchor="middle" font-family="Liberation Serif, serif">35</text>
<text transform="translate(429.9 1693.8) scale(0.88 1)" font-size="35" text-anchor="middle" font-family="Liberation Serif, serif">36</text>
<text transform="translate(535.6 1693.8) scale(0.88 1)" font-size="35" text-anchor="middle" font-family="Liberation Serif, serif">37</text>
<text transform="translate(641.4 1693.8) scale(0.88 1)" font-size="35" text-anchor="middle" font-family="Liberation Serif, serif">38</text>
<text transform="translate(747.2 1693.8) scale(0.88 1)" font-size="35" text-anchor="middle" font-family="Liberation Serif, serif">33</text>
<text transform="translate(853.0 1693.8) scale(0.88 1)" font-size="35" text-anchor="middle" font-family="Liberation Serif, serif">34</text>
<text transform="translate(958.8 1693.8) scale(0.88 1)" font-size="35" text-anchor="middle" font-family="Liberation Serif, serif">35</text>
<text transform="translate(1064.6 1693.8) scale(0.88 1)" font-size="35" text-anchor="middle" font-family="Liberation Serif, serif">36</text>
<text transform="translate(1170.3 1693.8) scale(0.88 1)" font-size="35" text-anchor="middle" font-family="Liberation Serif, serif">37</text>
<text transform="translate(1276.1 1693.8) scale(0.88 1)" font-size="35" text-anchor="middle" font-family="Liberation Serif, serif">38</text>
<text transform="translate(1381.9 1693.8) scale(0.88 1)" font-size="35" text-anchor="middle" font-family="Liberation Serif, serif">39</text>
<text transform="translate(432.0 1747.5) scale(0.89 1)" font-size="33.6" text-anchor="middle" font-family="Liberation Serif, serif">Wavelength (µm)</text>
<text transform="translate(1067.0 1747.5) scale(0.89 1)" font-size="33.6" text-anchor="middle" font-family="Liberation Serif, serif">Wavelength (µm)</text>
<text transform="translate(28.5 878.1) rotate(-90) scale(0.89 1)" font-size="33.6" text-anchor="middle" font-family="Liberation Serif, serif">Reflection</text>
<text transform="translate(28.5 1393.0) rotate(-90) scale(0.89 1)" font-size="33.6" text-anchor="middle" font-family="Liberation Serif, serif">Reflection</text>
<g>
<path d="M115.0 1089.4C121.8 1092.1 128.0 1094.4 135.5 1097.6C144.8 1101.6 155.9 1107.5 166.2 1112.0C176.4 1116.4 188.3 1121.5 197.0 1124.3C203.2 1126.3 208.6 1128.7 213.4 1128.4C217.3 1128.1 220.6 1127.0 223.6 1124.3C227.9 1120.3 231.1 1112.3 233.9 1103.8C237.9 1091.5 239.4 1073.4 242.0 1056.6C244.9 1037.5 247.4 1015.6 250.2 995.2C253.0 975.0 255.8 954.3 258.6 935.0C261.2 917.0 263.6 898.7 266.6 883.0C269.1 869.8 271.9 858.8 275.0 847.0C278.0 835.5 281.2 823.0 285.0 813.0C288.1 804.7 291.9 797.4 295.3 791.0C298.1 785.7 300.8 782.5 303.7 777.0C307.6 769.6 311.0 757.9 315.6 750.0C319.7 743.0 324.6 735.7 329.3 731.5C332.7 728.5 336.2 727.5 339.6 725.4C343.0 723.2 346.3 720.6 349.8 718.6C353.1 716.7 356.4 714.6 360.0 713.6C363.6 712.6 367.7 711.9 371.4 712.6C375.3 713.3 379.6 715.7 382.9 718.0C386.0 720.1 388.6 722.7 390.8 725.4C392.9 728.0 394.5 730.6 396.0 734.0C398.0 738.3 399.3 743.8 401.0 749.3C402.9 755.5 405.0 761.0 406.8 769.3C409.5 782.2 411.4 800.3 413.7 819.5C416.8 845.4 420.1 881.2 422.8 910.6C425.3 938.0 426.8 966.3 429.6 990.3C431.9 1010.3 434.9 1045.0 437.6 1045.0C440.3 1045.0 442.9 1009.6 445.6 990.3C448.6 968.8 451.8 945.7 454.7 922.0C457.9 896.4 460.6 867.3 463.8 842.2C466.7 819.8 469.1 797.9 472.9 778.5C476.1 761.9 479.9 746.0 484.3 732.9C487.8 722.5 490.6 711.8 495.7 705.6C499.5 700.9 504.2 698.3 509.3 696.4C514.7 694.4 522.2 693.9 527.6 694.2C532.0 694.4 535.3 695.4 539.3 696.8C543.9 698.4 549.6 701.0 553.6 703.9C557.2 706.5 559.7 709.4 562.5 712.9C565.7 716.9 568.6 721.9 571.4 727.1C574.6 733.0 577.4 740.2 580.4 746.8C583.4 753.3 586.1 759.9 589.3 766.4C592.6 773.0 596.0 779.5 600.0 786.1C604.3 793.2 609.4 800.8 614.3 807.5C618.9 813.8 623.6 820.2 628.6 825.4C633.2 830.2 637.8 833.9 642.9 837.9C648.4 842.2 654.7 846.5 660.7 850.4C666.6 854.2 672.6 857.7 678.6 861.1C684.5 864.5 690.4 867.9 696.4 870.9C702.3 873.8 708.3 876.4 714.3 878.9C720.2 881.4 726.1 884.0 732.1 886.1C738.0 888.2 744.0 889.6 750.0 891.4" fill="none" stroke="#231f20" stroke-width="2.0" stroke-linejoin="round" stroke-linecap="round"/>
<path d="M115.0 1089.4C121.8 1092.1 128.0 1094.4 135.5 1097.6C144.8 1101.6 155.9 1107.5 166.2 1112.0C176.4 1116.4 188.3 1121.5 197.0 1124.3C203.2 1126.3 208.6 1128.7 213.4 1128.4C217.3 1128.1 220.6 1127.0 223.6 1124.3C227.9 1120.3 231.1 1112.3 233.9 1103.8C237.9 1091.5 239.4 1073.4 242.0 1056.6C244.9 1037.5 247.4 1015.6 250.2 995.2C253.0 975.0 255.8 954.3 258.6 935.0C261.2 917.0 263.6 898.7 266.6 883.0C269.1 869.8 271.9 858.8 275.0 847.0C278.0 835.5 281.2 823.0 285.0 813.0C288.1 804.7 291.8 797.3 295.3 791.0C298.1 786.0 301.0 782.9 304.0 778.0C307.7 771.9 311.6 763.1 315.6 757.0C319.0 751.9 321.7 746.7 325.9 743.5C329.8 740.6 334.7 739.6 339.6 738.2C344.9 736.7 352.0 734.3 356.6 734.8C360.0 735.2 362.9 736.9 365.2 738.5C367.0 739.8 368.2 740.9 369.5 743.0C371.5 746.1 373.2 750.5 374.9 756.1C377.7 765.3 379.8 780.2 382.3 793.7C385.2 809.5 388.2 827.5 390.8 845.0C393.6 863.3 395.7 901.2 398.5 901.3C400.9 901.3 403.8 873.7 406.2 858.0C409.0 839.4 410.9 815.7 413.7 796.7C416.1 780.0 417.1 761.9 421.7 750.0C424.9 741.7 429.8 731.3 434.3 730.6C437.9 730.0 442.6 735.2 445.7 740.0C450.4 747.4 452.0 760.5 454.7 773.9C458.4 792.6 461.2 818.5 463.8 842.2C466.6 867.7 468.4 895.2 470.6 922.0C472.8 949.1 474.8 1004.0 477.0 1004.0C478.7 1004.0 480.3 974.6 482.0 956.1C484.3 930.6 486.2 895.4 488.8 865.0C491.5 834.6 494.5 795.7 497.9 773.9C499.8 761.5 501.6 754.4 504.0 745.0C506.3 735.8 508.1 725.0 512.0 718.0C515.0 712.7 518.7 708.2 523.0 705.6C527.0 703.2 532.1 702.1 536.7 702.1C541.2 702.1 546.1 703.2 550.3 705.6C555.3 708.4 560.2 714.2 564.0 719.2C567.7 724.0 570.0 729.7 573.0 735.0C576.0 740.3 579.3 745.5 582.2 751.1C585.3 757.1 588.0 763.8 591.0 770.0C593.9 776.1 596.4 781.9 600.0 788.0C604.0 794.9 609.4 802.4 614.3 809.0C618.9 815.2 623.6 821.3 628.6 826.5C633.2 831.2 637.8 835.0 642.9 839.0C648.4 843.3 654.7 847.6 660.7 851.5C666.6 855.3 672.6 858.6 678.6 862.0C684.5 865.4 690.4 869.0 696.4 872.0C702.3 875.0 708.3 877.5 714.3 880.0C720.2 882.5 726.1 884.9 732.1 887.0C738.0 889.1 744.0 890.7 750.0 892.5" fill="none" stroke="#58595b" stroke-width="3.0" stroke-linejoin="round" stroke-linecap="round"/>
<path d="M115.0 1089.4C121.8 1092.1 128.0 1094.4 135.5 1097.6C144.8 1101.6 155.9 1107.5 166.2 1112.0C176.4 1116.4 188.3 1121.5 197.0 1124.3C203.2 1126.3 208.6 1128.7 213.4 1128.4C217.3 1128.1 220.6 1127.0 223.6 1124.3C227.9 1120.3 231.1 1112.3 233.9 1103.8C237.9 1091.5 239.4 1073.4 242.0 1056.6C244.9 1037.5 247.4 1015.6 250.2 995.2C253.0 975.0 255.8 954.3 258.6 935.0C261.2 917.0 263.6 898.7 266.6 883.0C269.1 869.8 271.9 858.8 275.0 847.0C278.0 835.5 281.2 823.0 285.0 813.0C288.1 804.7 291.6 796.9 295.3 791.0C298.1 786.5 301.0 784.1 304.0 780.0C307.6 775.0 311.6 767.8 315.0 763.0C317.6 759.3 319.5 755.8 322.5 753.5C325.4 751.3 329.3 749.4 332.7 749.3C336.1 749.2 340.0 750.3 343.0 752.7C347.1 756.0 350.1 763.0 353.2 769.8C357.2 778.7 360.5 790.6 363.5 802.3C366.9 815.5 369.2 831.2 372.0 845.0C374.6 857.9 377.0 882.4 379.7 882.5C382.1 882.6 385.0 864.6 387.4 853.5C390.5 838.9 393.4 814.8 395.9 802.3C397.4 795.0 398.4 791.8 400.0 785.0C402.2 775.4 404.2 760.5 408.0 750.0C411.3 740.7 414.9 731.3 420.6 724.9C425.8 719.1 433.5 715.4 440.0 712.3C445.7 709.6 451.4 708.5 457.1 706.6C462.8 704.7 469.0 703.0 474.3 700.9C479.2 699.0 484.7 697.2 488.0 694.5C490.6 692.4 491.9 689.6 493.5 687.0C495.0 684.5 496.0 679.2 497.3 679.2C498.5 679.2 499.8 683.6 501.0 686.0C502.3 688.6 503.6 690.4 504.8 694.2C507.2 701.6 509.6 714.9 511.6 728.3C514.4 747.1 516.3 773.0 518.5 796.7C520.9 822.2 523.0 851.2 525.3 876.4C527.4 899.2 529.3 941.5 531.5 941.5C533.4 941.5 535.7 910.4 537.5 893.2C539.6 873.7 540.9 849.8 542.9 830.7C544.6 814.6 546.1 799.0 548.2 786.1C549.8 776.0 550.6 766.5 553.6 759.3C555.9 753.8 559.3 746.3 562.5 745.9C565.3 745.5 568.7 750.4 571.4 753.9C574.8 758.3 577.4 765.2 580.4 771.0C583.4 776.9 586.1 783.1 589.3 789.0C592.6 795.1 596.0 801.0 600.0 807.0C604.3 813.4 609.3 820.2 614.3 826.0C618.9 831.3 623.7 836.2 628.6 840.5C633.2 844.5 637.8 847.7 642.9 851.0C648.4 854.6 654.7 857.9 660.7 861.0C666.6 864.1 672.6 867.0 678.6 869.5C684.5 872.0 690.4 873.9 696.4 876.0C702.3 878.1 708.3 880.0 714.3 882.0C720.2 884.0 726.1 886.1 732.1 888.0C738.0 889.9 744.0 891.7 750.0 893.5" fill="none" stroke="#77787b" stroke-width="3.0" stroke-linejoin="round" stroke-linecap="round"/>
<path d="M115.0 1089.4C121.8 1092.1 128.0 1094.4 135.5 1097.6C144.8 1101.6 155.9 1107.5 166.2 1112.0C176.4 1116.4 188.3 1121.5 197.0 1124.3C203.2 1126.3 208.6 1128.7 213.4 1128.4C217.3 1128.1 220.6 1127.0 223.6 1124.3C227.9 1120.3 231.1 1112.3 233.9 1103.8C237.9 1091.5 239.4 1073.4 242.0 1056.6C244.9 1037.5 247.4 1015.6 250.2 995.2C253.0 975.0 255.8 954.3 258.6 935.0C261.2 917.0 263.6 898.7 266.6 883.0C269.1 869.8 271.9 858.8 275.0 847.0C278.0 835.5 281.2 823.0 285.0 813.0C288.1 804.7 291.6 796.9 295.3 791.0C298.1 786.5 301.0 784.1 304.0 780.0C307.6 775.0 310.8 766.9 315.0 763.0C318.3 759.9 322.0 757.2 325.9 757.0C330.2 756.8 335.9 759.3 339.6 763.0C344.4 767.7 346.9 776.9 349.8 785.2C353.3 795.2 355.5 808.5 358.3 819.3C360.9 829.2 363.2 847.3 366.0 847.5C368.4 847.6 371.3 835.6 373.7 827.9C376.9 817.4 378.9 802.7 382.3 790.0C385.8 776.8 389.5 761.7 394.3 750.0C398.3 740.1 402.6 730.7 408.0 723.7C412.4 717.9 417.4 713.5 422.9 710.0C428.1 706.7 433.8 704.9 440.0 703.1C447.0 701.0 455.2 699.5 462.9 698.6C470.5 697.7 479.0 697.3 485.7 697.4C491.0 697.5 495.0 697.8 500.0 698.6C505.7 699.5 512.0 701.0 517.9 703.0C523.9 705.1 529.9 707.8 535.7 711.1C541.8 714.6 548.7 718.9 553.6 723.6C558.0 727.9 561.3 732.8 564.3 737.9C567.2 742.9 568.9 748.3 571.4 753.9C574.2 760.1 577.4 767.0 580.4 773.6C583.4 780.1 586.3 786.0 589.3 793.2C592.8 801.8 597.1 813.4 600.0 821.8C602.2 828.4 603.9 833.8 605.4 839.6C606.8 845.1 606.3 853.0 608.9 855.7C610.7 857.5 613.4 857.4 616.1 857.5C619.7 857.7 624.3 855.5 628.6 855.7C633.2 855.9 637.9 857.9 642.9 859.3C648.5 860.8 654.8 862.8 660.7 864.6C666.7 866.4 672.6 868.2 678.6 870.0C684.5 871.8 690.5 873.7 696.4 875.4C702.4 877.2 708.4 878.6 714.3 880.5C720.3 882.4 726.1 885.0 732.1 887.0C738.0 889.0 744.0 890.5 750.0 892.3" fill="none" stroke="#9d9fa2" stroke-width="3.0" stroke-linejoin="round" stroke-linecap="round"/>
<path d="M115.0 1089.4C121.8 1092.1 128.0 1094.4 135.5 1097.6C144.8 1101.6 155.9 1107.5 166.2 1112.0C176.4 1116.4 188.3 1121.5 197.0 1124.3C203.2 1126.3 208.6 1128.7 213.4 1128.4C217.3 1128.1 220.6 1127.0 223.6 1124.3C227.9 1120.3 231.1 1112.3 233.9 1103.8C237.9 1091.5 239.4 1073.4 242.0 1056.6C244.9 1037.5 247.4 1015.6 250.2 995.2C253.0 975.0 255.8 954.3 258.6 935.0C261.2 917.0 263.6 898.7 266.6 883.0C269.1 869.8 271.9 858.8 275.0 847.0C278.0 835.5 281.2 823.0 285.0 813.0C288.1 804.7 291.6 796.9 295.3 791.0C298.1 786.5 301.0 784.1 304.0 780.0C307.6 775.0 310.8 766.8 315.0 763.0C318.3 760.0 322.2 757.1 325.9 757.5C330.3 757.9 335.8 763.3 339.6 768.1C344.1 773.8 346.4 783.1 349.8 790.3C353.0 797.1 356.2 809.9 359.2 809.9C361.9 809.9 364.4 800.2 366.9 793.7C370.4 784.5 373.2 771.0 377.1 759.6C381.2 747.7 385.2 732.9 390.9 723.7C395.2 716.8 399.8 712.2 405.7 707.7C412.1 702.9 420.8 698.9 428.6 696.3C436.0 693.9 443.8 693.4 451.4 692.3C459.0 691.3 466.7 690.4 474.3 690.0C481.9 689.6 489.7 689.4 497.1 690.0C504.2 690.5 511.3 691.4 517.9 693.2C524.2 694.9 529.9 697.5 535.7 700.4C541.8 703.4 548.9 707.1 553.6 711.1C557.4 714.4 559.7 717.9 562.5 721.8C565.6 726.1 568.5 731.1 571.4 736.1C574.5 741.4 577.4 747.4 580.4 753.0C583.4 758.7 586.1 764.3 589.3 770.0C592.6 776.0 596.1 781.8 600.0 788.0C604.3 794.8 609.4 802.4 614.3 809.0C618.9 815.2 623.6 821.3 628.6 826.5C633.2 831.2 637.8 835.0 642.9 839.0C648.4 843.3 654.7 847.6 660.7 851.5C666.6 855.4 672.6 858.9 678.6 862.5C684.5 866.1 692.3 869.7 696.4 873.0C699.0 875.1 700.5 876.5 702.0 879.0C703.7 881.9 703.6 887.2 705.4 889.6C706.8 891.4 707.9 892.2 710.7 893.2C717.6 895.7 736.9 895.6 750.0 896.8" fill="none" stroke="#c7c8ca" stroke-width="3.0" stroke-linejoin="round" stroke-linecap="round"/>
<path d="M750.0 950.4C758.0 949.6 766.2 947.8 773.9 948.0C781.1 948.2 788.8 951.0 794.7 951.2C799.0 951.4 802.3 951.7 805.8 950.4C809.7 949.0 812.9 945.5 817.0 942.4C822.2 938.4 828.4 933.0 834.5 928.1C841.1 922.9 849.6 918.0 855.3 912.1C860.5 906.7 864.5 901.8 868.0 894.6C872.5 885.2 874.6 872.2 877.6 859.5C881.1 844.8 883.9 826.8 887.2 811.6C890.3 797.7 893.5 784.5 896.7 771.8C899.6 760.1 902.0 746.3 905.5 738.3C907.7 733.3 909.8 730.9 912.7 727.1C916.2 722.7 920.5 717.1 925.4 713.6C930.1 710.2 936.2 708.1 941.4 706.4C946.1 704.9 950.7 703.3 955.4 703.6C960.5 703.9 965.9 706.0 970.8 708.7C976.2 711.7 981.7 716.1 986.2 721.5C991.3 727.7 995.4 735.8 999.0 744.6C1003.3 755.0 1006.2 768.3 1009.2 780.5C1012.2 793.1 1014.2 804.8 1016.9 819.0C1020.2 836.5 1023.9 857.8 1027.2 877.9C1030.7 898.8 1034.4 920.7 1037.4 942.1C1040.4 963.4 1042.9 986.0 1045.1 1006.2C1047.1 1024.2 1048.4 1041.6 1050.3 1057.4C1051.9 1071.2 1053.5 1095.8 1055.4 1095.9C1057.0 1096.0 1059.0 1080.3 1060.5 1070.3C1062.6 1056.2 1063.7 1037.8 1065.6 1019.0C1067.9 996.0 1070.7 967.7 1073.3 942.1C1075.9 916.4 1078.3 889.6 1081.0 865.1C1083.5 842.7 1085.5 821.1 1088.7 801.0C1091.6 782.9 1094.6 764.8 1099.0 749.7C1102.6 737.2 1107.0 726.0 1111.8 716.4C1115.7 708.5 1119.9 700.6 1124.6 695.9C1128.0 692.4 1131.3 690.7 1135.4 688.9C1140.0 686.9 1145.6 685.2 1150.9 685.1C1156.5 685.0 1162.7 687.1 1168.2 688.9C1173.6 690.7 1178.9 692.6 1183.6 695.7C1188.5 698.9 1193.3 703.3 1197.1 708.2C1201.1 713.3 1203.5 718.8 1206.8 725.6C1211.2 734.7 1215.5 747.5 1220.3 758.4C1225.1 769.4 1229.9 780.5 1235.7 791.1C1241.5 801.7 1248.2 812.7 1255.0 822.0C1261.2 830.5 1267.0 837.3 1274.3 845.1C1282.7 854.0 1293.2 864.3 1303.2 872.2C1312.5 879.6 1322.2 885.9 1332.1 891.4C1341.6 896.7 1351.8 900.9 1361.1 904.9C1369.5 908.5 1377.2 911.4 1385.2 914.6" fill="none" stroke="#7a0e14" stroke-width="3.2" stroke-linejoin="round" stroke-linecap="round"/>
<path d="M750.0 951.2C758.0 950.5 766.2 949.4 773.9 949.0C781.1 948.6 789.3 950.5 794.7 948.8C798.7 947.6 800.8 945.2 804.2 942.4C808.7 938.7 813.7 932.6 818.6 928.1C823.3 923.8 828.2 919.7 832.9 916.1C837.2 912.8 841.3 909.9 845.7 907.3C849.9 904.9 854.9 904.0 858.5 901.0C862.4 897.8 865.2 893.6 868.0 888.2C871.9 880.8 874.6 869.8 877.6 859.5C881.0 847.7 883.7 832.8 887.2 821.2C890.2 811.3 892.8 802.3 896.7 794.1C900.3 786.5 904.8 779.0 909.5 773.4C913.4 768.7 917.8 764.8 922.2 762.2C925.8 760.0 929.7 758.1 933.4 758.2C937.2 758.3 941.8 760.5 944.6 763.0C947.3 765.4 948.4 768.5 950.3 772.8C953.6 780.1 957.4 792.1 960.5 803.6C964.4 817.9 967.5 835.3 970.8 852.3C974.4 871.0 977.5 892.2 981.0 911.3C984.3 929.3 987.8 963.8 991.3 963.8C994.6 963.8 998.4 934.2 1001.5 916.4C1005.4 893.9 1008.2 863.9 1011.8 839.5C1015.1 817.1 1017.5 793.9 1022.0 775.4C1025.6 760.8 1029.6 746.5 1034.9 736.9C1038.7 730.2 1043.4 724.3 1047.7 721.5C1050.7 719.6 1053.8 718.1 1056.7 719.0C1060.7 720.2 1064.9 726.2 1068.2 731.8C1072.7 739.5 1075.7 750.9 1078.5 762.6C1082.1 777.4 1084.2 795.0 1086.2 813.8C1088.7 836.8 1089.7 864.2 1091.3 890.8C1093.1 919.6 1094.7 952.5 1096.4 980.5C1097.9 1005.1 1099.2 1049.7 1101.0 1049.7C1102.7 1049.7 1104.8 1014.9 1106.7 993.3C1109.3 964.2 1111.7 923.8 1114.4 890.8C1116.9 859.9 1119.2 827.4 1122.1 801.0C1124.4 780.0 1126.1 760.8 1129.7 744.6C1132.5 731.9 1134.3 719.6 1140.0 711.3C1144.7 704.5 1152.3 698.8 1158.6 696.6C1163.7 694.8 1169.1 695.6 1174.0 696.6C1178.8 697.6 1183.3 699.5 1187.5 702.4C1192.3 705.7 1197.4 711.0 1201.0 715.9C1204.4 720.6 1206.2 725.0 1209.0 731.0C1212.8 739.2 1216.6 750.9 1221.0 761.0C1225.6 771.6 1230.4 782.6 1236.0 793.0C1241.7 803.5 1248.3 814.3 1255.0 823.5C1261.1 831.9 1267.0 838.8 1274.3 846.5C1282.7 855.4 1293.2 865.7 1303.2 873.5C1312.5 880.8 1322.3 886.9 1332.1 892.5C1341.6 897.9 1351.8 902.4 1361.1 906.5C1369.4 910.1 1377.2 912.8 1385.2 916.0" fill="none" stroke="#ee2a3a" stroke-width="3.0" stroke-linejoin="round" stroke-linecap="round"/>
<path d="M750.0 948.0C758.0 946.4 766.2 944.3 773.9 943.2C781.0 942.2 788.3 942.6 794.7 941.6C800.4 940.7 805.2 939.6 810.6 937.6C816.8 935.3 823.0 931.7 829.7 928.1C837.3 923.9 847.1 919.4 853.7 913.7C859.6 908.6 863.9 903.5 868.0 896.2C873.4 886.6 876.4 871.3 880.8 859.5C884.9 848.4 889.3 836.6 893.5 827.6C896.7 820.8 899.3 813.9 903.1 810.0C905.9 807.1 909.4 804.6 912.7 804.5C916.2 804.4 920.6 806.9 923.8 810.0C927.8 813.9 930.7 820.7 933.4 827.6C936.9 836.5 939.0 848.9 941.4 859.5C943.8 870.0 945.7 879.8 947.7 890.8C949.9 902.9 951.4 918.9 954.1 929.2C956.0 936.4 958.4 947.3 960.5 947.2C963.2 947.1 965.9 928.0 968.2 916.4C971.2 901.5 973.0 882.6 975.9 865.1C979.0 846.7 981.9 825.6 986.2 808.7C989.8 794.5 993.8 781.6 999.0 770.3C1003.5 760.6 1008.7 751.3 1014.4 744.6C1019.1 739.1 1024.5 736.4 1029.7 731.8C1035.5 726.7 1041.2 719.8 1047.7 715.1C1054.1 710.5 1060.8 706.5 1068.2 703.6C1076.1 700.5 1085.7 699.2 1093.8 697.2C1101.0 695.4 1109.0 694.9 1114.4 692.1C1118.7 689.8 1121.5 686.6 1124.6 683.1C1127.9 679.4 1131.0 670.3 1133.4 670.6C1135.8 670.9 1137.1 679.4 1139.0 684.0C1141.0 688.8 1143.4 692.0 1145.1 698.6C1148.3 711.3 1149.1 735.7 1150.9 756.4C1153.0 780.3 1154.8 807.9 1156.6 833.6C1158.4 859.3 1160.0 888.1 1161.5 910.7C1162.7 928.4 1163.4 958.0 1164.7 958.0C1166.0 958.0 1167.7 928.4 1169.2 910.7C1171.1 888.1 1172.7 857.0 1175.0 833.6C1177.0 814.0 1178.7 794.4 1181.7 779.6C1183.9 769.0 1186.1 759.3 1189.4 752.6C1191.6 748.0 1194.2 742.6 1197.1 742.0C1199.5 741.5 1202.4 744.1 1204.9 746.8C1209.1 751.4 1212.2 761.8 1216.4 769.9C1221.1 779.0 1226.0 789.8 1231.9 798.9C1237.6 807.8 1244.2 815.7 1251.1 823.9C1258.3 832.4 1265.9 840.9 1274.3 849.0C1283.2 857.6 1293.3 866.6 1303.2 874.1C1312.6 881.3 1322.3 887.6 1332.1 893.4C1341.6 899.1 1351.7 904.6 1361.1 908.8C1369.4 912.5 1377.2 914.6 1385.2 917.5" fill="none" stroke="#ee1660" stroke-width="3.0" stroke-linejoin="round" stroke-linecap="round"/>
<path d="M750.0 952.0C758.0 950.9 765.9 949.5 773.9 948.8C781.9 948.1 790.6 948.5 797.8 948.0C803.7 947.6 808.4 947.9 813.8 946.4C820.0 944.7 826.7 941.6 832.9 937.6C840.0 933.1 847.7 926.4 853.7 920.1C859.3 914.2 863.8 908.6 868.0 901.0C873.1 891.7 876.6 878.0 880.8 867.5C884.6 858.0 887.4 846.4 892.0 840.4C895.1 836.4 899.0 832.5 902.3 832.4C905.3 832.4 908.6 835.7 911.1 838.8C914.5 842.9 916.6 849.3 919.1 856.3C922.6 865.9 924.7 882.2 928.6 891.4C931.4 898.0 935.3 907.3 938.2 907.3C940.6 907.3 942.8 900.6 944.6 896.2C946.9 890.5 948.3 884.1 950.0 875.4C952.8 861.3 954.6 836.5 957.9 819.0C960.8 803.5 964.0 788.5 968.2 775.4C971.9 764.1 975.6 752.7 981.0 744.6C985.4 738.1 990.6 733.6 996.4 729.2C1002.5 724.6 1009.6 721.5 1016.9 717.7C1024.9 713.4 1033.9 708.6 1042.6 704.9C1051.0 701.3 1059.6 698.0 1068.2 695.9C1076.6 693.8 1085.2 693.0 1093.8 692.1C1102.3 691.3 1111.5 690.4 1119.5 690.8C1126.5 691.2 1132.8 692.2 1139.3 693.8C1145.9 695.4 1152.4 697.3 1158.6 700.5C1165.3 703.9 1172.1 708.8 1177.9 714.0C1183.7 719.1 1188.6 725.1 1193.3 731.4C1198.2 737.9 1202.9 745.2 1206.8 752.6C1210.6 760.0 1213.1 767.4 1216.4 775.7C1220.2 785.2 1224.5 797.5 1228.0 806.6C1230.8 813.8 1233.6 819.4 1235.7 825.9C1237.7 832.2 1239.1 839.3 1240.5 845.1C1241.6 850.0 1241.2 855.7 1243.4 858.6C1245.2 860.9 1248.1 861.3 1251.1 862.5C1254.9 864.0 1259.8 864.5 1264.6 866.4C1270.6 868.7 1276.8 872.4 1283.9 876.0C1292.6 880.5 1303.2 886.6 1312.9 891.4C1322.5 896.2 1331.1 900.4 1341.8 904.9C1354.7 910.3 1370.7 915.8 1385.2 921.3" fill="none" stroke="#f26b2a" stroke-width="3.0" stroke-linejoin="round" stroke-linecap="round"/>
<path d="M750.0 955.2C758.0 954.4 765.9 953.1 773.9 952.8C781.9 952.5 790.6 953.7 797.8 953.6C803.7 953.6 808.4 954.1 813.8 952.8C820.0 951.3 826.7 948.1 832.9 944.0C840.1 939.2 847.7 931.8 853.7 924.9C859.3 918.4 863.7 912.0 868.0 904.1C873.0 894.8 876.9 882.3 880.8 872.2C884.3 863.2 886.4 852.3 890.4 846.7C893.0 843.1 896.2 839.6 899.1 839.6C902.0 839.6 905.3 843.7 907.9 846.7C911.0 850.1 912.9 856.3 915.9 859.5C918.3 862.1 921.4 865.6 923.8 865.1C926.8 864.6 929.4 858.3 931.8 853.1C935.6 844.9 938.4 831.0 941.4 819.6C944.5 807.7 946.6 794.9 950.3 783.1C953.9 771.6 958.0 759.5 963.1 749.7C967.6 741.0 972.7 733.3 978.5 726.7C983.9 720.6 989.9 715.4 996.4 711.3C1002.7 707.3 1009.7 705.3 1016.9 702.3C1025.0 698.9 1034.0 694.9 1042.6 692.1C1051.1 689.4 1059.6 687.1 1068.2 685.6C1076.7 684.1 1085.2 683.5 1093.8 683.1C1102.3 682.7 1111.5 682.7 1119.5 683.1C1126.5 683.5 1132.8 684.0 1139.3 685.1C1145.8 686.2 1152.3 687.4 1158.6 689.9C1165.2 692.5 1172.0 696.4 1177.9 700.5C1183.6 704.5 1188.6 708.8 1193.3 714.0C1198.3 719.6 1202.5 726.2 1206.8 733.3C1211.6 741.4 1215.8 750.7 1220.3 760.3C1225.4 771.1 1229.9 783.8 1235.7 795.0C1241.5 806.3 1248.1 818.1 1255.0 827.8C1261.1 836.5 1267.7 843.7 1274.3 850.9C1280.6 857.8 1287.1 864.0 1293.6 870.2C1300.0 876.2 1306.5 881.8 1312.9 887.6C1319.3 893.4 1327.3 899.8 1332.1 904.9C1335.5 908.4 1337.7 912.2 1339.9 914.6C1341.3 916.2 1341.8 917.3 1343.7 918.4C1347.2 920.4 1354.8 920.8 1361.1 922.3C1368.5 924.0 1377.2 926.2 1385.2 928.1" fill="none" stroke="#fbb02a" stroke-width="3.0" stroke-linejoin="round" stroke-linecap="round"/>
<path d="M115.0 1604.0C117.2 1605.2 119.2 1607.0 121.7 1607.5C124.4 1608.1 127.5 1606.3 130.5 1607.0C134.1 1607.8 137.9 1611.2 141.6 1613.0C145.3 1614.7 148.8 1616.4 152.7 1617.5C156.9 1618.6 161.9 1618.4 166.1 1619.5C170.0 1620.5 174.0 1622.4 177.2 1623.5C179.7 1624.3 181.4 1625.4 183.8 1625.5C186.5 1625.6 189.6 1623.4 192.7 1623.5C196.2 1623.6 200.3 1625.1 203.8 1627.0C207.7 1629.2 211.0 1634.1 214.9 1636.5C218.4 1638.6 222.4 1641.3 226.0 1641.0C229.8 1640.7 234.2 1637.5 237.1 1634.0C240.6 1629.8 242.3 1623.8 244.3 1616.5C247.4 1605.3 248.9 1588.0 251.0 1572.5C253.4 1555.2 255.5 1535.9 257.8 1517.5C260.1 1499.0 262.2 1479.4 264.6 1462.0C266.8 1446.5 269.1 1433.0 271.4 1418.0C273.8 1402.3 275.7 1385.1 279.0 1370.0C282.0 1356.2 286.5 1343.9 290.0 1331.0C293.5 1318.4 296.0 1303.3 300.0 1293.5C302.8 1286.6 305.7 1281.8 309.4 1276.9C313.0 1272.1 317.8 1265.3 322.0 1264.3C325.1 1263.6 328.5 1265.6 331.4 1267.4C334.8 1269.5 337.8 1274.1 340.9 1276.9C343.6 1279.3 346.0 1283.1 348.7 1283.1C351.7 1283.1 355.1 1278.7 358.1 1275.3C362.0 1270.9 365.5 1264.4 369.1 1258.0C373.3 1250.5 377.2 1240.3 381.7 1232.9C385.7 1226.4 390.0 1221.2 394.3 1215.6C398.4 1210.2 402.1 1202.6 406.9 1199.9C410.7 1197.8 415.5 1199.5 419.4 1198.3C423.3 1197.1 426.6 1194.1 430.4 1192.8C434.0 1191.5 437.4 1190.9 441.4 1190.4C446.1 1189.8 451.9 1189.7 457.1 1189.6C462.3 1189.5 467.6 1189.0 472.8 1189.6C478.1 1190.3 483.8 1192.4 488.6 1193.6C492.7 1194.6 495.8 1195.3 500.0 1196.3C505.3 1197.6 512.0 1198.8 517.9 1200.7C523.9 1202.6 530.4 1205.3 535.7 1207.9C540.3 1210.1 544.5 1212.0 548.2 1215.0C551.9 1218.0 554.9 1221.8 558.0 1226.0C561.6 1230.9 564.7 1237.1 568.0 1243.0C571.4 1249.1 574.7 1255.5 578.0 1262.0C581.4 1268.8 584.4 1276.0 588.0 1283.0C591.7 1290.3 595.6 1297.9 600.0 1305.0C604.4 1312.2 609.0 1319.2 614.3 1326.0C619.7 1332.9 625.7 1340.2 632.1 1346.0C638.2 1351.6 645.3 1356.0 651.8 1360.5C657.8 1364.7 663.1 1368.5 669.6 1372.0C676.7 1375.9 685.4 1378.8 692.9 1382.5C700.3 1386.1 707.4 1391.0 714.3 1394.0C720.4 1396.6 726.1 1398.2 732.1 1400.0C738.0 1401.7 744.0 1403.0 750.0 1404.5" fill="none" stroke="#c7c8ca" stroke-width="3.0" stroke-linejoin="round" stroke-linecap="round"/>
<path d="M115.0 1604.0C117.2 1605.2 119.2 1607.0 121.7 1607.5C124.4 1608.1 127.5 1606.3 130.5 1607.0C134.1 1607.8 137.9 1611.2 141.6 1613.0C145.3 1614.7 148.8 1616.4 152.7 1617.5C156.9 1618.6 161.9 1618.4 166.1 1619.5C170.0 1620.5 174.0 1622.4 177.2 1623.5C179.7 1624.3 181.4 1625.4 183.8 1625.5C186.5 1625.6 189.6 1623.4 192.7 1623.5C196.2 1623.6 200.3 1625.1 203.8 1627.0C207.7 1629.2 211.0 1634.1 214.9 1636.5C218.4 1638.6 222.4 1641.3 226.0 1641.0C229.8 1640.7 234.2 1637.5 237.1 1634.0C240.6 1629.8 242.3 1623.8 244.3 1616.5C247.4 1605.3 248.9 1588.0 251.0 1572.5C253.4 1555.2 255.5 1535.9 257.8 1517.5C260.1 1499.0 262.2 1479.4 264.6 1462.0C266.8 1446.5 269.0 1432.9 271.4 1418.0C273.8 1402.6 275.7 1385.8 279.0 1371.0C282.0 1357.3 286.4 1344.6 290.0 1332.0C293.4 1320.0 296.1 1307.3 300.0 1297.0C303.3 1288.3 306.4 1279.4 311.0 1273.7C314.6 1269.3 319.5 1264.6 323.6 1264.3C327.3 1264.1 331.2 1267.5 334.6 1270.6C338.7 1274.4 341.5 1282.2 345.6 1286.3C349.0 1289.7 353.0 1293.8 356.6 1294.1C359.8 1294.3 363.1 1291.8 366.0 1289.4C369.5 1286.5 372.4 1281.8 375.4 1276.9C379.2 1270.7 382.7 1262.1 386.4 1254.9C390.0 1247.9 393.4 1241.0 397.4 1234.4C401.3 1227.9 405.2 1219.1 410.0 1215.6C413.4 1213.1 417.7 1214.4 421.0 1212.4C424.6 1210.3 427.1 1205.4 430.4 1203.0C433.4 1200.9 436.5 1198.6 439.8 1198.3C443.3 1198.0 446.9 1200.4 450.8 1201.4C455.2 1202.5 460.4 1203.8 465.0 1204.6C469.3 1205.3 473.6 1204.9 477.6 1206.1C481.5 1207.3 484.8 1210.1 488.6 1211.6C492.3 1213.1 495.7 1213.9 500.0 1215.0C505.3 1216.3 512.0 1217.3 517.9 1218.6C523.9 1219.9 530.1 1221.3 535.7 1223.0C540.8 1224.5 545.9 1225.6 550.0 1228.0C553.9 1230.3 556.9 1233.4 560.0 1237.0C563.6 1241.2 566.8 1246.6 570.0 1252.0C573.5 1257.9 576.7 1264.6 580.0 1271.0C583.4 1277.6 586.6 1284.7 590.0 1291.0C593.2 1297.0 596.2 1302.2 600.0 1308.0C604.2 1314.4 609.1 1321.1 614.3 1327.5C619.7 1334.1 625.7 1341.3 632.1 1347.0C638.2 1352.5 645.3 1357.0 651.8 1361.5C657.8 1365.7 663.1 1369.5 669.6 1373.0C676.7 1376.9 685.4 1379.8 692.9 1383.5C700.3 1387.1 707.4 1391.9 714.3 1395.0C720.4 1397.7 726.1 1399.7 732.1 1401.5C738.0 1403.3 744.0 1404.5 750.0 1406.0" fill="none" stroke="#9d9fa2" stroke-width="3.0" stroke-linejoin="round" stroke-linecap="round"/>
<path d="M115.0 1604.0C117.2 1605.2 119.2 1607.0 121.7 1607.5C124.4 1608.1 127.5 1606.3 130.5 1607.0C134.1 1607.8 137.9 1611.2 141.6 1613.0C145.3 1614.7 148.8 1616.4 152.7 1617.5C156.9 1618.6 161.9 1618.4 166.1 1619.5C170.0 1620.5 174.0 1622.4 177.2 1623.5C179.7 1624.3 181.4 1625.4 183.8 1625.5C186.5 1625.6 189.6 1623.4 192.7 1623.5C196.2 1623.6 200.3 1625.1 203.8 1627.0C207.7 1629.2 211.0 1634.1 214.9 1636.5C218.4 1638.6 222.4 1641.3 226.0 1641.0C229.8 1640.7 234.2 1637.5 237.1 1634.0C240.6 1629.8 242.3 1623.8 244.3 1616.5C247.4 1605.3 248.9 1588.0 251.0 1572.5C253.4 1555.2 255.5 1535.9 257.8 1517.5C260.1 1499.0 261.8 1478.7 264.6 1462.0C266.9 1448.1 269.6 1436.8 272.5 1424.0C275.4 1410.8 278.6 1396.9 282.0 1384.0C285.2 1371.9 288.9 1360.0 292.0 1349.0C294.8 1339.1 297.1 1330.2 300.0 1320.8C302.9 1311.4 305.5 1300.4 309.4 1292.6C312.6 1286.3 315.9 1280.0 320.4 1276.9C324.1 1274.4 329.3 1272.7 333.0 1273.7C336.7 1274.7 339.4 1279.2 342.4 1283.1C346.3 1288.1 349.7 1296.4 353.4 1302.0C356.5 1306.7 359.5 1312.0 362.9 1314.6C365.4 1316.5 368.1 1318.2 370.7 1317.7C373.9 1317.0 377.1 1312.2 380.1 1308.3C384.0 1303.3 387.4 1295.7 391.1 1289.4C394.8 1283.1 397.9 1276.0 402.1 1270.6C405.9 1265.7 410.6 1262.1 414.7 1258.0C418.5 1254.2 421.9 1250.2 425.7 1247.0C429.2 1244.0 432.7 1240.3 436.7 1239.1C440.6 1238.0 444.9 1239.2 449.3 1239.9C454.3 1240.7 459.7 1243.0 465.0 1243.9C470.2 1244.8 475.5 1245.2 480.7 1245.4C485.9 1245.6 490.8 1245.6 496.4 1245.4C503.0 1245.1 511.1 1244.2 517.9 1243.6C524.1 1243.0 530.8 1241.6 535.7 1241.8C539.2 1242.0 541.6 1242.1 544.6 1243.6C548.7 1245.6 553.0 1250.1 557.1 1254.3C561.9 1259.3 567.0 1265.2 571.4 1272.1C576.6 1280.3 580.8 1291.6 585.7 1300.7C590.3 1309.4 594.7 1318.3 600.0 1325.7C604.9 1332.5 610.4 1337.9 616.1 1343.6C621.7 1349.2 627.5 1354.2 633.9 1359.6C641.0 1365.5 649.3 1372.6 657.1 1377.5C664.2 1381.9 672.0 1385.8 678.6 1388.2C683.7 1390.1 687.9 1389.6 692.9 1391.8C699.6 1394.8 707.2 1402.8 714.3 1406.1C720.3 1408.9 726.1 1410.2 732.1 1411.4C738.0 1412.6 744.0 1412.6 750.0 1413.2" fill="none" stroke="#77787b" stroke-width="3.0" stroke-linejoin="round" stroke-linecap="round"/>
<path d="M115.0 1604.0C117.2 1605.2 119.2 1607.0 121.7 1607.5C124.4 1608.1 127.5 1606.3 130.5 1607.0C134.1 1607.8 137.9 1611.2 141.6 1613.0C145.3 1614.7 148.8 1616.4 152.7 1617.5C156.9 1618.6 161.9 1618.4 166.1 1619.5C170.0 1620.5 174.0 1622.4 177.2 1623.5C179.7 1624.3 181.4 1625.4 183.8 1625.5C186.5 1625.6 189.6 1623.4 192.7 1623.5C196.2 1623.6 200.3 1625.1 203.8 1627.0C207.7 1629.2 211.0 1634.1 214.9 1636.5C218.4 1638.6 222.4 1641.3 226.0 1641.0C229.8 1640.7 234.2 1637.5 237.1 1634.0C240.6 1629.8 242.3 1623.8 244.3 1616.5C247.4 1605.3 248.9 1588.0 251.0 1572.5C253.4 1555.2 255.5 1535.9 257.8 1517.5C260.1 1499.0 262.2 1479.4 264.6 1462.0C266.8 1446.5 268.8 1432.6 271.4 1418.0C274.1 1403.3 277.0 1388.0 280.5 1374.0C283.8 1361.1 288.0 1348.2 291.5 1337.0C294.4 1327.7 297.0 1320.6 300.0 1311.4C303.5 1300.8 306.6 1286.9 311.0 1276.9C314.7 1268.5 318.8 1260.4 323.6 1254.9C327.4 1250.6 332.1 1245.8 336.1 1245.4C339.4 1245.1 342.7 1247.8 345.6 1250.1C349.0 1252.8 351.9 1256.8 355.0 1261.1C358.8 1266.4 362.0 1273.9 366.0 1280.0C369.9 1286.0 374.2 1292.9 378.6 1297.3C382.1 1300.8 385.9 1303.6 389.6 1305.1C392.7 1306.4 395.8 1307.3 399.0 1306.7C402.6 1306.1 406.3 1303.0 410.0 1300.4C414.2 1297.4 418.7 1293.5 422.6 1289.4C426.6 1285.2 429.9 1278.5 433.6 1275.3C436.2 1273.0 438.6 1271.8 441.4 1270.6C444.3 1269.4 447.6 1269.4 450.8 1268.2C454.4 1266.9 458.3 1265.0 461.8 1262.7C465.6 1260.2 468.8 1256.8 472.8 1253.3C477.6 1249.1 483.2 1243.4 488.6 1239.1C493.7 1235.0 499.1 1231.0 504.3 1228.1C508.9 1225.5 513.4 1223.1 517.9 1222.1C522.0 1221.2 525.8 1221.7 530.0 1222.0C534.6 1222.3 539.9 1222.2 544.6 1223.9C549.6 1225.7 555.0 1229.4 558.9 1232.9C562.3 1235.9 564.4 1239.1 567.0 1243.0C570.1 1247.6 573.0 1253.2 576.0 1259.0C579.4 1265.7 582.4 1273.7 586.0 1281.0C589.7 1288.5 593.4 1296.1 598.0 1303.5C602.8 1311.3 608.5 1319.3 614.3 1326.5C619.9 1333.5 625.7 1340.3 632.1 1346.0C638.2 1351.5 645.4 1356.0 651.8 1360.5C657.8 1364.8 663.1 1368.9 669.6 1372.5C676.7 1376.5 685.3 1379.4 692.9 1383.0C700.2 1386.5 707.4 1391.1 714.3 1394.0C720.4 1396.6 726.1 1398.2 732.1 1400.0C738.0 1401.7 744.0 1403.0 750.0 1404.5" fill="none" stroke="#58595b" stroke-width="3.0" stroke-linejoin="round" stroke-linecap="round"/>
<path d="M115.0 1601.9C117.2 1603.0 119.2 1604.8 121.7 1605.2C124.4 1605.6 127.5 1603.5 130.5 1604.1C134.1 1604.9 137.8 1608.9 141.6 1610.8C145.2 1612.6 148.8 1614.1 152.7 1615.2C156.9 1616.4 161.9 1616.3 166.1 1617.5C170.0 1618.6 174.0 1620.7 177.2 1621.9C179.7 1622.8 181.4 1624.0 183.8 1624.1C186.5 1624.2 189.6 1621.8 192.7 1621.9C196.2 1622.0 200.3 1623.2 203.8 1625.2C207.8 1627.4 211.0 1632.7 214.9 1635.2C218.4 1637.5 222.4 1640.4 226.0 1640.1C229.8 1639.8 234.2 1636.5 237.1 1633.0C240.5 1628.8 241.9 1622.6 243.8 1615.2C246.7 1603.8 248.3 1586.4 250.4 1570.8C252.8 1553.3 254.9 1533.8 257.1 1515.3C259.3 1496.8 261.4 1477.3 263.8 1459.8C265.9 1444.2 267.8 1430.2 270.4 1415.4C273.0 1400.6 275.8 1385.1 279.3 1371.0C282.5 1357.8 286.6 1344.5 290.4 1333.3C293.5 1324.0 296.9 1316.9 300.0 1308.3C303.3 1299.2 305.8 1288.7 309.4 1280.0C312.7 1272.1 316.3 1264.1 320.4 1258.0C323.8 1253.0 327.5 1248.2 331.4 1245.4C334.4 1243.2 337.5 1242.2 340.9 1241.5C344.4 1240.8 348.7 1240.3 351.9 1241.5C355.0 1242.7 357.3 1245.5 359.7 1248.6C362.7 1252.6 365.0 1258.5 367.6 1264.3C370.8 1271.3 373.9 1280.0 377.0 1287.9C380.1 1295.7 383.2 1303.9 386.4 1311.4C389.5 1318.5 391.8 1327.1 395.9 1331.8C399.0 1335.4 403.2 1338.7 406.9 1338.9C410.5 1339.1 414.7 1336.1 417.9 1333.4C421.6 1330.3 424.2 1324.5 427.3 1320.8C429.9 1317.6 432.2 1314.8 435.1 1312.2C438.0 1309.6 441.6 1307.9 444.6 1305.1C447.9 1302.0 450.8 1298.0 454.0 1294.1C457.6 1289.7 461.3 1285.0 465.0 1280.0C469.1 1274.6 473.6 1268.3 477.6 1262.7C481.4 1257.4 484.7 1252.2 488.6 1247.0C492.6 1241.7 496.9 1235.0 501.1 1231.3C504.3 1228.6 507.2 1227.8 510.7 1225.7C515.0 1223.1 519.9 1219.0 525.0 1216.8C530.1 1214.6 536.2 1211.8 541.1 1212.3C545.6 1212.7 549.9 1215.7 553.6 1218.6C557.7 1221.8 561.0 1226.3 564.3 1231.1C568.2 1236.7 571.6 1243.7 575.0 1250.7C578.8 1258.4 581.9 1267.4 585.7 1275.7C589.6 1284.1 593.4 1292.7 598.2 1300.7C603.0 1308.8 608.6 1316.7 614.3 1323.9C619.9 1330.9 625.7 1337.8 632.1 1343.6C638.2 1349.1 645.4 1353.3 651.8 1357.9C657.9 1362.2 663.1 1366.8 669.6 1370.4C676.7 1374.3 685.4 1376.6 692.9 1380.2C700.3 1383.7 707.3 1388.9 714.3 1391.8C720.4 1394.3 726.1 1395.5 732.1 1397.1C738.0 1398.7 744.0 1400.1 750.0 1401.6" fill="none" stroke="#231f20" stroke-width="2.2" stroke-linejoin="round" stroke-linecap="round"/>
<path d="M750.0 1510.9C754.8 1510.6 759.1 1510.4 764.3 1510.0C770.7 1509.5 779.5 1506.8 785.7 1508.2C791.2 1509.4 795.2 1515.2 800.0 1516.3C804.2 1517.2 808.0 1516.0 812.5 1515.4C818.0 1514.7 824.4 1513.0 830.4 1511.8C836.3 1510.6 842.3 1509.9 848.2 1508.2C854.2 1506.4 860.8 1504.0 866.1 1501.1C870.8 1498.5 875.1 1496.6 878.6 1492.1C883.4 1486.0 886.3 1475.6 889.3 1465.4C893.1 1452.6 895.1 1435.1 898.2 1420.7C901.1 1407.2 903.4 1393.1 907.1 1381.4C910.2 1371.5 913.0 1358.9 917.9 1354.6C921.0 1352.0 924.9 1352.9 928.6 1352.0C932.6 1351.1 937.4 1351.3 941.1 1349.3C945.2 1347.1 948.6 1343.3 951.8 1338.6C956.1 1332.3 958.9 1321.8 962.5 1313.6C966.0 1305.7 969.9 1296.8 973.2 1290.4C975.6 1285.7 977.7 1282.9 980.0 1278.6C982.8 1273.4 985.6 1267.3 988.6 1261.4C991.8 1255.0 995.1 1247.6 998.6 1241.4C1001.8 1235.8 1005.3 1230.9 1008.6 1225.7C1011.9 1220.5 1014.6 1213.6 1018.6 1210.0C1021.9 1207.0 1026.3 1206.3 1030.0 1204.3C1033.5 1202.4 1036.8 1200.6 1040.0 1198.6C1043.0 1196.7 1045.6 1193.5 1048.6 1192.9C1051.3 1192.3 1054.1 1194.7 1057.1 1194.3C1060.7 1193.8 1064.2 1189.7 1068.6 1188.6C1073.9 1187.2 1081.3 1188.2 1087.1 1187.9C1092.2 1187.7 1096.5 1187.5 1101.4 1187.1C1106.5 1186.7 1112.1 1185.4 1117.1 1185.7C1121.6 1186.0 1125.6 1187.8 1130.0 1188.6C1134.6 1189.5 1139.7 1189.1 1144.3 1190.7C1149.2 1192.4 1153.8 1196.3 1158.6 1198.6C1163.3 1200.8 1168.6 1202.4 1172.9 1204.3C1176.5 1205.9 1179.6 1206.3 1182.6 1208.9C1186.7 1212.5 1189.9 1219.8 1193.6 1226.1C1197.8 1233.3 1201.9 1241.2 1206.1 1249.7C1210.8 1259.4 1215.3 1270.7 1220.3 1281.1C1225.3 1291.6 1230.1 1302.3 1236.0 1312.6C1242.1 1323.3 1249.0 1334.2 1256.4 1344.0C1263.7 1353.5 1271.8 1362.9 1280.0 1370.7C1287.6 1377.9 1295.5 1384.3 1303.6 1389.6C1311.2 1394.6 1319.2 1398.2 1327.1 1402.1C1334.9 1406.0 1342.0 1409.9 1350.7 1413.1C1360.8 1416.9 1373.2 1419.4 1384.5 1422.6" fill="none" stroke="#fbb02a" stroke-width="3.0" stroke-linejoin="round" stroke-linecap="round"/>
<path d="M750.0 1508.2C754.8 1507.8 759.1 1507.4 764.3 1507.0C770.7 1506.5 779.3 1504.8 785.7 1505.5C791.0 1506.1 795.4 1508.6 800.0 1510.0C804.3 1511.3 808.4 1514.1 812.5 1513.6C816.8 1513.1 820.3 1508.0 825.0 1506.4C830.3 1504.6 837.0 1505.1 842.9 1503.8C848.9 1502.5 855.1 1500.1 860.7 1498.4C865.7 1496.8 871.1 1497.1 875.0 1493.9C879.8 1490.0 882.5 1482.0 885.7 1474.3C889.9 1464.4 892.9 1450.8 896.4 1438.6C900.0 1425.8 903.6 1411.3 907.1 1399.3C910.1 1389.0 912.7 1377.8 916.1 1370.7C918.3 1366.1 920.1 1361.1 923.2 1360.0C926.1 1359.0 930.3 1361.9 933.9 1363.6C938.0 1365.6 942.4 1371.7 946.4 1371.6C950.2 1371.5 953.9 1367.5 957.1 1363.6C961.5 1358.2 964.2 1348.4 967.9 1340.4C971.8 1331.9 976.3 1322.0 980.0 1314.0C983.1 1307.3 985.7 1302.2 988.6 1295.7C991.9 1288.5 995.2 1280.2 998.6 1272.9C1001.8 1266.0 1005.4 1259.2 1008.6 1252.9C1011.5 1247.3 1014.0 1242.1 1017.1 1237.1C1020.2 1232.1 1023.7 1227.3 1027.1 1222.9C1030.3 1218.8 1033.5 1214.5 1037.1 1211.4C1040.2 1208.7 1043.5 1206.2 1047.1 1205.0C1050.7 1203.8 1055.0 1205.3 1058.6 1204.3C1062.2 1203.3 1065.1 1200.5 1068.6 1199.3C1072.2 1198.1 1076.0 1197.1 1080.0 1197.1C1084.5 1197.1 1089.5 1199.4 1094.3 1200.0C1099.0 1200.6 1103.9 1200.0 1108.6 1200.7C1113.4 1201.4 1118.1 1203.5 1122.9 1204.3C1127.6 1205.1 1132.4 1204.6 1137.1 1205.7C1141.9 1206.9 1146.6 1209.7 1151.4 1211.4C1156.1 1213.1 1160.9 1214.3 1165.7 1215.7C1170.5 1217.1 1175.4 1217.5 1180.0 1220.0C1185.3 1222.9 1190.5 1227.5 1195.0 1233.0C1200.4 1239.6 1204.6 1248.7 1209.3 1257.6C1214.6 1267.7 1219.6 1280.1 1225.0 1290.6C1230.1 1300.5 1235.1 1309.9 1240.7 1318.9C1246.1 1327.7 1251.6 1335.8 1258.0 1344.0C1264.7 1352.6 1272.3 1361.4 1280.0 1369.1C1287.5 1376.6 1295.4 1384.0 1303.6 1389.6C1311.2 1394.8 1319.3 1397.9 1327.1 1402.1C1335.0 1406.3 1341.9 1411.1 1350.7 1414.7C1360.8 1418.9 1373.2 1421.5 1384.5 1424.9" fill="none" stroke="#f26b2a" stroke-width="3.0" stroke-linejoin="round" stroke-linecap="round"/>
<path d="M750.0 1503.0C754.8 1502.7 759.1 1502.2 764.3 1502.0C770.7 1501.7 779.3 1501.0 785.7 1501.5C791.0 1501.9 795.4 1503.4 800.0 1504.0C804.3 1504.5 808.1 1505.9 812.5 1505.0C818.1 1503.9 824.3 1497.9 830.4 1495.7C836.2 1493.7 842.2 1493.0 848.2 1492.1C854.1 1491.2 860.7 1491.0 866.1 1490.4C870.6 1489.9 875.1 1491.2 878.6 1488.6C883.6 1484.9 886.1 1474.6 889.3 1465.4C893.6 1453.1 896.5 1436.0 900.0 1420.7C903.7 1404.5 907.0 1385.2 910.7 1370.7C913.6 1359.3 915.6 1347.2 919.6 1340.4C922.2 1336.1 925.2 1332.2 928.6 1331.4C931.8 1330.6 936.0 1332.8 939.3 1335.0C943.3 1337.7 946.4 1343.3 950.0 1347.5C953.6 1351.7 956.8 1356.9 960.7 1360.0C964.0 1362.6 968.0 1365.1 971.4 1365.4C974.4 1365.7 977.5 1364.9 980.0 1363.0C983.5 1360.3 985.8 1354.0 988.6 1348.6C992.0 1342.2 995.0 1334.1 998.6 1327.1C1002.1 1320.2 1006.2 1313.8 1010.0 1307.1C1013.8 1300.4 1017.3 1293.1 1021.4 1287.1C1025.0 1281.8 1029.5 1278.2 1032.9 1272.9C1036.7 1267.0 1039.1 1258.8 1042.9 1252.9C1046.3 1247.5 1050.2 1242.6 1054.3 1238.6C1057.9 1235.1 1061.4 1231.7 1065.7 1230.0C1070.0 1228.3 1075.2 1228.8 1080.0 1228.6C1084.8 1228.4 1089.5 1228.8 1094.3 1228.6C1099.1 1228.4 1103.8 1227.8 1108.6 1227.1C1113.4 1226.4 1118.1 1225.3 1122.9 1224.3C1127.6 1223.4 1132.4 1222.3 1137.1 1221.4C1141.9 1220.4 1146.6 1219.1 1151.4 1218.6C1156.1 1218.1 1161.0 1217.7 1165.7 1218.6C1170.6 1219.5 1175.7 1222.4 1180.0 1224.3C1183.7 1225.9 1186.9 1226.7 1190.0 1229.0C1193.6 1231.7 1196.9 1235.7 1200.0 1240.0C1203.7 1245.1 1206.7 1251.3 1210.0 1258.0C1214.0 1266.0 1217.7 1276.1 1222.0 1285.0C1226.4 1294.1 1231.0 1303.3 1236.0 1312.0C1240.9 1320.6 1246.2 1329.4 1251.7 1337.0C1256.7 1343.9 1261.9 1350.3 1267.4 1356.0C1272.4 1361.2 1277.4 1365.3 1283.1 1370.0C1289.4 1375.2 1296.4 1380.6 1303.6 1385.5C1311.0 1390.5 1319.2 1395.1 1327.1 1399.5C1334.9 1403.8 1341.9 1408.1 1350.7 1411.5C1360.8 1415.4 1373.2 1417.8 1384.5 1421.0" fill="none" stroke="#ee1660" stroke-width="3.0" stroke-linejoin="round" stroke-linecap="round"/>
<path d="M750.0 1502.0C754.8 1501.7 759.1 1501.2 764.3 1501.0C770.7 1500.7 779.3 1500.0 785.7 1500.5C791.0 1500.9 795.4 1502.4 800.0 1503.0C804.3 1503.5 808.2 1504.9 812.5 1503.8C818.2 1502.3 824.2 1495.0 830.4 1492.1C836.2 1489.4 842.2 1488.1 848.2 1486.8C854.1 1485.5 860.7 1485.1 866.1 1484.1C870.7 1483.3 875.1 1484.3 878.6 1481.4C883.7 1477.2 886.2 1465.6 889.3 1456.4C892.9 1445.7 895.4 1433.3 898.2 1420.7C901.3 1406.7 903.7 1390.6 907.1 1376.1C910.3 1362.1 913.4 1345.7 917.9 1335.0C921.0 1327.5 924.3 1320.8 928.6 1317.1C931.8 1314.4 935.7 1312.7 939.3 1312.7C942.9 1312.7 946.7 1314.7 950.0 1317.1C953.9 1320.0 957.2 1325.2 960.7 1329.6C964.3 1334.1 968.0 1339.6 971.4 1343.9C974.4 1347.6 976.5 1351.8 980.0 1354.0C983.3 1356.1 987.6 1357.0 991.4 1357.1C995.2 1357.2 999.2 1356.1 1002.9 1354.3C1007.3 1352.2 1011.7 1348.0 1015.7 1344.3C1019.8 1340.4 1024.1 1336.4 1027.1 1331.4C1030.4 1326.0 1032.0 1319.3 1034.3 1312.9C1036.8 1306.0 1038.6 1297.9 1041.4 1291.4C1043.9 1285.6 1046.7 1280.1 1050.0 1275.7C1053.0 1271.7 1056.5 1268.6 1060.0 1265.7C1063.2 1263.0 1066.3 1260.0 1070.0 1258.6C1073.9 1257.1 1078.8 1258.3 1082.9 1257.1C1086.9 1255.9 1090.5 1253.3 1094.3 1251.4C1098.1 1249.5 1102.0 1248.0 1105.7 1245.7C1109.6 1243.3 1113.1 1239.9 1117.1 1237.1C1121.2 1234.2 1125.5 1231.2 1130.0 1228.6C1134.6 1226.0 1139.4 1223.3 1144.3 1221.4C1149.0 1219.5 1154.1 1217.5 1158.6 1217.1C1162.6 1216.7 1166.0 1217.9 1170.0 1218.3C1174.5 1218.8 1179.8 1218.0 1184.1 1219.9C1188.8 1222.0 1192.9 1226.2 1196.7 1230.9C1201.4 1236.7 1205.3 1245.0 1209.3 1252.9C1213.7 1261.6 1217.5 1271.7 1221.9 1281.1C1226.4 1290.6 1230.9 1300.4 1236.0 1309.4C1240.9 1318.2 1246.2 1327.0 1251.7 1334.6C1256.7 1341.5 1262.0 1347.7 1267.4 1353.4C1272.5 1358.7 1277.4 1362.9 1283.1 1367.6C1289.4 1372.8 1296.4 1378.4 1303.6 1383.3C1311.0 1388.4 1319.2 1392.9 1327.1 1397.4C1334.9 1401.8 1341.9 1406.5 1350.7 1410.0C1360.8 1414.0 1373.2 1416.3 1384.5 1419.4" fill="none" stroke="#ee2a3a" stroke-width="3.0" stroke-linejoin="round" stroke-linecap="round"/>
<path d="M750.0 1498.4C754.8 1499.9 759.0 1502.1 764.3 1502.9C770.7 1503.9 779.3 1502.1 785.7 1502.9C791.0 1503.5 795.4 1506.5 800.0 1506.4C804.3 1506.3 808.6 1505.0 812.5 1502.9C816.9 1500.5 820.2 1495.3 825.0 1492.1C830.2 1488.6 836.8 1485.6 842.9 1483.2C848.7 1480.9 855.2 1478.9 860.7 1477.9C865.2 1477.1 869.6 1478.5 873.2 1477.0C876.7 1475.5 879.5 1472.6 882.1 1468.9C885.8 1463.7 888.4 1455.8 891.1 1447.5C894.6 1436.5 897.3 1421.2 900.0 1408.2C902.6 1395.6 904.5 1383.3 907.1 1370.7C909.8 1357.7 912.3 1343.7 916.1 1331.4C919.6 1320.0 924.2 1308.3 928.6 1299.3C932.0 1292.3 935.0 1285.1 939.3 1281.4C942.5 1278.7 946.5 1276.8 950.0 1277.0C953.6 1277.2 957.5 1280.1 960.7 1283.2C964.8 1287.0 968.2 1293.0 971.4 1299.3C975.5 1307.3 978.9 1319.3 982.1 1327.9C984.7 1334.9 986.5 1340.6 989.0 1347.0C991.5 1353.6 994.3 1360.6 997.1 1367.0C999.8 1373.2 1002.8 1379.2 1005.7 1385.0C1008.5 1390.6 1011.2 1397.4 1014.3 1401.4C1016.5 1404.3 1019.0 1407.9 1021.4 1407.9C1023.8 1407.9 1026.6 1404.7 1028.6 1401.4C1031.9 1396.1 1033.4 1385.5 1035.7 1377.1C1038.2 1368.0 1040.3 1358.1 1042.9 1348.6C1045.5 1339.0 1048.3 1328.6 1051.4 1320.0C1054.1 1312.7 1056.5 1304.7 1060.0 1300.0C1062.5 1296.6 1065.6 1294.8 1068.6 1292.9C1071.3 1291.1 1074.3 1290.5 1077.1 1288.6C1080.4 1286.4 1083.9 1283.3 1087.1 1280.0C1090.6 1276.3 1093.5 1271.2 1097.1 1267.1C1100.7 1263.1 1104.9 1259.8 1108.6 1255.7C1112.5 1251.3 1116.0 1245.6 1120.0 1241.4C1123.6 1237.6 1127.8 1234.8 1131.4 1231.4C1134.9 1228.1 1138.0 1224.5 1141.4 1221.4C1144.7 1218.4 1147.8 1215.3 1151.4 1212.9C1155.0 1210.5 1159.5 1208.3 1162.9 1207.1C1165.5 1206.2 1167.2 1206.0 1170.0 1205.7C1173.9 1205.3 1180.0 1204.5 1184.1 1205.7C1187.8 1206.8 1190.6 1209.0 1193.6 1212.0C1197.6 1216.1 1201.0 1222.8 1204.6 1229.3C1208.9 1237.1 1213.0 1247.0 1217.1 1256.0C1221.3 1265.3 1225.3 1275.4 1229.7 1284.3C1233.8 1292.6 1237.6 1300.3 1242.3 1307.9C1247.0 1315.5 1252.8 1323.0 1258.0 1329.8C1262.7 1336.0 1266.9 1341.7 1272.1 1347.1C1277.4 1352.7 1283.6 1357.1 1289.4 1362.8C1295.7 1369.1 1302.2 1378.9 1308.3 1383.3C1312.6 1386.3 1316.5 1386.8 1320.8 1388.8C1325.4 1390.9 1330.2 1393.2 1335.0 1395.8C1340.2 1398.6 1345.4 1402.6 1350.7 1405.3C1355.8 1407.9 1360.9 1409.9 1366.4 1411.6C1372.1 1413.4 1378.5 1414.2 1384.5 1415.5" fill="none" stroke="#7a0e14" stroke-width="3.2" stroke-linejoin="round" stroke-linecap="round"/>
</g>
<path d="M363 1390.7H455.4" stroke="#231f20" stroke-width="2.2"/>
<text transform="translate(465.6 1399.5) scale(1.02 1)" font-size="36.2" font-family="Liberation Serif, serif"><tspan font-style="italic">φ</tspan><tspan dx="3" dy="3">=</tspan><tspan dx="3" dy="-3">0</tspan><tspan dx="-2.5" font-size="31" dy="-2.6">°</tspan></text>
<path d="M363 1439.9H455.4" stroke="#58595b" stroke-width="3.2"/>
<text transform="translate(465.6 1448.7) scale(1.02 1)" font-size="36.2" font-family="Liberation Serif, serif"><tspan font-style="italic">φ</tspan><tspan dx="3" dy="3">=</tspan><tspan dx="3" dy="-3">10</tspan><tspan dx="-2.5" font-size="31" dy="-2.6">°</tspan></text>
<path d="M363 1489H455.4" stroke="#77787b" stroke-width="3.2"/>
<text transform="translate(465.6 1497.8) scale(1.02 1)" font-size="36.2" font-family="Liberation Serif, serif"><tspan font-style="italic">φ</tspan><tspan dx="3" dy="3">=</tspan><tspan dx="3" dy="-3">20</tspan><tspan dx="-2.5" font-size="31" dy="-2.6">°</tspan></text>
<path d="M363 1539H455.4" stroke="#9d9fa2" stroke-width="3.2"/>
<text transform="translate(465.6 1547.8) scale(1.02 1)" font-size="36.2" font-family="Liberation Serif, serif"><tspan font-style="italic">φ</tspan><tspan dx="3" dy="3">=</tspan><tspan dx="3" dy="-3">30</tspan><tspan dx="-2.5" font-size="31" dy="-2.6">°</tspan></text>
<path d="M363 1587.4H455.4" stroke="#c7c8ca" stroke-width="3.2"/>
<text transform="translate(465.6 1596.2) scale(1.02 1)" font-size="36.2" font-family="Liberation Serif, serif"><tspan font-style="italic">φ</tspan><tspan dx="3" dy="3">=</tspan><tspan dx="3" dy="-3">40</tspan><tspan dx="-2.5" font-size="31" dy="-2.6">°</tspan></text>
<path d="M1051.7 1384.9H1145" stroke="#7a0e14" stroke-width="3.4"/>
<text transform="translate(1159.0 1392.1) scale(1.02 1)" font-size="36.2" font-family="Liberation Serif, serif"><tspan font-style="italic">φ</tspan><tspan dx="3" dy="3">=</tspan><tspan dx="3" dy="-3">0</tspan><tspan dx="-2.5" font-size="31" dy="-2.6">°</tspan></text>
<path d="M1051.7 1434.1H1145" stroke="#ee2a3a" stroke-width="3.2"/>
<text transform="translate(1159.0 1441.3) scale(1.02 1)" font-size="36.2" font-family="Liberation Serif, serif"><tspan font-style="italic">φ</tspan><tspan dx="3" dy="3">=</tspan><tspan dx="3" dy="-3">10</tspan><tspan dx="-2.5" font-size="31" dy="-2.6">°</tspan></text>
<path d="M1051.7 1483.4H1145" stroke="#ee1660" stroke-width="3.2"/>
<text transform="translate(1159.0 1490.6) scale(1.02 1)" font-size="36.2" font-family="Liberation Serif, serif"><tspan font-style="italic">φ</tspan><tspan dx="3" dy="3">=</tspan><tspan dx="3" dy="-3">20</tspan><tspan dx="-2.5" font-size="31" dy="-2.6">°</tspan></text>
<path d="M1051.7 1533.2H1145" stroke="#f26b2a" stroke-width="3.2"/>
<text transform="translate(1159.0 1540.4) scale(1.02 1)" font-size="36.2" font-family="Liberation Serif, serif"><tspan font-style="italic">φ</tspan><tspan dx="3" dy="3">=</tspan><tspan dx="3" dy="-3">30</tspan><tspan dx="-2.5" font-size="31" dy="-2.6">°</tspan></text>
<path d="M1051.7 1581.5H1145" stroke="#fbb02a" stroke-width="3.2"/>
<text transform="translate(1159.0 1588.7) scale(1.02 1)" font-size="36.2" font-family="Liberation Serif, serif"><tspan font-style="italic">φ</tspan><tspan dx="3" dy="3">=</tspan><tspan dx="3" dy="-3">40</tspan><tspan dx="-2.5" font-size="31" dy="-2.6">°</tspan></text>
</svg>
<script>
var CM=[[0,0x262f76],[0.007,0x262f76],[0.027,0x283988],[0.055,0x2a449b],[0.084,0x3150a2],[0.126,0x3558a7],[0.169,0x3860ab],[0.212,0x3b6bb1],[0.247,0x3d7cbc],[0.269,0x3f92cb],[0.287,0x3da0d6],[0.303,0x29b5ea],[0.321,0x2fc3ef],[0.341,0x50c3e0],[0.371,0x5ec4d2],[0.399,0x66c1bd],[0.427,0x6fc1a6],[0.456,0x7ac38d],[0.493,0x85c57a],[0.523,0x9fcc62],[0.552,0xb8d54f],[0.581,0xd3df45],[0.611,0xe9e53d],[0.632,0xf3e736],[0.65,0xfdd021],[0.67,0xfbb626],[0.70,0xf8a02b],[0.729,0xf6892b],[0.759,0xf0742e],[0.788,0xef5e30],[0.818,0xef4d33],[0.849,0xee3a36],[0.882,0xec2f38],[0.907,0xd42a35],[0.937,0xb0212d],[0.967,0x961c27],[0.994,0x7a1520],[1,0x7a1520]];
function cmap(t){
  t=Math.max(0,Math.min(0.9999,t));
  t=(Math.floor(t*64)+0.5)/64;
  for(var i=1;i<CM.length;i++){ if(t<=CM[i][0]){var a=CM[i-1],b=CM[i],f=(t-a[0])/(b[0]-a[0]);
    var r=((a[1]>>16)&255)*(1-f)+((b[1]>>16)&255)*f, g=((a[1]>>8)&255)*(1-f)+((b[1]>>8)&255)*f, bb=(a[1]&255)*(1-f)+(b[1]&255)*f; return [r,g,bb];}}
  return [122,21,32];
}
function interp(T,z){
  var n=T.length; if(z<=T[0][0]) return T[0][1]; if(z>=T[n-1][0]) return T[n-1][1];
  var i=1; while(z>T[i][0]) i++;
  var a=T[i-1],b=T[i],h=b[0]-a[0],t=(z-a[0])/h;
  function sl(k){ if(k<=0) return (T[1][1]-T[0][1])/(T[1][0]-T[0][0]); if(k>=n-1) return (T[n-1][1]-T[n-2][1])/(T[n-1][0]-T[n-2][0]); return (T[k+1][1]-T[k-1][1])/(T[k+1][0]-T[k-1][0]); }
  var m0=sl(i-1)*h,m1=sl(i)*h,t2=t*t,t3=t2*t;
  return (2*t3-3*t2+1)*a[1]+(t3-2*t2+t)*m0+(-2*t3+3*t2)*b[1]+(t3-t2)*m1;
}
function field(P,x,z){
  var K=2*Math.PI/35, ax=Math.abs(x);
  function Rf(z){ return interp(P.u,z)+interp(P.A,z)*Math.cos(K*x)+interp(P.C,z)*Math.cos(2*K*x); }
  var zs = ax<P.bw ? 0 : ((P.zsR && x>0) ? P.zsR : P.zs);
  if(z<=zs){ var R=Rf(z), V=interp(P.V,z); return Math.sqrt(R*R+V*V); }
  if(z<=P.zb){
    if(ax<P.bw){ var R=Rf(zs)*Math.exp(-(z-zs)/P.d1); return Math.sqrt(R*R+P.F*P.F); }
    var R=Rf(zs)*P.sf*Math.exp(-(z-zs)/P.d2); return Math.sqrt(R*R+1.0);
  }
  var dz=z-P.zb, b=P.sb*Math.exp(-dz/P.sd), a=P.sa*b, g=a+b*Math.cos(K*x), f=P.fl+P.f2*Math.exp(-dz/P.fd);
  return Math.sqrt(g*g+f*f);
}
function drawHeat(id,P,vmax){
  var c=document.getElementById(id), ctx=c.getContext('2d'), w=c.width, h=c.height;
  var im=ctx.createImageData(w,h), d=im.data;
  for(var j=0;j<h;j++){ var z=P.z0+(j+0.5)*(P.z1-P.z0)/h;
    for(var i=0;i<w;i++){ var x=P.x0+(i+0.5)*(P.x1-P.x0)/w;
      var v=field(P,x,z), col=cmap(v/vmax), k=(j*w+i)*4;
      d[k]=col[0];d[k+1]=col[1];d[k+2]=col[2];d[k+3]=255; }}
  ctx.putImageData(im,0,0);
}
function drawBar(id){
  var c=document.getElementById(id), ctx=c.getContext('2d'), w=c.width, h=c.height;
  for(var j=0;j<h;j++){ var col=cmap(1-(j+0.5)/h); ctx.fillStyle='rgb('+(col[0]|0)+','+(col[1]|0)+','+(col[2]|0)+')'; ctx.fillRect(0,j,w,1); }
}
var PA={x0:-17.5,x1:17.5,z0:-17.5,z1:17.5,bw:8.9,zs:1.52,zb:2.15,
 u:[[-17.5,-0.062],[-15,-0.016],[-12.5,0.173],[-10,0.443],[-7.5,0.597],[-5,0.639],[-2.5,0.549],[0,0.436],[1.5,0.72]],
 A:[[-17.5,2.31],[-15,2.63],[-12.5,3.038],[-10,3.558],[-7.5,4.052],[-5,4.527],[-2.5,5.043],[0,5.712],[1.5,6.177]],
 C:[[-17.5,-0.211],[-15,-0.081],[-12.5,0.032],[-10,0.055],[-7.5,-0.018],[-5,0.039],[-2.5,0.236],[0,0.335],[1.5,0.254]],
 V:[[-17.5,-1.557],[-15,-1.32],[-12.5,-1.049],[-10,-0.679],[-7.5,-0.1],[-5,0.56],[-2.5,1.168],[0,1.899],[1.5,2.367]],
 d1:1.03,d2:4,sf:0.8,F:1.25,sb:1.75,sd:1.6,sa:-0.257,fl:0.18,f2:0.9,fd:0.7};
var PB={x0:-17.5,x1:17.5,z0:-17.34,z1:17.64,bw:8.85,zs:1.44,zsR:1.95,zb:2.09,
 u:[[-17.5,0.05],[-15,0.188],[-12.5,0.359],[-10,0.535],[-7.5,0.721],[-5,0.777],[-2.5,0.577],[0,0.289],[1.5,0.402]],
 A:[[-17.5,2.759],[-15,3.021],[-12.5,3.474],[-10,4.048],[-7.5,4.668],[-5,5.19],[-2.5,5.876],[0,6.613],[1.5,6.967],[2.0,7.1]],
 C:[[-17.5,-0.143],[-15,-0.109],[-12.5,0.021],[-10,0.152],[-7.5,0.124],[-5,0.087],[-2.5,0.203],[0,0.357],[1.5,0.143]],
 V:[[-17.5,-1.588],[-15,-1.443],[-12.5,-1.277],[-10,-0.905],[-7.5,-0.145],[-5,0.668],[-2.5,1.291],[0,1.943],[1.5,2.191]],
 d1:1.03,d2:4,sf:0.8,F:1.35,sb:1.95,sd:1.6,sa:-0.257,fl:0.2,f2:1.0,fd:0.7};

drawHeat('ha',PA,6.69);drawHeat('hb',PB,7.55);drawBar('ca');drawBar('cb');
</script>
</body></html>
